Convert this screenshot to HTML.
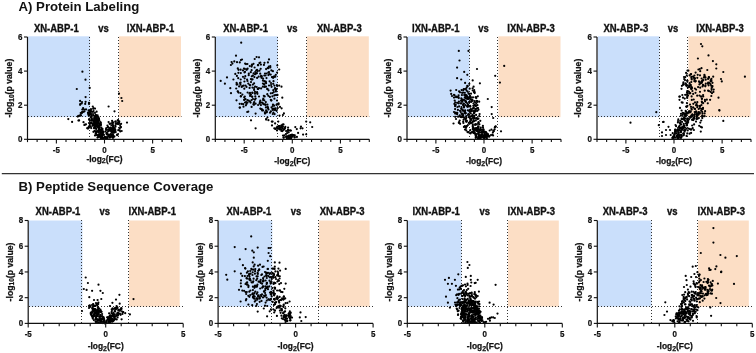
<!DOCTYPE html>
<html><head><meta charset="utf-8"><style>
html,body{margin:0;padding:0;background:#fff;width:756px;height:353px;overflow:hidden}
svg{display:block;will-change:transform}
text{font-family:"Liberation Sans",sans-serif;font-weight:bold;fill:#111}
.tt{font-size:13.2px}
.hd{font-size:9.5px;stroke:#111;stroke-width:0.3px}
.tk{font-size:8px;stroke:#111;stroke-width:0.2px}
.al{font-size:8.7px;stroke:#111;stroke-width:0.25px}
.xl{font-size:8.4px}
circle{fill:#000}
</style></head><body>
<svg width="756" height="353" viewBox="0 0 756 353">
<text x="18.5" y="11.4" class="tt">A) Protein Labeling</text>
<text x="18.5" y="191.2" class="tt">B) Peptide Sequence Coverage</text>
<line x1="1.8" y1="173.6" x2="754" y2="173.6" stroke="#333" stroke-width="1.1"/>
<rect x="28.20" y="36.30" width="61.86" height="80.84" fill="#cadffb"/>
<rect x="118.94" y="36.30" width="62.06" height="80.84" fill="#fcdec5"/>
<line x1="28" y1="116.5" x2="181.50" y2="116.5" stroke="#333" stroke-width="1" stroke-dasharray="1 2"/>
<line x1="89.5" y1="37" x2="89.5" y2="139.30" stroke="#333" stroke-width="1" stroke-dasharray="1 2"/>
<line x1="118.5" y1="37" x2="118.5" y2="139.30" stroke="#333" stroke-width="1" stroke-dasharray="1 2"/>
<circle cx="82.4" cy="71.7" r="1.1"/>
<circle cx="85.5" cy="79.7" r="1.1"/>
<circle cx="76.8" cy="89.0" r="1.1"/>
<circle cx="89.7" cy="87.9" r="1.1"/>
<circle cx="85.6" cy="97.1" r="1.1"/>
<circle cx="80.1" cy="100.9" r="1.1"/>
<circle cx="85.6" cy="101.8" r="1.1"/>
<circle cx="80.1" cy="104.8" r="1.1"/>
<circle cx="85.2" cy="103.9" r="1.1"/>
<circle cx="89.0" cy="103.9" r="1.1"/>
<circle cx="83.1" cy="108.2" r="1.1"/>
<circle cx="86.0" cy="109.4" r="1.1"/>
<circle cx="92.8" cy="106.5" r="1.1"/>
<circle cx="95.0" cy="108.6" r="1.1"/>
<circle cx="81.8" cy="112.4" r="1.1"/>
<circle cx="78.4" cy="115.8" r="1.1"/>
<circle cx="80.1" cy="115.4" r="1.1"/>
<circle cx="78.4" cy="120.5" r="1.1"/>
<circle cx="83.5" cy="122.2" r="1.1"/>
<circle cx="86.0" cy="124.3" r="1.1"/>
<circle cx="68.3" cy="119.1" r="1.1"/>
<circle cx="72.1" cy="121.9" r="1.1"/>
<circle cx="79.1" cy="120.4" r="1.1"/>
<circle cx="77.8" cy="116.6" r="1.1"/>
<circle cx="81.0" cy="115.3" r="1.1"/>
<circle cx="82.3" cy="109.6" r="1.1"/>
<circle cx="108.6" cy="106.5" r="1.1"/>
<circle cx="114.5" cy="111.3" r="1.1"/>
<circle cx="127.0" cy="122.6" r="1.1"/>
<circle cx="108.6" cy="122.0" r="1.1"/>
<circle cx="112.1" cy="120.8" r="1.1"/>
<circle cx="113.3" cy="122.6" r="1.1"/>
<circle cx="118.1" cy="120.2" r="1.1"/>
<circle cx="119.3" cy="121.4" r="1.1"/>
<circle cx="121.1" cy="123.8" r="1.1"/>
<circle cx="120.5" cy="127.4" r="1.1"/>
<circle cx="121.7" cy="131.0" r="1.1"/>
<circle cx="115.7" cy="132.1" r="1.1"/>
<circle cx="107.4" cy="125.6" r="1.1"/>
<circle cx="119.0" cy="93.7" r="1.1"/>
<circle cx="121.4" cy="98.0" r="1.1"/>
<circle cx="122.2" cy="101.0" r="1.1"/>
<circle cx="92.9" cy="111.9" r="1.1"/>
<circle cx="96.7" cy="118.6" r="1.1"/>
<circle cx="89.3" cy="114.1" r="1.1"/>
<circle cx="98.3" cy="137.0" r="1.1"/>
<circle cx="97.4" cy="119.6" r="1.1"/>
<circle cx="89.7" cy="110.8" r="1.1"/>
<circle cx="98.5" cy="118.8" r="1.1"/>
<circle cx="88.2" cy="113.6" r="1.1"/>
<circle cx="99.3" cy="120.6" r="1.1"/>
<circle cx="92.7" cy="125.5" r="1.1"/>
<circle cx="95.2" cy="116.5" r="1.1"/>
<circle cx="101.3" cy="129.1" r="1.1"/>
<circle cx="96.5" cy="134.7" r="1.1"/>
<circle cx="94.6" cy="130.9" r="1.1"/>
<circle cx="100.8" cy="125.2" r="1.1"/>
<circle cx="99.5" cy="125.8" r="1.1"/>
<circle cx="97.5" cy="121.5" r="1.1"/>
<circle cx="102.1" cy="136.9" r="1.1"/>
<circle cx="95.6" cy="128.0" r="1.1"/>
<circle cx="94.0" cy="128.2" r="1.1"/>
<circle cx="90.1" cy="110.8" r="1.1"/>
<circle cx="89.4" cy="114.9" r="1.1"/>
<circle cx="96.9" cy="134.9" r="1.1"/>
<circle cx="101.8" cy="134.3" r="1.1"/>
<circle cx="92.1" cy="120.2" r="1.1"/>
<circle cx="90.3" cy="114.4" r="1.1"/>
<circle cx="91.3" cy="122.4" r="1.1"/>
<circle cx="97.6" cy="115.4" r="1.1"/>
<circle cx="93.7" cy="124.9" r="1.1"/>
<circle cx="96.3" cy="126.6" r="1.1"/>
<circle cx="103.2" cy="131.7" r="1.1"/>
<circle cx="102.8" cy="132.2" r="1.1"/>
<circle cx="94.1" cy="119.7" r="1.1"/>
<circle cx="90.8" cy="112.2" r="1.1"/>
<circle cx="93.2" cy="108.8" r="1.1"/>
<circle cx="91.6" cy="118.0" r="1.1"/>
<circle cx="93.6" cy="111.0" r="1.1"/>
<circle cx="102.3" cy="138.4" r="1.1"/>
<circle cx="95.4" cy="122.3" r="1.1"/>
<circle cx="88.6" cy="110.3" r="1.1"/>
<circle cx="93.2" cy="115.4" r="1.1"/>
<circle cx="96.6" cy="111.7" r="1.1"/>
<circle cx="102.6" cy="129.0" r="1.1"/>
<circle cx="91.8" cy="118.7" r="1.1"/>
<circle cx="96.6" cy="131.6" r="1.1"/>
<circle cx="93.0" cy="114.1" r="1.1"/>
<circle cx="101.6" cy="138.1" r="1.1"/>
<circle cx="102.4" cy="132.5" r="1.1"/>
<circle cx="101.7" cy="130.4" r="1.1"/>
<circle cx="91.2" cy="123.4" r="1.1"/>
<circle cx="93.5" cy="108.0" r="1.1"/>
<circle cx="103.9" cy="138.2" r="1.1"/>
<circle cx="91.0" cy="114.2" r="1.1"/>
<circle cx="90.6" cy="113.5" r="1.1"/>
<circle cx="98.3" cy="135.5" r="1.1"/>
<circle cx="98.8" cy="132.3" r="1.1"/>
<circle cx="103.4" cy="131.7" r="1.1"/>
<circle cx="100.5" cy="122.2" r="1.1"/>
<circle cx="89.4" cy="111.9" r="1.1"/>
<circle cx="103.3" cy="132.5" r="1.1"/>
<circle cx="93.4" cy="124.4" r="1.1"/>
<circle cx="91.6" cy="116.3" r="1.1"/>
<circle cx="91.7" cy="120.3" r="1.1"/>
<circle cx="93.4" cy="121.5" r="1.1"/>
<circle cx="97.5" cy="135.6" r="1.1"/>
<circle cx="96.1" cy="123.9" r="1.1"/>
<circle cx="95.0" cy="112.9" r="1.1"/>
<circle cx="100.1" cy="124.6" r="1.1"/>
<circle cx="92.9" cy="123.4" r="1.1"/>
<circle cx="97.0" cy="131.8" r="1.1"/>
<circle cx="91.5" cy="115.8" r="1.1"/>
<circle cx="100.9" cy="123.1" r="1.1"/>
<circle cx="97.2" cy="131.0" r="1.1"/>
<circle cx="98.1" cy="123.0" r="1.1"/>
<circle cx="96.3" cy="128.9" r="1.1"/>
<circle cx="95.2" cy="123.9" r="1.1"/>
<circle cx="99.6" cy="134.7" r="1.1"/>
<circle cx="88.4" cy="114.7" r="1.1"/>
<circle cx="101.1" cy="135.4" r="1.1"/>
<circle cx="102.9" cy="137.6" r="1.1"/>
<circle cx="94.2" cy="122.4" r="1.1"/>
<circle cx="90.0" cy="120.7" r="1.1"/>
<circle cx="96.3" cy="117.8" r="1.1"/>
<circle cx="90.6" cy="117.1" r="1.1"/>
<circle cx="97.0" cy="121.0" r="1.1"/>
<circle cx="98.3" cy="123.2" r="1.1"/>
<circle cx="101.2" cy="137.7" r="1.1"/>
<circle cx="89.0" cy="115.5" r="1.1"/>
<circle cx="96.2" cy="117.4" r="1.1"/>
<circle cx="99.5" cy="131.3" r="1.1"/>
<circle cx="100.9" cy="124.6" r="1.1"/>
<circle cx="100.3" cy="133.8" r="1.1"/>
<circle cx="98.2" cy="122.5" r="1.1"/>
<circle cx="99.3" cy="136.8" r="1.1"/>
<circle cx="96.1" cy="117.4" r="1.1"/>
<circle cx="99.1" cy="120.1" r="1.1"/>
<circle cx="94.3" cy="118.2" r="1.1"/>
<circle cx="96.6" cy="121.7" r="1.1"/>
<circle cx="98.8" cy="118.6" r="1.1"/>
<circle cx="101.4" cy="127.7" r="1.1"/>
<circle cx="95.2" cy="125.8" r="1.1"/>
<circle cx="98.7" cy="134.6" r="1.1"/>
<circle cx="97.5" cy="126.6" r="1.1"/>
<circle cx="100.9" cy="138.2" r="1.1"/>
<circle cx="101.1" cy="129.8" r="1.1"/>
<circle cx="97.7" cy="122.7" r="1.1"/>
<circle cx="96.0" cy="118.3" r="1.1"/>
<circle cx="96.3" cy="120.2" r="1.1"/>
<circle cx="96.4" cy="125.5" r="1.1"/>
<circle cx="94.9" cy="125.1" r="1.1"/>
<circle cx="96.6" cy="123.0" r="1.1"/>
<circle cx="98.5" cy="126.5" r="1.1"/>
<circle cx="95.4" cy="126.6" r="1.1"/>
<circle cx="94.1" cy="124.0" r="1.1"/>
<circle cx="96.5" cy="120.0" r="1.1"/>
<circle cx="99.7" cy="127.2" r="1.1"/>
<circle cx="101.6" cy="130.3" r="1.1"/>
<circle cx="101.2" cy="135.7" r="1.1"/>
<circle cx="97.5" cy="122.2" r="1.1"/>
<circle cx="101.3" cy="129.9" r="1.1"/>
<circle cx="101.4" cy="134.0" r="1.1"/>
<circle cx="94.7" cy="127.0" r="1.1"/>
<circle cx="98.8" cy="134.6" r="1.1"/>
<circle cx="102.2" cy="134.4" r="1.1"/>
<circle cx="99.7" cy="136.0" r="1.1"/>
<circle cx="100.8" cy="131.1" r="1.1"/>
<circle cx="95.7" cy="115.1" r="1.1"/>
<circle cx="94.6" cy="123.1" r="1.1"/>
<circle cx="99.4" cy="129.6" r="1.1"/>
<circle cx="100.2" cy="130.8" r="1.1"/>
<circle cx="102.1" cy="132.5" r="1.1"/>
<circle cx="98.8" cy="127.3" r="1.1"/>
<circle cx="93.9" cy="120.8" r="1.1"/>
<circle cx="101.5" cy="138.0" r="1.1"/>
<circle cx="98.7" cy="123.6" r="1.1"/>
<circle cx="98.5" cy="130.9" r="1.1"/>
<circle cx="101.8" cy="129.3" r="1.1"/>
<circle cx="94.8" cy="120.5" r="1.1"/>
<circle cx="93.8" cy="120.8" r="1.1"/>
<circle cx="100.7" cy="131.1" r="1.1"/>
<circle cx="98.9" cy="125.6" r="1.1"/>
<circle cx="98.4" cy="117.2" r="1.1"/>
<circle cx="102.4" cy="137.8" r="1.1"/>
<circle cx="98.2" cy="120.8" r="1.1"/>
<circle cx="95.5" cy="128.4" r="1.1"/>
<circle cx="94.7" cy="127.0" r="1.1"/>
<circle cx="98.2" cy="121.6" r="1.1"/>
<circle cx="94.7" cy="122.7" r="1.1"/>
<circle cx="97.3" cy="123.8" r="1.1"/>
<circle cx="97.2" cy="124.7" r="1.1"/>
<circle cx="96.2" cy="115.5" r="1.1"/>
<circle cx="95.9" cy="120.8" r="1.1"/>
<circle cx="98.9" cy="118.9" r="1.1"/>
<circle cx="103.1" cy="134.0" r="1.1"/>
<circle cx="100.2" cy="136.5" r="1.1"/>
<circle cx="101.6" cy="130.0" r="1.1"/>
<circle cx="96.3" cy="115.5" r="1.1"/>
<circle cx="98.4" cy="122.7" r="1.1"/>
<circle cx="96.5" cy="132.3" r="1.1"/>
<circle cx="99.4" cy="123.9" r="1.1"/>
<circle cx="95.0" cy="118.2" r="1.1"/>
<circle cx="98.7" cy="119.6" r="1.1"/>
<circle cx="98.2" cy="117.7" r="1.1"/>
<circle cx="95.3" cy="116.5" r="1.1"/>
<circle cx="97.0" cy="116.5" r="1.1"/>
<circle cx="95.8" cy="120.6" r="1.1"/>
<circle cx="99.5" cy="135.9" r="1.1"/>
<circle cx="97.8" cy="127.0" r="1.1"/>
<circle cx="97.4" cy="122.5" r="1.1"/>
<circle cx="93.8" cy="121.0" r="1.1"/>
<circle cx="98.8" cy="129.6" r="1.1"/>
<circle cx="96.2" cy="120.3" r="1.1"/>
<circle cx="97.6" cy="125.1" r="1.1"/>
<circle cx="103.9" cy="134.9" r="1.1"/>
<circle cx="102.4" cy="135.1" r="1.1"/>
<circle cx="94.3" cy="118.1" r="1.1"/>
<circle cx="99.0" cy="130.9" r="1.1"/>
<circle cx="100.4" cy="132.9" r="1.1"/>
<circle cx="98.3" cy="127.7" r="1.1"/>
<circle cx="94.5" cy="120.4" r="1.1"/>
<circle cx="100.3" cy="131.3" r="1.1"/>
<circle cx="94.4" cy="116.0" r="1.1"/>
<circle cx="99.0" cy="128.5" r="1.1"/>
<circle cx="97.5" cy="119.7" r="1.1"/>
<circle cx="96.5" cy="125.5" r="1.1"/>
<circle cx="95.8" cy="120.3" r="1.1"/>
<circle cx="98.7" cy="130.7" r="1.1"/>
<circle cx="97.8" cy="120.6" r="1.1"/>
<circle cx="100.6" cy="136.8" r="1.1"/>
<circle cx="95.7" cy="115.1" r="1.1"/>
<circle cx="96.9" cy="124.5" r="1.1"/>
<circle cx="102.1" cy="132.3" r="1.1"/>
<circle cx="98.8" cy="119.3" r="1.1"/>
<circle cx="98.7" cy="118.9" r="1.1"/>
<circle cx="95.6" cy="124.4" r="1.1"/>
<circle cx="88.0" cy="128.6" r="1.1"/>
<circle cx="81.8" cy="113.0" r="1.1"/>
<circle cx="81.7" cy="103.5" r="1.1"/>
<circle cx="80.7" cy="113.0" r="1.1"/>
<circle cx="90.8" cy="126.7" r="1.1"/>
<circle cx="91.2" cy="111.2" r="1.1"/>
<circle cx="89.0" cy="102.9" r="1.1"/>
<circle cx="88.0" cy="112.6" r="1.1"/>
<circle cx="84.5" cy="111.3" r="1.1"/>
<circle cx="82.0" cy="102.1" r="1.1"/>
<circle cx="83.4" cy="111.8" r="1.1"/>
<circle cx="84.3" cy="125.0" r="1.1"/>
<circle cx="89.9" cy="114.1" r="1.1"/>
<circle cx="80.6" cy="115.3" r="1.1"/>
<circle cx="82.3" cy="112.2" r="1.1"/>
<circle cx="84.9" cy="124.7" r="1.1"/>
<circle cx="89.2" cy="103.1" r="1.1"/>
<circle cx="80.4" cy="103.8" r="1.1"/>
<circle cx="91.0" cy="109.2" r="1.1"/>
<circle cx="89.0" cy="127.2" r="1.1"/>
<circle cx="84.1" cy="109.6" r="1.1"/>
<circle cx="91.5" cy="119.3" r="1.1"/>
<circle cx="89.8" cy="123.7" r="1.1"/>
<circle cx="88.8" cy="127.7" r="1.1"/>
<circle cx="97.5" cy="137.6" r="1.1"/>
<circle cx="90.6" cy="123.1" r="1.1"/>
<circle cx="91.2" cy="128.1" r="1.1"/>
<circle cx="95.6" cy="133.1" r="1.1"/>
<circle cx="95.9" cy="133.8" r="1.1"/>
<circle cx="93.3" cy="124.7" r="1.1"/>
<circle cx="89.8" cy="125.4" r="1.1"/>
<circle cx="89.0" cy="119.3" r="1.1"/>
<circle cx="89.2" cy="119.7" r="1.1"/>
<circle cx="87.2" cy="128.2" r="1.1"/>
<circle cx="94.5" cy="127.2" r="1.1"/>
<circle cx="88.8" cy="126.5" r="1.1"/>
<circle cx="93.4" cy="131.8" r="1.1"/>
<circle cx="95.0" cy="135.4" r="1.1"/>
<circle cx="92.8" cy="125.6" r="1.1"/>
<circle cx="89.0" cy="123.0" r="1.1"/>
<circle cx="92.9" cy="124.7" r="1.1"/>
<circle cx="95.7" cy="131.4" r="1.1"/>
<circle cx="112.5" cy="135.2" r="1.1"/>
<circle cx="120.7" cy="126.9" r="1.1"/>
<circle cx="119.6" cy="128.4" r="1.1"/>
<circle cx="108.7" cy="134.5" r="1.1"/>
<circle cx="114.7" cy="131.5" r="1.1"/>
<circle cx="107.9" cy="126.9" r="1.1"/>
<circle cx="108.6" cy="131.1" r="1.1"/>
<circle cx="115.7" cy="123.8" r="1.1"/>
<circle cx="116.2" cy="123.4" r="1.1"/>
<circle cx="109.6" cy="123.8" r="1.1"/>
<circle cx="118.3" cy="130.2" r="1.1"/>
<circle cx="111.1" cy="130.2" r="1.1"/>
<circle cx="115.5" cy="121.7" r="1.1"/>
<circle cx="106.9" cy="132.9" r="1.1"/>
<circle cx="111.4" cy="125.3" r="1.1"/>
<circle cx="109.5" cy="137.7" r="1.1"/>
<circle cx="109.6" cy="130.5" r="1.1"/>
<circle cx="110.4" cy="127.7" r="1.1"/>
<circle cx="110.5" cy="123.7" r="1.1"/>
<circle cx="117.1" cy="123.8" r="1.1"/>
<circle cx="111.6" cy="135.3" r="1.1"/>
<circle cx="111.3" cy="136.4" r="1.1"/>
<circle cx="112.3" cy="123.0" r="1.1"/>
<circle cx="105.6" cy="131.6" r="1.1"/>
<circle cx="110.7" cy="129.4" r="1.1"/>
<circle cx="113.4" cy="137.2" r="1.1"/>
<circle cx="106.0" cy="129.1" r="1.1"/>
<circle cx="120.7" cy="127.2" r="1.1"/>
<circle cx="120.3" cy="131.5" r="1.1"/>
<circle cx="118.8" cy="123.0" r="1.1"/>
<circle cx="118.1" cy="124.1" r="1.1"/>
<circle cx="111.3" cy="135.7" r="1.1"/>
<circle cx="118.9" cy="123.4" r="1.1"/>
<circle cx="107.9" cy="127.4" r="1.1"/>
<circle cx="113.3" cy="127.1" r="1.1"/>
<circle cx="117.6" cy="120.7" r="1.1"/>
<circle cx="119.1" cy="122.2" r="1.1"/>
<circle cx="114.8" cy="130.2" r="1.1"/>
<circle cx="115.3" cy="125.7" r="1.1"/>
<circle cx="111.6" cy="130.8" r="1.1"/>
<circle cx="111.7" cy="132.3" r="1.1"/>
<circle cx="112.0" cy="128.2" r="1.1"/>
<circle cx="112.8" cy="124.4" r="1.1"/>
<circle cx="117.7" cy="134.5" r="1.1"/>
<circle cx="112.2" cy="123.3" r="1.1"/>
<circle cx="112.5" cy="122.0" r="1.1"/>
<circle cx="106.3" cy="128.0" r="1.1"/>
<circle cx="115.5" cy="121.5" r="1.1"/>
<circle cx="117.2" cy="134.5" r="1.1"/>
<circle cx="113.1" cy="127.0" r="1.1"/>
<circle cx="117.2" cy="135.2" r="1.1"/>
<circle cx="107.5" cy="138.3" r="1.1"/>
<circle cx="112.9" cy="137.8" r="1.1"/>
<circle cx="117.6" cy="123.0" r="1.1"/>
<circle cx="120.1" cy="125.1" r="1.1"/>
<circle cx="118.7" cy="122.7" r="1.1"/>
<circle cx="113.0" cy="137.1" r="1.1"/>
<circle cx="113.1" cy="125.9" r="1.1"/>
<circle cx="106.9" cy="137.4" r="1.1"/>
<circle cx="107.0" cy="134.6" r="1.1"/>
<circle cx="106.1" cy="129.9" r="1.1"/>
<circle cx="115.5" cy="126.7" r="1.1"/>
<circle cx="119.7" cy="130.3" r="1.1"/>
<circle cx="114.4" cy="136.4" r="1.1"/>
<circle cx="105.9" cy="138.5" r="1.1"/>
<circle cx="112.2" cy="131.0" r="1.1"/>
<circle cx="114.4" cy="129.3" r="1.1"/>
<circle cx="108.7" cy="135.6" r="1.1"/>
<circle cx="109.7" cy="128.2" r="1.1"/>
<circle cx="114.7" cy="129.2" r="1.1"/>
<circle cx="111.6" cy="134.4" r="1.1"/>
<circle cx="112.0" cy="131.4" r="1.1"/>
<circle cx="110.7" cy="137.3" r="1.1"/>
<circle cx="106.9" cy="133.4" r="1.1"/>
<circle cx="111.7" cy="128.6" r="1.1"/>
<circle cx="112.1" cy="132.0" r="1.1"/>
<circle cx="105.8" cy="137.8" r="1.1"/>
<circle cx="109.2" cy="129.3" r="1.1"/>
<circle cx="111.3" cy="130.4" r="1.1"/>
<circle cx="112.4" cy="131.6" r="1.1"/>
<circle cx="107.2" cy="137.4" r="1.1"/>
<circle cx="109.3" cy="129.0" r="1.1"/>
<circle cx="106.6" cy="133.7" r="1.1"/>
<circle cx="110.6" cy="134.1" r="1.1"/>
<circle cx="114.6" cy="128.2" r="1.1"/>
<circle cx="108.0" cy="129.8" r="1.1"/>
<circle cx="104.6" cy="137.2" r="1.1"/>
<circle cx="113.7" cy="131.9" r="1.1"/>
<circle cx="113.6" cy="131.7" r="1.1"/>
<circle cx="108.4" cy="135.4" r="1.1"/>
<circle cx="113.0" cy="136.7" r="1.1"/>
<circle cx="113.3" cy="129.4" r="1.1"/>
<circle cx="111.2" cy="131.5" r="1.1"/>
<circle cx="114.2" cy="132.6" r="1.1"/>
<circle cx="107.4" cy="134.1" r="1.1"/>
<circle cx="113.7" cy="130.1" r="1.1"/>
<circle cx="115.4" cy="130.1" r="1.1"/>
<circle cx="107.1" cy="137.4" r="1.1"/>
<circle cx="112.2" cy="134.7" r="1.1"/>
<circle cx="110.1" cy="136.6" r="1.1"/>
<circle cx="109.7" cy="135.1" r="1.1"/>
<circle cx="111.4" cy="129.9" r="1.1"/>
<circle cx="106.8" cy="133.8" r="1.1"/>
<circle cx="105.0" cy="137.5" r="1.1"/>
<circle cx="105.4" cy="137.7" r="1.1"/>
<circle cx="113.0" cy="134.0" r="1.1"/>
<circle cx="113.1" cy="135.3" r="1.1"/>
<circle cx="108.7" cy="136.3" r="1.1"/>
<circle cx="104.9" cy="136.9" r="1.1"/>
<circle cx="112.2" cy="136.4" r="1.1"/>
<circle cx="112.2" cy="129.6" r="1.1"/>
<circle cx="113.8" cy="128.6" r="1.1"/>
<circle cx="108.1" cy="131.3" r="1.1"/>
<path d="M27.50 37.00V139.30H181.50" fill="none" stroke="#111" stroke-width="1.2"/>
<line x1="24.00" y1="139.30" x2="27.50" y2="139.30" stroke="#111" stroke-width="1.1"/>
<text transform="translate(22.50,142.20) scale(1,1.12)" text-anchor="end" class="tk">0</text>
<line x1="24.00" y1="105.20" x2="27.50" y2="105.20" stroke="#111" stroke-width="1.1"/>
<text transform="translate(22.50,108.10) scale(1,1.12)" text-anchor="end" class="tk">2</text>
<line x1="24.00" y1="71.10" x2="27.50" y2="71.10" stroke="#111" stroke-width="1.1"/>
<text transform="translate(22.50,74.00) scale(1,1.12)" text-anchor="end" class="tk">4</text>
<line x1="24.00" y1="37.00" x2="27.50" y2="37.00" stroke="#111" stroke-width="1.1"/>
<text transform="translate(22.50,39.90) scale(1,1.12)" text-anchor="end" class="tk">6</text>
<line x1="27.50" y1="139.30" x2="27.50" y2="142.10" stroke="#111" stroke-width="1.1"/>
<line x1="37.12" y1="139.30" x2="37.12" y2="142.10" stroke="#111" stroke-width="1.1"/>
<line x1="46.75" y1="139.30" x2="46.75" y2="142.10" stroke="#111" stroke-width="1.1"/>
<line x1="56.38" y1="139.30" x2="56.38" y2="143.50" stroke="#111" stroke-width="1.1"/>
<line x1="66.00" y1="139.30" x2="66.00" y2="142.10" stroke="#111" stroke-width="1.1"/>
<line x1="75.62" y1="139.30" x2="75.62" y2="142.10" stroke="#111" stroke-width="1.1"/>
<line x1="85.25" y1="139.30" x2="85.25" y2="142.10" stroke="#111" stroke-width="1.1"/>
<line x1="94.88" y1="139.30" x2="94.88" y2="142.10" stroke="#111" stroke-width="1.1"/>
<line x1="104.50" y1="139.30" x2="104.50" y2="143.50" stroke="#111" stroke-width="1.1"/>
<line x1="114.12" y1="139.30" x2="114.12" y2="142.10" stroke="#111" stroke-width="1.1"/>
<line x1="123.75" y1="139.30" x2="123.75" y2="142.10" stroke="#111" stroke-width="1.1"/>
<line x1="133.38" y1="139.30" x2="133.38" y2="142.10" stroke="#111" stroke-width="1.1"/>
<line x1="143.00" y1="139.30" x2="143.00" y2="142.10" stroke="#111" stroke-width="1.1"/>
<line x1="152.62" y1="139.30" x2="152.62" y2="143.50" stroke="#111" stroke-width="1.1"/>
<line x1="162.25" y1="139.30" x2="162.25" y2="142.10" stroke="#111" stroke-width="1.1"/>
<line x1="171.88" y1="139.30" x2="171.88" y2="142.10" stroke="#111" stroke-width="1.1"/>
<line x1="181.50" y1="139.30" x2="181.50" y2="142.10" stroke="#111" stroke-width="1.1"/>
<text transform="translate(56.38,152.70) scale(1,1.12)" text-anchor="middle" class="tk">-5</text>
<text transform="translate(104.50,152.70) scale(1,1.12)" text-anchor="middle" class="tk">0</text>
<text transform="translate(152.62,152.70) scale(1,1.12)" text-anchor="middle" class="tk">5</text>
<text x="104.50" y="161.50" text-anchor="middle" class="al xl">-log<tspan font-size="7" dy="1.8">2</tspan><tspan dy="-1.8">(FC)</tspan></text>
<text transform="translate(11.90,88.15) rotate(-90)" text-anchor="middle" class="al">-log<tspan font-size="6.5" dy="1.6">10</tspan><tspan dy="-1.6">(p value)</tspan></text>
<text transform="translate(56.30,31.50) scale(1,1.1)" text-anchor="middle" class="hd">XN-ABP-1</text>
<text transform="translate(103.50,31.50) scale(1,1.1)" text-anchor="middle" class="hd">vs</text>
<text transform="translate(150.50,31.50) scale(1,1.1)" text-anchor="middle" class="hd">IXN-ABP-1</text>
<rect x="28.90" y="220.50" width="53.55" height="86.18" fill="#cadffb"/>
<rect x="128.95" y="220.50" width="50.75" height="86.18" fill="#fcdec5"/>
<line x1="29" y1="306.5" x2="183.20" y2="306.5" stroke="#333" stroke-width="1" stroke-dasharray="1 2"/>
<line x1="81.5" y1="220" x2="81.5" y2="323.40" stroke="#333" stroke-width="1" stroke-dasharray="1 2"/>
<line x1="128.5" y1="220" x2="128.5" y2="323.40" stroke="#333" stroke-width="1" stroke-dasharray="1 2"/>
<circle cx="85.7" cy="277.5" r="1.1"/>
<circle cx="87.9" cy="283.0" r="1.1"/>
<circle cx="98.5" cy="284.7" r="1.1"/>
<circle cx="83.8" cy="289.0" r="1.1"/>
<circle cx="86.6" cy="289.9" r="1.1"/>
<circle cx="92.1" cy="290.8" r="1.1"/>
<circle cx="100.4" cy="290.8" r="1.1"/>
<circle cx="102.8" cy="293.0" r="1.1"/>
<circle cx="89.3" cy="297.2" r="1.1"/>
<circle cx="101.3" cy="299.0" r="1.1"/>
<circle cx="94.0" cy="300.0" r="1.1"/>
<circle cx="97.6" cy="300.0" r="1.1"/>
<circle cx="119.4" cy="294.8" r="1.1"/>
<circle cx="116.0" cy="299.6" r="1.1"/>
<circle cx="119.7" cy="303.7" r="1.1"/>
<circle cx="112.4" cy="302.8" r="1.1"/>
<circle cx="133.5" cy="299.1" r="1.1"/>
<circle cx="82.0" cy="311.0" r="1.1"/>
<circle cx="125.2" cy="313.2" r="1.1"/>
<circle cx="129.9" cy="314.4" r="1.1"/>
<circle cx="121.6" cy="319.3" r="1.1"/>
<circle cx="92.0" cy="305.0" r="1.1"/>
<circle cx="89.0" cy="308.0" r="1.1"/>
<circle cx="96.0" cy="303.0" r="1.1"/>
<circle cx="110.0" cy="306.0" r="1.1"/>
<circle cx="112.0" cy="310.0" r="1.1"/>
<circle cx="97.4" cy="315.4" r="1.1"/>
<circle cx="101.3" cy="319.3" r="1.1"/>
<circle cx="93.2" cy="310.4" r="1.1"/>
<circle cx="93.2" cy="315.9" r="1.1"/>
<circle cx="95.5" cy="310.8" r="1.1"/>
<circle cx="99.9" cy="316.3" r="1.1"/>
<circle cx="102.6" cy="318.6" r="1.1"/>
<circle cx="101.6" cy="311.8" r="1.1"/>
<circle cx="97.4" cy="320.7" r="1.1"/>
<circle cx="104.9" cy="322.2" r="1.1"/>
<circle cx="92.8" cy="318.6" r="1.1"/>
<circle cx="98.8" cy="314.4" r="1.1"/>
<circle cx="92.9" cy="310.4" r="1.1"/>
<circle cx="97.5" cy="315.7" r="1.1"/>
<circle cx="94.4" cy="313.9" r="1.1"/>
<circle cx="98.8" cy="319.8" r="1.1"/>
<circle cx="99.3" cy="310.7" r="1.1"/>
<circle cx="104.9" cy="323.1" r="1.1"/>
<circle cx="92.5" cy="317.1" r="1.1"/>
<circle cx="98.7" cy="313.0" r="1.1"/>
<circle cx="92.3" cy="312.6" r="1.1"/>
<circle cx="99.9" cy="316.8" r="1.1"/>
<circle cx="100.0" cy="316.5" r="1.1"/>
<circle cx="103.4" cy="318.4" r="1.1"/>
<circle cx="95.8" cy="317.4" r="1.1"/>
<circle cx="98.8" cy="311.4" r="1.1"/>
<circle cx="98.1" cy="310.1" r="1.1"/>
<circle cx="103.0" cy="318.4" r="1.1"/>
<circle cx="100.7" cy="322.3" r="1.1"/>
<circle cx="91.1" cy="314.7" r="1.1"/>
<circle cx="99.0" cy="308.4" r="1.1"/>
<circle cx="96.7" cy="321.9" r="1.1"/>
<circle cx="99.3" cy="320.7" r="1.1"/>
<circle cx="98.2" cy="313.2" r="1.1"/>
<circle cx="102.9" cy="323.1" r="1.1"/>
<circle cx="94.5" cy="310.5" r="1.1"/>
<circle cx="95.9" cy="318.3" r="1.1"/>
<circle cx="104.8" cy="323.3" r="1.1"/>
<circle cx="100.3" cy="310.7" r="1.1"/>
<circle cx="101.4" cy="316.6" r="1.1"/>
<circle cx="95.8" cy="321.9" r="1.1"/>
<circle cx="94.3" cy="310.4" r="1.1"/>
<circle cx="92.8" cy="310.6" r="1.1"/>
<circle cx="99.3" cy="320.4" r="1.1"/>
<circle cx="92.8" cy="315.9" r="1.1"/>
<circle cx="99.1" cy="316.8" r="1.1"/>
<circle cx="96.6" cy="316.5" r="1.1"/>
<circle cx="96.8" cy="311.9" r="1.1"/>
<circle cx="91.8" cy="315.5" r="1.1"/>
<circle cx="96.3" cy="313.4" r="1.1"/>
<circle cx="100.5" cy="320.9" r="1.1"/>
<circle cx="97.2" cy="315.9" r="1.1"/>
<circle cx="91.6" cy="313.3" r="1.1"/>
<circle cx="96.8" cy="313.0" r="1.1"/>
<circle cx="98.1" cy="322.4" r="1.1"/>
<circle cx="94.1" cy="310.6" r="1.1"/>
<circle cx="95.0" cy="313.2" r="1.1"/>
<circle cx="104.1" cy="319.0" r="1.1"/>
<circle cx="96.9" cy="310.8" r="1.1"/>
<circle cx="103.2" cy="318.1" r="1.1"/>
<circle cx="92.8" cy="317.7" r="1.1"/>
<circle cx="95.5" cy="309.8" r="1.1"/>
<circle cx="101.6" cy="319.1" r="1.1"/>
<circle cx="98.1" cy="310.8" r="1.1"/>
<circle cx="100.5" cy="314.8" r="1.1"/>
<circle cx="100.4" cy="309.7" r="1.1"/>
<circle cx="93.8" cy="314.3" r="1.1"/>
<circle cx="93.4" cy="309.6" r="1.1"/>
<circle cx="95.5" cy="312.3" r="1.1"/>
<circle cx="100.5" cy="311.7" r="1.1"/>
<circle cx="96.5" cy="318.7" r="1.1"/>
<circle cx="96.9" cy="310.7" r="1.1"/>
<circle cx="91.9" cy="315.9" r="1.1"/>
<circle cx="97.8" cy="311.2" r="1.1"/>
<circle cx="100.5" cy="315.8" r="1.1"/>
<circle cx="104.5" cy="320.6" r="1.1"/>
<circle cx="97.6" cy="310.4" r="1.1"/>
<circle cx="97.7" cy="310.2" r="1.1"/>
<circle cx="100.8" cy="318.8" r="1.1"/>
<circle cx="99.1" cy="323.0" r="1.1"/>
<circle cx="95.3" cy="309.1" r="1.1"/>
<circle cx="99.2" cy="319.2" r="1.1"/>
<circle cx="95.7" cy="318.8" r="1.1"/>
<circle cx="95.9" cy="319.1" r="1.1"/>
<circle cx="103.5" cy="317.9" r="1.1"/>
<circle cx="96.1" cy="318.4" r="1.1"/>
<circle cx="95.7" cy="321.5" r="1.1"/>
<circle cx="104.1" cy="320.2" r="1.1"/>
<circle cx="103.5" cy="317.2" r="1.1"/>
<circle cx="93.4" cy="316.1" r="1.1"/>
<circle cx="97.7" cy="313.4" r="1.1"/>
<circle cx="96.0" cy="316.0" r="1.1"/>
<circle cx="99.3" cy="311.7" r="1.1"/>
<circle cx="94.6" cy="315.9" r="1.1"/>
<circle cx="98.0" cy="314.6" r="1.1"/>
<circle cx="100.4" cy="311.1" r="1.1"/>
<circle cx="98.4" cy="312.5" r="1.1"/>
<circle cx="102.0" cy="318.9" r="1.1"/>
<circle cx="102.2" cy="316.1" r="1.1"/>
<circle cx="98.1" cy="314.0" r="1.1"/>
<circle cx="94.8" cy="314.4" r="1.1"/>
<circle cx="101.1" cy="320.7" r="1.1"/>
<circle cx="97.7" cy="319.3" r="1.1"/>
<circle cx="93.6" cy="315.1" r="1.1"/>
<circle cx="95.8" cy="312.9" r="1.1"/>
<circle cx="95.8" cy="319.7" r="1.1"/>
<circle cx="93.9" cy="320.1" r="1.1"/>
<circle cx="100.3" cy="318.5" r="1.1"/>
<circle cx="100.0" cy="318.8" r="1.1"/>
<circle cx="94.5" cy="309.2" r="1.1"/>
<circle cx="100.5" cy="322.9" r="1.1"/>
<circle cx="95.5" cy="309.9" r="1.1"/>
<circle cx="102.4" cy="319.4" r="1.1"/>
<circle cx="97.8" cy="313.9" r="1.1"/>
<circle cx="94.5" cy="315.7" r="1.1"/>
<circle cx="101.2" cy="321.8" r="1.1"/>
<circle cx="103.2" cy="321.4" r="1.1"/>
<circle cx="97.0" cy="314.7" r="1.1"/>
<circle cx="93.2" cy="310.7" r="1.1"/>
<circle cx="103.3" cy="321.8" r="1.1"/>
<circle cx="96.9" cy="311.2" r="1.1"/>
<circle cx="102.1" cy="314.0" r="1.1"/>
<circle cx="90.8" cy="312.6" r="1.1"/>
<circle cx="95.6" cy="305.6" r="1.1"/>
<circle cx="97.9" cy="303.6" r="1.1"/>
<circle cx="94.6" cy="310.7" r="1.1"/>
<circle cx="94.0" cy="309.5" r="1.1"/>
<circle cx="98.4" cy="302.6" r="1.1"/>
<circle cx="98.2" cy="304.1" r="1.1"/>
<circle cx="92.0" cy="312.0" r="1.1"/>
<circle cx="97.8" cy="308.0" r="1.1"/>
<circle cx="93.9" cy="309.0" r="1.1"/>
<circle cx="98.0" cy="307.1" r="1.1"/>
<circle cx="93.7" cy="305.8" r="1.1"/>
<circle cx="94.4" cy="312.6" r="1.1"/>
<circle cx="90.7" cy="313.8" r="1.1"/>
<circle cx="92.6" cy="312.0" r="1.1"/>
<circle cx="92.7" cy="308.2" r="1.1"/>
<circle cx="100.9" cy="311.3" r="1.1"/>
<circle cx="93.0" cy="310.9" r="1.1"/>
<circle cx="89.8" cy="305.3" r="1.1"/>
<circle cx="92.4" cy="308.7" r="1.1"/>
<circle cx="100.7" cy="311.8" r="1.1"/>
<circle cx="97.2" cy="305.4" r="1.1"/>
<circle cx="92.9" cy="310.5" r="1.1"/>
<circle cx="90.4" cy="306.5" r="1.1"/>
<circle cx="94.5" cy="306.1" r="1.1"/>
<circle cx="96.6" cy="304.1" r="1.1"/>
<circle cx="118.3" cy="314.7" r="1.1"/>
<circle cx="114.7" cy="314.3" r="1.1"/>
<circle cx="112.0" cy="320.9" r="1.1"/>
<circle cx="108.9" cy="321.2" r="1.1"/>
<circle cx="111.7" cy="311.5" r="1.1"/>
<circle cx="116.6" cy="315.6" r="1.1"/>
<circle cx="123.1" cy="312.1" r="1.1"/>
<circle cx="107.1" cy="317.3" r="1.1"/>
<circle cx="115.1" cy="311.4" r="1.1"/>
<circle cx="111.2" cy="320.6" r="1.1"/>
<circle cx="111.4" cy="313.0" r="1.1"/>
<circle cx="123.2" cy="312.0" r="1.1"/>
<circle cx="112.6" cy="308.4" r="1.1"/>
<circle cx="117.6" cy="317.4" r="1.1"/>
<circle cx="113.4" cy="312.8" r="1.1"/>
<circle cx="109.3" cy="319.6" r="1.1"/>
<circle cx="113.6" cy="320.4" r="1.1"/>
<circle cx="112.1" cy="318.6" r="1.1"/>
<circle cx="117.8" cy="314.4" r="1.1"/>
<circle cx="113.9" cy="309.0" r="1.1"/>
<circle cx="108.2" cy="317.0" r="1.1"/>
<circle cx="118.2" cy="310.1" r="1.1"/>
<circle cx="117.2" cy="307.9" r="1.1"/>
<circle cx="116.6" cy="308.6" r="1.1"/>
<circle cx="114.6" cy="311.1" r="1.1"/>
<circle cx="115.4" cy="307.9" r="1.1"/>
<circle cx="114.1" cy="316.5" r="1.1"/>
<circle cx="117.9" cy="315.3" r="1.1"/>
<circle cx="116.7" cy="319.5" r="1.1"/>
<circle cx="115.8" cy="309.5" r="1.1"/>
<circle cx="113.4" cy="320.4" r="1.1"/>
<circle cx="115.7" cy="319.0" r="1.1"/>
<circle cx="111.9" cy="313.5" r="1.1"/>
<circle cx="117.4" cy="307.4" r="1.1"/>
<circle cx="116.6" cy="306.1" r="1.1"/>
<circle cx="118.8" cy="310.3" r="1.1"/>
<circle cx="121.1" cy="308.7" r="1.1"/>
<circle cx="120.7" cy="314.8" r="1.1"/>
<circle cx="113.3" cy="320.4" r="1.1"/>
<circle cx="118.0" cy="315.0" r="1.1"/>
<circle cx="121.4" cy="309.1" r="1.1"/>
<circle cx="122.1" cy="311.6" r="1.1"/>
<circle cx="116.8" cy="307.7" r="1.1"/>
<circle cx="110.2" cy="322.0" r="1.1"/>
<circle cx="120.1" cy="310.5" r="1.1"/>
<circle cx="118.9" cy="309.6" r="1.1"/>
<circle cx="106.6" cy="322.1" r="1.1"/>
<circle cx="115.4" cy="316.5" r="1.1"/>
<circle cx="121.4" cy="308.1" r="1.1"/>
<circle cx="118.3" cy="313.8" r="1.1"/>
<circle cx="119.9" cy="313.7" r="1.1"/>
<circle cx="108.7" cy="322.6" r="1.1"/>
<circle cx="110.3" cy="318.8" r="1.1"/>
<circle cx="120.8" cy="309.9" r="1.1"/>
<circle cx="118.2" cy="312.6" r="1.1"/>
<circle cx="123.1" cy="312.1" r="1.1"/>
<circle cx="114.6" cy="314.5" r="1.1"/>
<circle cx="111.7" cy="309.3" r="1.1"/>
<circle cx="111.5" cy="318.6" r="1.1"/>
<circle cx="117.5" cy="312.8" r="1.1"/>
<circle cx="114.9" cy="308.3" r="1.1"/>
<circle cx="122.4" cy="313.9" r="1.1"/>
<circle cx="114.6" cy="319.6" r="1.1"/>
<circle cx="108.7" cy="318.4" r="1.1"/>
<circle cx="111.6" cy="320.0" r="1.1"/>
<circle cx="117.0" cy="314.1" r="1.1"/>
<circle cx="112.1" cy="315.9" r="1.1"/>
<circle cx="109.1" cy="313.3" r="1.1"/>
<circle cx="109.7" cy="320.4" r="1.1"/>
<circle cx="115.4" cy="316.3" r="1.1"/>
<circle cx="116.9" cy="307.7" r="1.1"/>
<circle cx="119.7" cy="310.7" r="1.1"/>
<circle cx="92.4" cy="307.7" r="1.1"/>
<circle cx="89.0" cy="305.9" r="1.1"/>
<circle cx="93.1" cy="304.0" r="1.1"/>
<circle cx="89.8" cy="307.0" r="1.1"/>
<circle cx="89.9" cy="306.3" r="1.1"/>
<circle cx="93.4" cy="306.1" r="1.1"/>
<circle cx="93.0" cy="308.9" r="1.1"/>
<circle cx="93.4" cy="304.5" r="1.1"/>
<circle cx="113.7" cy="316.2" r="1.1"/>
<circle cx="113.1" cy="315.4" r="1.1"/>
<circle cx="111.5" cy="319.7" r="1.1"/>
<circle cx="109.4" cy="318.0" r="1.1"/>
<circle cx="112.8" cy="314.6" r="1.1"/>
<circle cx="111.3" cy="320.6" r="1.1"/>
<circle cx="106.6" cy="321.7" r="1.1"/>
<circle cx="110.6" cy="315.6" r="1.1"/>
<circle cx="108.7" cy="317.8" r="1.1"/>
<circle cx="109.4" cy="321.2" r="1.1"/>
<circle cx="113.1" cy="314.2" r="1.1"/>
<circle cx="112.8" cy="321.1" r="1.1"/>
<circle cx="109.8" cy="322.7" r="1.1"/>
<circle cx="109.6" cy="316.2" r="1.1"/>
<circle cx="106.3" cy="322.9" r="1.1"/>
<circle cx="110.9" cy="317.6" r="1.1"/>
<circle cx="110.1" cy="321.0" r="1.1"/>
<circle cx="114.2" cy="318.0" r="1.1"/>
<circle cx="112.4" cy="318.8" r="1.1"/>
<circle cx="110.3" cy="319.0" r="1.1"/>
<circle cx="108.1" cy="318.8" r="1.1"/>
<circle cx="109.4" cy="322.2" r="1.1"/>
<circle cx="112.1" cy="319.6" r="1.1"/>
<circle cx="114.4" cy="317.9" r="1.1"/>
<circle cx="113.0" cy="320.6" r="1.1"/>
<circle cx="107.6" cy="319.7" r="1.1"/>
<circle cx="112.4" cy="319.8" r="1.1"/>
<circle cx="108.9" cy="319.2" r="1.1"/>
<circle cx="112.5" cy="316.0" r="1.1"/>
<circle cx="113.8" cy="316.2" r="1.1"/>
<circle cx="111.2" cy="321.4" r="1.1"/>
<circle cx="106.7" cy="320.6" r="1.1"/>
<circle cx="106.2" cy="322.7" r="1.1"/>
<circle cx="109.6" cy="318.2" r="1.1"/>
<circle cx="111.0" cy="316.1" r="1.1"/>
<circle cx="110.1" cy="315.4" r="1.1"/>
<circle cx="112.3" cy="321.7" r="1.1"/>
<path d="M28.20 220.50V323.40H183.20" fill="none" stroke="#111" stroke-width="1.2"/>
<line x1="24.70" y1="323.40" x2="28.20" y2="323.40" stroke="#111" stroke-width="1.1"/>
<text transform="translate(23.20,326.30) scale(1,1.12)" text-anchor="end" class="tk">0</text>
<line x1="24.70" y1="297.67" x2="28.20" y2="297.67" stroke="#111" stroke-width="1.1"/>
<text transform="translate(23.20,300.57) scale(1,1.12)" text-anchor="end" class="tk">2</text>
<line x1="24.70" y1="271.95" x2="28.20" y2="271.95" stroke="#111" stroke-width="1.1"/>
<text transform="translate(23.20,274.85) scale(1,1.12)" text-anchor="end" class="tk">4</text>
<line x1="24.70" y1="246.22" x2="28.20" y2="246.22" stroke="#111" stroke-width="1.1"/>
<text transform="translate(23.20,249.12) scale(1,1.12)" text-anchor="end" class="tk">6</text>
<line x1="24.70" y1="220.50" x2="28.20" y2="220.50" stroke="#111" stroke-width="1.1"/>
<text transform="translate(23.20,223.40) scale(1,1.12)" text-anchor="end" class="tk">8</text>
<line x1="28.20" y1="323.40" x2="28.20" y2="327.60" stroke="#111" stroke-width="1.1"/>
<line x1="43.70" y1="323.40" x2="43.70" y2="326.20" stroke="#111" stroke-width="1.1"/>
<line x1="59.20" y1="323.40" x2="59.20" y2="326.20" stroke="#111" stroke-width="1.1"/>
<line x1="74.70" y1="323.40" x2="74.70" y2="326.20" stroke="#111" stroke-width="1.1"/>
<line x1="90.20" y1="323.40" x2="90.20" y2="326.20" stroke="#111" stroke-width="1.1"/>
<line x1="105.70" y1="323.40" x2="105.70" y2="327.60" stroke="#111" stroke-width="1.1"/>
<line x1="121.20" y1="323.40" x2="121.20" y2="326.20" stroke="#111" stroke-width="1.1"/>
<line x1="136.70" y1="323.40" x2="136.70" y2="326.20" stroke="#111" stroke-width="1.1"/>
<line x1="152.20" y1="323.40" x2="152.20" y2="326.20" stroke="#111" stroke-width="1.1"/>
<line x1="167.70" y1="323.40" x2="167.70" y2="326.20" stroke="#111" stroke-width="1.1"/>
<line x1="183.20" y1="323.40" x2="183.20" y2="327.60" stroke="#111" stroke-width="1.1"/>
<text transform="translate(28.20,337.20) scale(1,1.12)" text-anchor="middle" class="tk">-5</text>
<text transform="translate(105.70,337.20) scale(1,1.12)" text-anchor="middle" class="tk">0</text>
<text transform="translate(183.20,337.20) scale(1,1.12)" text-anchor="middle" class="tk">5</text>
<text x="105.70" y="348.80" text-anchor="middle" class="al xl">-log<tspan font-size="7" dy="1.8">2</tspan><tspan dy="-1.8">(FC)</tspan></text>
<text transform="translate(12.60,271.95) rotate(-90)" text-anchor="middle" class="al">-log<tspan font-size="6.5" dy="1.6">10</tspan><tspan dy="-1.6">(p value)</tspan></text>
<text transform="translate(58.00,215.00) scale(1,1.1)" text-anchor="middle" class="hd">XN-ABP-1</text>
<text transform="translate(104.70,215.00) scale(1,1.1)" text-anchor="middle" class="hd">vs</text>
<text transform="translate(152.20,215.00) scale(1,1.1)" text-anchor="middle" class="hd">IXN-ABP-1</text>
<rect x="216.00" y="36.30" width="61.86" height="80.84" fill="#cadffb"/>
<rect x="306.74" y="36.30" width="62.06" height="80.84" fill="#fcdec5"/>
<line x1="216" y1="116.5" x2="369.30" y2="116.5" stroke="#333" stroke-width="1" stroke-dasharray="1 2"/>
<line x1="277.5" y1="37" x2="277.5" y2="139.30" stroke="#333" stroke-width="1" stroke-dasharray="1 2"/>
<line x1="306.5" y1="37" x2="306.5" y2="139.30" stroke="#333" stroke-width="1" stroke-dasharray="1 2"/>
<circle cx="241.2" cy="42.7" r="1.1"/>
<circle cx="236.0" cy="55.7" r="1.1"/>
<circle cx="237.0" cy="62.2" r="1.1"/>
<circle cx="230.9" cy="65.0" r="1.1"/>
<circle cx="254.7" cy="59.0" r="1.1"/>
<circle cx="260.3" cy="62.5" r="1.1"/>
<circle cx="277.3" cy="65.3" r="1.1"/>
<circle cx="220.7" cy="80.9" r="1.1"/>
<circle cx="224.9" cy="83.7" r="1.1"/>
<circle cx="227.0" cy="77.4" r="1.1"/>
<circle cx="233.4" cy="79.5" r="1.1"/>
<circle cx="251.0" cy="120.3" r="1.1"/>
<circle cx="255.6" cy="128.3" r="1.1"/>
<circle cx="306.2" cy="121.6" r="1.1"/>
<circle cx="310.2" cy="122.3" r="1.1"/>
<circle cx="312.2" cy="127.0" r="1.1"/>
<circle cx="306.2" cy="134.3" r="1.1"/>
<circle cx="274.3" cy="128.3" r="1.1"/>
<circle cx="239.6" cy="107.6" r="1.1"/>
<circle cx="248.3" cy="111.6" r="1.1"/>
<circle cx="255.6" cy="113.6" r="1.1"/>
<circle cx="265.0" cy="113.6" r="1.1"/>
<circle cx="275.6" cy="108.3" r="1.1"/>
<circle cx="281.6" cy="108.3" r="1.1"/>
<circle cx="282.3" cy="97.7" r="1.1"/>
<circle cx="282.9" cy="115.0" r="1.1"/>
<circle cx="278.3" cy="121.6" r="1.1"/>
<circle cx="236.9" cy="75.9" r="1.1"/>
<circle cx="248.7" cy="100.7" r="1.1"/>
<circle cx="252.6" cy="79.3" r="1.1"/>
<circle cx="274.3" cy="95.4" r="1.1"/>
<circle cx="237.4" cy="84.3" r="1.1"/>
<circle cx="255.6" cy="103.7" r="1.1"/>
<circle cx="251.6" cy="100.1" r="1.1"/>
<circle cx="260.2" cy="73.7" r="1.1"/>
<circle cx="272.9" cy="71.2" r="1.1"/>
<circle cx="236.2" cy="88.5" r="1.1"/>
<circle cx="258.1" cy="105.0" r="1.1"/>
<circle cx="244.3" cy="88.7" r="1.1"/>
<circle cx="251.6" cy="106.9" r="1.1"/>
<circle cx="248.8" cy="73.6" r="1.1"/>
<circle cx="267.5" cy="88.9" r="1.1"/>
<circle cx="240.9" cy="96.4" r="1.1"/>
<circle cx="267.4" cy="104.5" r="1.1"/>
<circle cx="264.3" cy="81.2" r="1.1"/>
<circle cx="254.1" cy="83.3" r="1.1"/>
<circle cx="245.3" cy="76.2" r="1.1"/>
<circle cx="276.6" cy="89.1" r="1.1"/>
<circle cx="246.5" cy="86.9" r="1.1"/>
<circle cx="259.9" cy="102.7" r="1.1"/>
<circle cx="269.9" cy="96.9" r="1.1"/>
<circle cx="251.7" cy="79.6" r="1.1"/>
<circle cx="265.8" cy="102.1" r="1.1"/>
<circle cx="243.6" cy="85.7" r="1.1"/>
<circle cx="270.8" cy="93.3" r="1.1"/>
<circle cx="241.7" cy="86.9" r="1.1"/>
<circle cx="275.8" cy="74.8" r="1.1"/>
<circle cx="244.6" cy="78.3" r="1.1"/>
<circle cx="267.6" cy="107.6" r="1.1"/>
<circle cx="243.0" cy="70.4" r="1.1"/>
<circle cx="247.1" cy="79.6" r="1.1"/>
<circle cx="259.5" cy="70.7" r="1.1"/>
<circle cx="250.8" cy="72.2" r="1.1"/>
<circle cx="240.6" cy="82.7" r="1.1"/>
<circle cx="269.0" cy="85.5" r="1.1"/>
<circle cx="244.8" cy="96.5" r="1.1"/>
<circle cx="240.8" cy="73.1" r="1.1"/>
<circle cx="253.5" cy="63.8" r="1.1"/>
<circle cx="254.0" cy="104.7" r="1.1"/>
<circle cx="267.2" cy="89.0" r="1.1"/>
<circle cx="264.5" cy="87.0" r="1.1"/>
<circle cx="242.4" cy="94.6" r="1.1"/>
<circle cx="254.2" cy="102.0" r="1.1"/>
<circle cx="276.9" cy="85.2" r="1.1"/>
<circle cx="261.8" cy="102.5" r="1.1"/>
<circle cx="255.0" cy="74.3" r="1.1"/>
<circle cx="268.5" cy="109.5" r="1.1"/>
<circle cx="270.8" cy="99.8" r="1.1"/>
<circle cx="274.4" cy="98.7" r="1.1"/>
<circle cx="264.9" cy="86.5" r="1.1"/>
<circle cx="250.1" cy="95.9" r="1.1"/>
<circle cx="240.4" cy="84.7" r="1.1"/>
<circle cx="271.2" cy="100.5" r="1.1"/>
<circle cx="264.3" cy="75.5" r="1.1"/>
<circle cx="255.1" cy="86.6" r="1.1"/>
<circle cx="264.0" cy="84.1" r="1.1"/>
<circle cx="266.4" cy="112.2" r="1.1"/>
<circle cx="244.2" cy="97.3" r="1.1"/>
<circle cx="271.0" cy="83.0" r="1.1"/>
<circle cx="237.7" cy="91.3" r="1.1"/>
<circle cx="243.2" cy="104.2" r="1.1"/>
<circle cx="240.5" cy="93.0" r="1.1"/>
<circle cx="260.3" cy="100.7" r="1.1"/>
<circle cx="259.0" cy="96.5" r="1.1"/>
<circle cx="273.3" cy="90.2" r="1.1"/>
<circle cx="245.5" cy="99.0" r="1.1"/>
<circle cx="253.7" cy="103.2" r="1.1"/>
<circle cx="252.0" cy="65.1" r="1.1"/>
<circle cx="248.3" cy="83.6" r="1.1"/>
<circle cx="236.6" cy="84.6" r="1.1"/>
<circle cx="254.9" cy="99.7" r="1.1"/>
<circle cx="251.8" cy="76.3" r="1.1"/>
<circle cx="246.1" cy="102.0" r="1.1"/>
<circle cx="245.9" cy="105.3" r="1.1"/>
<circle cx="253.6" cy="73.4" r="1.1"/>
<circle cx="241.8" cy="103.9" r="1.1"/>
<circle cx="272.4" cy="96.3" r="1.1"/>
<circle cx="257.1" cy="92.4" r="1.1"/>
<circle cx="251.9" cy="96.5" r="1.1"/>
<circle cx="272.8" cy="106.1" r="1.1"/>
<circle cx="257.1" cy="77.9" r="1.1"/>
<circle cx="260.7" cy="68.8" r="1.1"/>
<circle cx="273.5" cy="81.2" r="1.1"/>
<circle cx="274.3" cy="76.4" r="1.1"/>
<circle cx="252.9" cy="75.7" r="1.1"/>
<circle cx="255.2" cy="72.0" r="1.1"/>
<circle cx="248.7" cy="75.2" r="1.1"/>
<circle cx="249.6" cy="87.9" r="1.1"/>
<circle cx="255.3" cy="96.4" r="1.1"/>
<circle cx="265.7" cy="81.6" r="1.1"/>
<circle cx="277.8" cy="108.1" r="1.1"/>
<circle cx="276.8" cy="104.3" r="1.1"/>
<circle cx="264.5" cy="62.8" r="1.1"/>
<circle cx="265.5" cy="75.5" r="1.1"/>
<circle cx="240.6" cy="69.7" r="1.1"/>
<circle cx="246.5" cy="103.9" r="1.1"/>
<circle cx="251.6" cy="70.2" r="1.1"/>
<circle cx="276.7" cy="104.8" r="1.1"/>
<circle cx="263.4" cy="104.2" r="1.1"/>
<circle cx="266.1" cy="110.3" r="1.1"/>
<circle cx="271.5" cy="107.3" r="1.1"/>
<circle cx="244.9" cy="99.4" r="1.1"/>
<circle cx="259.9" cy="102.1" r="1.1"/>
<circle cx="261.0" cy="76.3" r="1.1"/>
<circle cx="246.5" cy="69.5" r="1.1"/>
<circle cx="258.2" cy="65.2" r="1.1"/>
<circle cx="257.0" cy="69.8" r="1.1"/>
<circle cx="258.1" cy="88.9" r="1.1"/>
<circle cx="260.3" cy="108.6" r="1.1"/>
<circle cx="257.1" cy="92.4" r="1.1"/>
<circle cx="265.9" cy="107.4" r="1.1"/>
<circle cx="252.9" cy="84.6" r="1.1"/>
<circle cx="264.7" cy="96.4" r="1.1"/>
<circle cx="266.7" cy="112.3" r="1.1"/>
<circle cx="259.0" cy="88.2" r="1.1"/>
<circle cx="268.3" cy="95.8" r="1.1"/>
<circle cx="252.5" cy="87.6" r="1.1"/>
<circle cx="259.6" cy="103.6" r="1.1"/>
<circle cx="245.5" cy="85.5" r="1.1"/>
<circle cx="255.0" cy="91.9" r="1.1"/>
<circle cx="273.2" cy="77.8" r="1.1"/>
<circle cx="273.2" cy="83.8" r="1.1"/>
<circle cx="258.7" cy="76.7" r="1.1"/>
<circle cx="265.5" cy="104.8" r="1.1"/>
<circle cx="250.9" cy="79.1" r="1.1"/>
<circle cx="249.5" cy="93.7" r="1.1"/>
<circle cx="264.6" cy="104.3" r="1.1"/>
<circle cx="275.9" cy="91.5" r="1.1"/>
<circle cx="238.2" cy="78.2" r="1.1"/>
<circle cx="277.5" cy="94.9" r="1.1"/>
<circle cx="265.6" cy="104.6" r="1.1"/>
<circle cx="276.9" cy="95.0" r="1.1"/>
<circle cx="263.8" cy="95.8" r="1.1"/>
<circle cx="267.3" cy="94.2" r="1.1"/>
<circle cx="266.6" cy="73.5" r="1.1"/>
<circle cx="266.0" cy="86.7" r="1.1"/>
<circle cx="270.3" cy="67.5" r="1.1"/>
<circle cx="270.9" cy="111.4" r="1.1"/>
<circle cx="265.5" cy="81.9" r="1.1"/>
<circle cx="273.0" cy="104.5" r="1.1"/>
<circle cx="261.3" cy="75.9" r="1.1"/>
<circle cx="249.6" cy="84.8" r="1.1"/>
<circle cx="250.3" cy="85.3" r="1.1"/>
<circle cx="264.9" cy="112.4" r="1.1"/>
<circle cx="238.5" cy="92.6" r="1.1"/>
<circle cx="237.8" cy="68.4" r="1.1"/>
<circle cx="272.5" cy="93.1" r="1.1"/>
<circle cx="277.3" cy="86.1" r="1.1"/>
<circle cx="236.6" cy="82.9" r="1.1"/>
<circle cx="254.6" cy="67.5" r="1.1"/>
<circle cx="265.0" cy="73.5" r="1.1"/>
<circle cx="268.4" cy="75.1" r="1.1"/>
<circle cx="269.0" cy="72.1" r="1.1"/>
<circle cx="268.1" cy="108.2" r="1.1"/>
<circle cx="268.8" cy="66.6" r="1.1"/>
<circle cx="264.3" cy="100.3" r="1.1"/>
<circle cx="250.0" cy="101.4" r="1.1"/>
<circle cx="257.9" cy="65.2" r="1.1"/>
<circle cx="252.5" cy="93.0" r="1.1"/>
<circle cx="255.7" cy="98.6" r="1.1"/>
<circle cx="252.3" cy="96.8" r="1.1"/>
<circle cx="264.3" cy="84.6" r="1.1"/>
<circle cx="253.4" cy="104.5" r="1.1"/>
<circle cx="278.5" cy="104.4" r="1.1"/>
<circle cx="261.5" cy="77.8" r="1.1"/>
<circle cx="267.6" cy="106.7" r="1.1"/>
<circle cx="250.9" cy="94.7" r="1.1"/>
<circle cx="280.0" cy="106.9" r="1.1"/>
<circle cx="263.1" cy="78.7" r="1.1"/>
<circle cx="253.0" cy="99.0" r="1.1"/>
<circle cx="263.1" cy="110.4" r="1.1"/>
<circle cx="272.3" cy="77.3" r="1.1"/>
<circle cx="255.0" cy="93.7" r="1.1"/>
<circle cx="272.7" cy="109.9" r="1.1"/>
<circle cx="272.5" cy="108.8" r="1.1"/>
<circle cx="261.7" cy="76.8" r="1.1"/>
<circle cx="274.3" cy="105.6" r="1.1"/>
<circle cx="266.8" cy="111.3" r="1.1"/>
<circle cx="251.6" cy="66.6" r="1.1"/>
<circle cx="260.9" cy="105.1" r="1.1"/>
<circle cx="245.0" cy="102.5" r="1.1"/>
<circle cx="263.3" cy="98.6" r="1.1"/>
<circle cx="256.9" cy="73.2" r="1.1"/>
<circle cx="247.5" cy="102.6" r="1.1"/>
<circle cx="271.6" cy="86.8" r="1.1"/>
<circle cx="270.7" cy="74.6" r="1.1"/>
<circle cx="262.1" cy="110.4" r="1.1"/>
<circle cx="275.8" cy="90.2" r="1.1"/>
<circle cx="257.4" cy="93.8" r="1.1"/>
<circle cx="244.5" cy="72.4" r="1.1"/>
<circle cx="244.1" cy="99.9" r="1.1"/>
<circle cx="252.3" cy="92.5" r="1.1"/>
<circle cx="254.1" cy="89.9" r="1.1"/>
<circle cx="240.8" cy="96.2" r="1.1"/>
<circle cx="271.4" cy="70.4" r="1.1"/>
<circle cx="262.9" cy="80.6" r="1.1"/>
<circle cx="259.4" cy="63.1" r="1.1"/>
<circle cx="275.0" cy="88.3" r="1.1"/>
<circle cx="261.5" cy="76.1" r="1.1"/>
<circle cx="271.1" cy="85.0" r="1.1"/>
<circle cx="278.6" cy="103.4" r="1.1"/>
<circle cx="272.8" cy="114.0" r="1.1"/>
<circle cx="247.4" cy="64.0" r="1.1"/>
<circle cx="245.0" cy="71.8" r="1.1"/>
<circle cx="261.1" cy="109.0" r="1.1"/>
<circle cx="262.9" cy="83.5" r="1.1"/>
<circle cx="247.6" cy="92.5" r="1.1"/>
<circle cx="266.1" cy="83.2" r="1.1"/>
<circle cx="256.2" cy="70.6" r="1.1"/>
<circle cx="279.5" cy="115.6" r="1.1"/>
<circle cx="246.0" cy="64.1" r="1.1"/>
<circle cx="247.5" cy="81.0" r="1.1"/>
<circle cx="276.6" cy="110.8" r="1.1"/>
<circle cx="271.4" cy="100.3" r="1.1"/>
<circle cx="238.5" cy="69.8" r="1.1"/>
<circle cx="270.0" cy="112.7" r="1.1"/>
<circle cx="266.5" cy="78.1" r="1.1"/>
<circle cx="262.6" cy="102.9" r="1.1"/>
<circle cx="240.7" cy="79.5" r="1.1"/>
<circle cx="247.6" cy="68.7" r="1.1"/>
<circle cx="257.7" cy="71.1" r="1.1"/>
<circle cx="246.7" cy="69.7" r="1.1"/>
<circle cx="268.3" cy="72.5" r="1.1"/>
<circle cx="275.0" cy="110.0" r="1.1"/>
<circle cx="242.3" cy="86.2" r="1.1"/>
<circle cx="275.5" cy="95.0" r="1.1"/>
<circle cx="254.4" cy="77.1" r="1.1"/>
<circle cx="274.4" cy="85.6" r="1.1"/>
<circle cx="263.9" cy="64.9" r="1.1"/>
<circle cx="242.0" cy="59.5" r="1.1"/>
<circle cx="268.5" cy="90.3" r="1.1"/>
<circle cx="244.4" cy="81.5" r="1.1"/>
<circle cx="238.4" cy="72.8" r="1.1"/>
<circle cx="275.3" cy="76.7" r="1.1"/>
<circle cx="239.1" cy="86.4" r="1.1"/>
<circle cx="247.2" cy="112.0" r="1.1"/>
<circle cx="266.1" cy="69.1" r="1.1"/>
<circle cx="255.8" cy="73.7" r="1.1"/>
<circle cx="243.9" cy="68.5" r="1.1"/>
<circle cx="283.9" cy="113.4" r="1.1"/>
<circle cx="235.3" cy="73.9" r="1.1"/>
<circle cx="269.2" cy="74.2" r="1.1"/>
<circle cx="273.6" cy="77.1" r="1.1"/>
<circle cx="274.9" cy="88.6" r="1.1"/>
<circle cx="240.0" cy="83.0" r="1.1"/>
<circle cx="279.2" cy="69.5" r="1.1"/>
<circle cx="260.9" cy="64.6" r="1.1"/>
<circle cx="239.7" cy="103.8" r="1.1"/>
<circle cx="268.4" cy="68.2" r="1.1"/>
<circle cx="234.3" cy="61.4" r="1.1"/>
<circle cx="262.9" cy="86.7" r="1.1"/>
<circle cx="244.8" cy="68.8" r="1.1"/>
<circle cx="263.1" cy="99.9" r="1.1"/>
<circle cx="273.8" cy="92.1" r="1.1"/>
<circle cx="240.9" cy="60.1" r="1.1"/>
<circle cx="269.6" cy="81.3" r="1.1"/>
<circle cx="269.0" cy="59.4" r="1.1"/>
<circle cx="273.8" cy="76.8" r="1.1"/>
<circle cx="275.5" cy="109.6" r="1.1"/>
<circle cx="256.6" cy="57.0" r="1.1"/>
<circle cx="279.2" cy="85.6" r="1.1"/>
<circle cx="277.1" cy="72.5" r="1.1"/>
<circle cx="240.0" cy="107.6" r="1.1"/>
<circle cx="249.8" cy="66.1" r="1.1"/>
<circle cx="250.0" cy="92.9" r="1.1"/>
<circle cx="230.3" cy="88.2" r="1.1"/>
<circle cx="254.1" cy="88.0" r="1.1"/>
<circle cx="236.5" cy="100.3" r="1.1"/>
<circle cx="274.1" cy="109.7" r="1.1"/>
<circle cx="247.3" cy="100.1" r="1.1"/>
<circle cx="250.6" cy="102.6" r="1.1"/>
<circle cx="281.5" cy="86.7" r="1.1"/>
<circle cx="257.7" cy="88.9" r="1.1"/>
<circle cx="259.0" cy="57.3" r="1.1"/>
<circle cx="239.8" cy="62.4" r="1.1"/>
<circle cx="243.5" cy="106.7" r="1.1"/>
<circle cx="231.6" cy="62.0" r="1.1"/>
<circle cx="267.7" cy="68.1" r="1.1"/>
<circle cx="231.0" cy="93.2" r="1.1"/>
<circle cx="261.1" cy="88.4" r="1.1"/>
<circle cx="267.9" cy="62.4" r="1.1"/>
<circle cx="277.0" cy="100.5" r="1.1"/>
<circle cx="232.4" cy="63.6" r="1.1"/>
<circle cx="256.7" cy="87.0" r="1.1"/>
<circle cx="245.1" cy="63.6" r="1.1"/>
<circle cx="251.9" cy="64.5" r="1.1"/>
<circle cx="262.0" cy="109.4" r="1.1"/>
<circle cx="237.9" cy="91.5" r="1.1"/>
<circle cx="270.3" cy="66.2" r="1.1"/>
<circle cx="274.6" cy="114.1" r="1.1"/>
<circle cx="251.0" cy="82.1" r="1.1"/>
<circle cx="275.3" cy="88.6" r="1.1"/>
<circle cx="272.0" cy="77.0" r="1.1"/>
<circle cx="243.0" cy="76.8" r="1.1"/>
<circle cx="273.4" cy="112.6" r="1.1"/>
<circle cx="274.0" cy="108.6" r="1.1"/>
<circle cx="294.6" cy="137.5" r="1.1"/>
<circle cx="283.5" cy="124.4" r="1.1"/>
<circle cx="276.7" cy="127.6" r="1.1"/>
<circle cx="289.5" cy="136.3" r="1.1"/>
<circle cx="279.7" cy="126.0" r="1.1"/>
<circle cx="266.2" cy="119.0" r="1.1"/>
<circle cx="272.0" cy="125.4" r="1.1"/>
<circle cx="271.8" cy="121.6" r="1.1"/>
<circle cx="281.4" cy="131.0" r="1.1"/>
<circle cx="277.7" cy="128.6" r="1.1"/>
<circle cx="282.8" cy="126.8" r="1.1"/>
<circle cx="272.6" cy="121.6" r="1.1"/>
<circle cx="280.9" cy="127.3" r="1.1"/>
<circle cx="267.4" cy="117.5" r="1.1"/>
<circle cx="283.0" cy="135.5" r="1.1"/>
<circle cx="287.1" cy="133.1" r="1.1"/>
<circle cx="288.7" cy="132.3" r="1.1"/>
<circle cx="288.0" cy="129.5" r="1.1"/>
<circle cx="281.4" cy="125.6" r="1.1"/>
<circle cx="288.6" cy="136.1" r="1.1"/>
<circle cx="282.6" cy="124.7" r="1.1"/>
<circle cx="277.4" cy="126.5" r="1.1"/>
<circle cx="275.3" cy="128.8" r="1.1"/>
<circle cx="275.1" cy="123.4" r="1.1"/>
<circle cx="288.8" cy="135.5" r="1.1"/>
<circle cx="279.0" cy="126.2" r="1.1"/>
<circle cx="290.7" cy="135.3" r="1.1"/>
<circle cx="281.2" cy="127.4" r="1.1"/>
<circle cx="279.6" cy="127.9" r="1.1"/>
<circle cx="285.0" cy="128.1" r="1.1"/>
<circle cx="275.6" cy="128.9" r="1.1"/>
<circle cx="277.0" cy="130.4" r="1.1"/>
<circle cx="289.9" cy="138.8" r="1.1"/>
<circle cx="279.4" cy="127.6" r="1.1"/>
<circle cx="268.4" cy="120.2" r="1.1"/>
<circle cx="283.4" cy="129.9" r="1.1"/>
<circle cx="278.9" cy="128.7" r="1.1"/>
<circle cx="281.5" cy="125.5" r="1.1"/>
<circle cx="266.1" cy="119.6" r="1.1"/>
<circle cx="279.8" cy="128.2" r="1.1"/>
<circle cx="287.4" cy="136.7" r="1.1"/>
<circle cx="289.0" cy="136.5" r="1.1"/>
<circle cx="279.1" cy="126.2" r="1.1"/>
<circle cx="290.9" cy="130.6" r="1.1"/>
<circle cx="281.0" cy="129.5" r="1.1"/>
<circle cx="288.5" cy="130.5" r="1.1"/>
<circle cx="286.1" cy="131.0" r="1.1"/>
<circle cx="288.5" cy="138.5" r="1.1"/>
<circle cx="285.9" cy="134.1" r="1.1"/>
<circle cx="282.5" cy="126.6" r="1.1"/>
<circle cx="294.8" cy="137.1" r="1.1"/>
<circle cx="283.7" cy="137.7" r="1.1"/>
<circle cx="288.8" cy="138.5" r="1.1"/>
<circle cx="286.9" cy="138.3" r="1.1"/>
<circle cx="282.4" cy="131.1" r="1.1"/>
<circle cx="283.6" cy="137.4" r="1.1"/>
<circle cx="286.7" cy="136.3" r="1.1"/>
<circle cx="282.4" cy="128.3" r="1.1"/>
<circle cx="284.5" cy="128.4" r="1.1"/>
<circle cx="288.1" cy="127.5" r="1.1"/>
<circle cx="287.6" cy="131.0" r="1.1"/>
<circle cx="285.3" cy="126.9" r="1.1"/>
<circle cx="284.3" cy="129.2" r="1.1"/>
<circle cx="281.4" cy="129.7" r="1.1"/>
<circle cx="282.3" cy="126.5" r="1.1"/>
<circle cx="290.0" cy="130.4" r="1.1"/>
<circle cx="279.7" cy="129.5" r="1.1"/>
<circle cx="286.0" cy="136.9" r="1.1"/>
<circle cx="284.4" cy="135.4" r="1.1"/>
<circle cx="291.1" cy="138.8" r="1.1"/>
<circle cx="289.3" cy="138.8" r="1.1"/>
<circle cx="292.6" cy="135.1" r="1.1"/>
<circle cx="292.0" cy="134.7" r="1.1"/>
<circle cx="294.8" cy="135.3" r="1.1"/>
<circle cx="296.9" cy="136.9" r="1.1"/>
<circle cx="291.0" cy="135.2" r="1.1"/>
<circle cx="293.7" cy="135.1" r="1.1"/>
<circle cx="292.6" cy="136.7" r="1.1"/>
<circle cx="290.0" cy="137.9" r="1.1"/>
<circle cx="291.2" cy="137.3" r="1.1"/>
<circle cx="293.2" cy="135.6" r="1.1"/>
<circle cx="288.9" cy="138.3" r="1.1"/>
<circle cx="290.5" cy="137.3" r="1.1"/>
<circle cx="288.2" cy="136.8" r="1.1"/>
<circle cx="291.0" cy="136.5" r="1.1"/>
<circle cx="290.4" cy="135.1" r="1.1"/>
<circle cx="288.4" cy="137.6" r="1.1"/>
<circle cx="296.8" cy="129.1" r="1.1"/>
<circle cx="303.1" cy="134.6" r="1.1"/>
<circle cx="295.3" cy="127.1" r="1.1"/>
<circle cx="300.6" cy="128.3" r="1.1"/>
<circle cx="298.1" cy="132.9" r="1.1"/>
<circle cx="301.0" cy="126.7" r="1.1"/>
<circle cx="302.5" cy="128.3" r="1.1"/>
<path d="M215.30 37.00V139.30H369.30" fill="none" stroke="#111" stroke-width="1.2"/>
<line x1="211.80" y1="139.30" x2="215.30" y2="139.30" stroke="#111" stroke-width="1.1"/>
<text transform="translate(210.30,142.20) scale(1,1.12)" text-anchor="end" class="tk">0</text>
<line x1="211.80" y1="105.20" x2="215.30" y2="105.20" stroke="#111" stroke-width="1.1"/>
<text transform="translate(210.30,108.10) scale(1,1.12)" text-anchor="end" class="tk">2</text>
<line x1="211.80" y1="71.10" x2="215.30" y2="71.10" stroke="#111" stroke-width="1.1"/>
<text transform="translate(210.30,74.00) scale(1,1.12)" text-anchor="end" class="tk">4</text>
<line x1="211.80" y1="37.00" x2="215.30" y2="37.00" stroke="#111" stroke-width="1.1"/>
<text transform="translate(210.30,39.90) scale(1,1.12)" text-anchor="end" class="tk">6</text>
<line x1="215.30" y1="139.30" x2="215.30" y2="142.10" stroke="#111" stroke-width="1.1"/>
<line x1="224.93" y1="139.30" x2="224.93" y2="142.10" stroke="#111" stroke-width="1.1"/>
<line x1="234.55" y1="139.30" x2="234.55" y2="142.10" stroke="#111" stroke-width="1.1"/>
<line x1="244.18" y1="139.30" x2="244.18" y2="143.50" stroke="#111" stroke-width="1.1"/>
<line x1="253.80" y1="139.30" x2="253.80" y2="142.10" stroke="#111" stroke-width="1.1"/>
<line x1="263.43" y1="139.30" x2="263.43" y2="142.10" stroke="#111" stroke-width="1.1"/>
<line x1="273.05" y1="139.30" x2="273.05" y2="142.10" stroke="#111" stroke-width="1.1"/>
<line x1="282.68" y1="139.30" x2="282.68" y2="142.10" stroke="#111" stroke-width="1.1"/>
<line x1="292.30" y1="139.30" x2="292.30" y2="143.50" stroke="#111" stroke-width="1.1"/>
<line x1="301.93" y1="139.30" x2="301.93" y2="142.10" stroke="#111" stroke-width="1.1"/>
<line x1="311.55" y1="139.30" x2="311.55" y2="142.10" stroke="#111" stroke-width="1.1"/>
<line x1="321.18" y1="139.30" x2="321.18" y2="142.10" stroke="#111" stroke-width="1.1"/>
<line x1="330.80" y1="139.30" x2="330.80" y2="142.10" stroke="#111" stroke-width="1.1"/>
<line x1="340.43" y1="139.30" x2="340.43" y2="143.50" stroke="#111" stroke-width="1.1"/>
<line x1="350.05" y1="139.30" x2="350.05" y2="142.10" stroke="#111" stroke-width="1.1"/>
<line x1="359.68" y1="139.30" x2="359.68" y2="142.10" stroke="#111" stroke-width="1.1"/>
<line x1="369.30" y1="139.30" x2="369.30" y2="142.10" stroke="#111" stroke-width="1.1"/>
<text transform="translate(244.18,152.70) scale(1,1.12)" text-anchor="middle" class="tk">-5</text>
<text transform="translate(292.30,152.70) scale(1,1.12)" text-anchor="middle" class="tk">0</text>
<text transform="translate(340.43,152.70) scale(1,1.12)" text-anchor="middle" class="tk">5</text>
<text x="292.30" y="164.00" text-anchor="middle" class="al xl">-log<tspan font-size="7" dy="1.8">2</tspan><tspan dy="-1.8">(FC)</tspan></text>
<text transform="translate(199.70,88.15) rotate(-90)" text-anchor="middle" class="al">-log<tspan font-size="6.5" dy="1.6">10</tspan><tspan dy="-1.6">(p value)</tspan></text>
<text transform="translate(245.60,31.50) scale(1,1.1)" text-anchor="middle" class="hd">XN-ABP-1</text>
<text transform="translate(292.30,31.50) scale(1,1.1)" text-anchor="middle" class="hd">vs</text>
<text transform="translate(339.30,31.50) scale(1,1.1)" text-anchor="middle" class="hd">XN-ABP-3</text>
<rect x="218.80" y="220.50" width="53.55" height="86.18" fill="#cadffb"/>
<rect x="318.85" y="220.50" width="50.75" height="86.18" fill="#fcdec5"/>
<line x1="219" y1="306.5" x2="373.10" y2="306.5" stroke="#333" stroke-width="1" stroke-dasharray="1 2"/>
<line x1="271.5" y1="220" x2="271.5" y2="323.40" stroke="#333" stroke-width="1" stroke-dasharray="1 2"/>
<line x1="318.5" y1="220" x2="318.5" y2="323.40" stroke="#333" stroke-width="1" stroke-dasharray="1 2"/>
<circle cx="251.2" cy="236.4" r="1.1"/>
<circle cx="234.7" cy="247.1" r="1.1"/>
<circle cx="245.6" cy="249.1" r="1.1"/>
<circle cx="257.7" cy="247.6" r="1.1"/>
<circle cx="252.3" cy="250.7" r="1.1"/>
<circle cx="253.8" cy="252.3" r="1.1"/>
<circle cx="268.6" cy="248.0" r="1.1"/>
<circle cx="270.2" cy="248.0" r="1.1"/>
<circle cx="239.8" cy="259.3" r="1.1"/>
<circle cx="253.8" cy="257.7" r="1.1"/>
<circle cx="268.6" cy="253.0" r="1.1"/>
<circle cx="270.2" cy="256.2" r="1.1"/>
<circle cx="267.8" cy="260.8" r="1.1"/>
<circle cx="252.7" cy="262.4" r="1.1"/>
<circle cx="254.6" cy="264.7" r="1.1"/>
<circle cx="242.9" cy="265.2" r="1.1"/>
<circle cx="234.7" cy="271.3" r="1.1"/>
<circle cx="274.8" cy="262.4" r="1.1"/>
<circle cx="279.5" cy="262.7" r="1.1"/>
<circle cx="274.8" cy="266.7" r="1.1"/>
<circle cx="285.7" cy="268.9" r="1.1"/>
<circle cx="260.0" cy="264.7" r="1.1"/>
<circle cx="226.2" cy="274.8" r="1.1"/>
<circle cx="227.3" cy="279.7" r="1.1"/>
<circle cx="239.0" cy="289.8" r="1.1"/>
<circle cx="240.6" cy="301.5" r="1.1"/>
<circle cx="248.4" cy="304.6" r="1.1"/>
<circle cx="257.7" cy="311.6" r="1.1"/>
<circle cx="267.1" cy="316.3" r="1.1"/>
<circle cx="300.5" cy="312.4" r="1.1"/>
<circle cx="299.8" cy="317.4" r="1.1"/>
<circle cx="305.7" cy="317.1" r="1.1"/>
<circle cx="301.3" cy="321.0" r="1.1"/>
<circle cx="289.6" cy="301.5" r="1.1"/>
<circle cx="285.7" cy="283.6" r="1.1"/>
<circle cx="255.1" cy="271.2" r="1.1"/>
<circle cx="242.3" cy="290.6" r="1.1"/>
<circle cx="263.8" cy="308.5" r="1.1"/>
<circle cx="254.9" cy="273.7" r="1.1"/>
<circle cx="268.0" cy="289.2" r="1.1"/>
<circle cx="290.7" cy="316.2" r="1.1"/>
<circle cx="252.9" cy="297.0" r="1.1"/>
<circle cx="262.5" cy="266.9" r="1.1"/>
<circle cx="256.4" cy="298.4" r="1.1"/>
<circle cx="278.4" cy="268.6" r="1.1"/>
<circle cx="256.3" cy="305.8" r="1.1"/>
<circle cx="241.0" cy="286.4" r="1.1"/>
<circle cx="246.8" cy="292.0" r="1.1"/>
<circle cx="240.9" cy="273.6" r="1.1"/>
<circle cx="252.0" cy="269.6" r="1.1"/>
<circle cx="244.9" cy="276.1" r="1.1"/>
<circle cx="268.0" cy="272.8" r="1.1"/>
<circle cx="284.3" cy="288.8" r="1.1"/>
<circle cx="253.6" cy="278.7" r="1.1"/>
<circle cx="280.1" cy="270.6" r="1.1"/>
<circle cx="245.4" cy="268.6" r="1.1"/>
<circle cx="277.5" cy="298.5" r="1.1"/>
<circle cx="278.9" cy="280.8" r="1.1"/>
<circle cx="266.8" cy="275.6" r="1.1"/>
<circle cx="263.6" cy="281.1" r="1.1"/>
<circle cx="271.6" cy="282.0" r="1.1"/>
<circle cx="254.8" cy="301.6" r="1.1"/>
<circle cx="266.8" cy="278.0" r="1.1"/>
<circle cx="246.2" cy="294.0" r="1.1"/>
<circle cx="267.2" cy="306.0" r="1.1"/>
<circle cx="260.2" cy="288.5" r="1.1"/>
<circle cx="273.0" cy="276.6" r="1.1"/>
<circle cx="283.7" cy="296.8" r="1.1"/>
<circle cx="249.5" cy="279.8" r="1.1"/>
<circle cx="273.3" cy="276.1" r="1.1"/>
<circle cx="265.0" cy="305.7" r="1.1"/>
<circle cx="245.6" cy="292.1" r="1.1"/>
<circle cx="275.1" cy="304.2" r="1.1"/>
<circle cx="242.3" cy="275.9" r="1.1"/>
<circle cx="262.9" cy="286.4" r="1.1"/>
<circle cx="277.6" cy="307.2" r="1.1"/>
<circle cx="275.1" cy="287.9" r="1.1"/>
<circle cx="270.8" cy="294.4" r="1.1"/>
<circle cx="280.1" cy="305.8" r="1.1"/>
<circle cx="290.7" cy="312.5" r="1.1"/>
<circle cx="282.5" cy="292.1" r="1.1"/>
<circle cx="256.9" cy="286.0" r="1.1"/>
<circle cx="283.1" cy="313.0" r="1.1"/>
<circle cx="285.6" cy="303.2" r="1.1"/>
<circle cx="249.2" cy="273.9" r="1.1"/>
<circle cx="270.7" cy="277.1" r="1.1"/>
<circle cx="258.2" cy="270.8" r="1.1"/>
<circle cx="256.3" cy="280.2" r="1.1"/>
<circle cx="263.5" cy="286.7" r="1.1"/>
<circle cx="253.7" cy="266.4" r="1.1"/>
<circle cx="271.4" cy="293.7" r="1.1"/>
<circle cx="253.3" cy="281.3" r="1.1"/>
<circle cx="283.7" cy="304.6" r="1.1"/>
<circle cx="269.7" cy="311.3" r="1.1"/>
<circle cx="248.3" cy="295.8" r="1.1"/>
<circle cx="254.4" cy="287.8" r="1.1"/>
<circle cx="270.9" cy="309.4" r="1.1"/>
<circle cx="273.9" cy="299.2" r="1.1"/>
<circle cx="289.8" cy="311.3" r="1.1"/>
<circle cx="270.6" cy="283.6" r="1.1"/>
<circle cx="245.5" cy="284.0" r="1.1"/>
<circle cx="274.9" cy="302.8" r="1.1"/>
<circle cx="264.1" cy="291.3" r="1.1"/>
<circle cx="281.0" cy="283.1" r="1.1"/>
<circle cx="245.9" cy="300.3" r="1.1"/>
<circle cx="276.9" cy="315.9" r="1.1"/>
<circle cx="246.9" cy="272.7" r="1.1"/>
<circle cx="266.6" cy="284.1" r="1.1"/>
<circle cx="274.1" cy="274.9" r="1.1"/>
<circle cx="244.1" cy="290.8" r="1.1"/>
<circle cx="282.1" cy="298.4" r="1.1"/>
<circle cx="252.8" cy="282.4" r="1.1"/>
<circle cx="266.5" cy="287.5" r="1.1"/>
<circle cx="274.9" cy="293.8" r="1.1"/>
<circle cx="257.4" cy="299.6" r="1.1"/>
<circle cx="258.1" cy="265.7" r="1.1"/>
<circle cx="245.1" cy="268.2" r="1.1"/>
<circle cx="285.2" cy="298.4" r="1.1"/>
<circle cx="260.7" cy="279.9" r="1.1"/>
<circle cx="273.5" cy="268.7" r="1.1"/>
<circle cx="269.3" cy="286.4" r="1.1"/>
<circle cx="266.6" cy="288.1" r="1.1"/>
<circle cx="283.2" cy="299.1" r="1.1"/>
<circle cx="246.3" cy="299.2" r="1.1"/>
<circle cx="287.0" cy="321.2" r="1.1"/>
<circle cx="287.4" cy="302.9" r="1.1"/>
<circle cx="284.6" cy="316.0" r="1.1"/>
<circle cx="253.4" cy="297.9" r="1.1"/>
<circle cx="260.5" cy="281.9" r="1.1"/>
<circle cx="281.1" cy="300.1" r="1.1"/>
<circle cx="257.9" cy="296.0" r="1.1"/>
<circle cx="264.8" cy="296.5" r="1.1"/>
<circle cx="273.7" cy="292.2" r="1.1"/>
<circle cx="274.2" cy="295.4" r="1.1"/>
<circle cx="240.8" cy="283.3" r="1.1"/>
<circle cx="275.0" cy="310.6" r="1.1"/>
<circle cx="252.9" cy="286.7" r="1.1"/>
<circle cx="252.2" cy="305.2" r="1.1"/>
<circle cx="268.6" cy="299.5" r="1.1"/>
<circle cx="257.6" cy="298.4" r="1.1"/>
<circle cx="267.9" cy="287.0" r="1.1"/>
<circle cx="249.4" cy="296.8" r="1.1"/>
<circle cx="281.8" cy="318.3" r="1.1"/>
<circle cx="241.0" cy="280.4" r="1.1"/>
<circle cx="261.4" cy="296.2" r="1.1"/>
<circle cx="257.8" cy="273.9" r="1.1"/>
<circle cx="247.2" cy="282.3" r="1.1"/>
<circle cx="277.8" cy="298.1" r="1.1"/>
<circle cx="267.4" cy="273.2" r="1.1"/>
<circle cx="284.3" cy="311.8" r="1.1"/>
<circle cx="281.4" cy="309.1" r="1.1"/>
<circle cx="274.2" cy="312.5" r="1.1"/>
<circle cx="285.0" cy="317.5" r="1.1"/>
<circle cx="256.9" cy="304.0" r="1.1"/>
<circle cx="270.6" cy="299.0" r="1.1"/>
<circle cx="266.4" cy="276.0" r="1.1"/>
<circle cx="255.1" cy="286.7" r="1.1"/>
<circle cx="278.0" cy="274.7" r="1.1"/>
<circle cx="271.1" cy="291.9" r="1.1"/>
<circle cx="273.6" cy="277.3" r="1.1"/>
<circle cx="249.5" cy="276.3" r="1.1"/>
<circle cx="273.8" cy="283.7" r="1.1"/>
<circle cx="275.4" cy="271.4" r="1.1"/>
<circle cx="249.8" cy="279.0" r="1.1"/>
<circle cx="277.7" cy="271.5" r="1.1"/>
<circle cx="249.3" cy="291.7" r="1.1"/>
<circle cx="249.0" cy="274.9" r="1.1"/>
<circle cx="269.9" cy="299.9" r="1.1"/>
<circle cx="260.7" cy="283.0" r="1.1"/>
<circle cx="247.1" cy="278.6" r="1.1"/>
<circle cx="254.7" cy="296.5" r="1.1"/>
<circle cx="271.7" cy="296.4" r="1.1"/>
<circle cx="265.1" cy="293.0" r="1.1"/>
<circle cx="250.6" cy="280.4" r="1.1"/>
<circle cx="256.5" cy="276.3" r="1.1"/>
<circle cx="272.6" cy="273.6" r="1.1"/>
<circle cx="257.7" cy="276.3" r="1.1"/>
<circle cx="277.1" cy="290.5" r="1.1"/>
<circle cx="263.3" cy="280.2" r="1.1"/>
<circle cx="279.2" cy="302.6" r="1.1"/>
<circle cx="262.2" cy="287.7" r="1.1"/>
<circle cx="277.1" cy="275.3" r="1.1"/>
<circle cx="255.3" cy="269.1" r="1.1"/>
<circle cx="264.1" cy="295.7" r="1.1"/>
<circle cx="251.6" cy="282.3" r="1.1"/>
<circle cx="259.8" cy="298.6" r="1.1"/>
<circle cx="278.1" cy="280.0" r="1.1"/>
<circle cx="250.4" cy="290.5" r="1.1"/>
<circle cx="272.7" cy="301.9" r="1.1"/>
<circle cx="269.8" cy="277.3" r="1.1"/>
<circle cx="264.5" cy="276.5" r="1.1"/>
<circle cx="262.1" cy="283.7" r="1.1"/>
<circle cx="278.8" cy="301.2" r="1.1"/>
<circle cx="279.3" cy="284.1" r="1.1"/>
<circle cx="279.2" cy="290.6" r="1.1"/>
<circle cx="277.4" cy="281.5" r="1.1"/>
<circle cx="276.5" cy="297.8" r="1.1"/>
<circle cx="259.5" cy="298.1" r="1.1"/>
<circle cx="253.7" cy="295.1" r="1.1"/>
<circle cx="262.9" cy="281.4" r="1.1"/>
<circle cx="253.1" cy="297.0" r="1.1"/>
<circle cx="272.3" cy="268.6" r="1.1"/>
<circle cx="259.5" cy="281.6" r="1.1"/>
<circle cx="266.8" cy="300.6" r="1.1"/>
<circle cx="280.0" cy="290.3" r="1.1"/>
<circle cx="259.2" cy="269.3" r="1.1"/>
<circle cx="248.5" cy="285.8" r="1.1"/>
<circle cx="267.0" cy="282.9" r="1.1"/>
<circle cx="258.6" cy="281.7" r="1.1"/>
<circle cx="267.3" cy="286.7" r="1.1"/>
<circle cx="261.3" cy="275.0" r="1.1"/>
<circle cx="257.4" cy="284.7" r="1.1"/>
<circle cx="266.3" cy="273.3" r="1.1"/>
<circle cx="247.9" cy="271.4" r="1.1"/>
<circle cx="258.4" cy="296.3" r="1.1"/>
<circle cx="278.0" cy="274.5" r="1.1"/>
<circle cx="274.1" cy="282.7" r="1.1"/>
<circle cx="265.4" cy="286.3" r="1.1"/>
<circle cx="270.0" cy="292.6" r="1.1"/>
<circle cx="259.7" cy="301.8" r="1.1"/>
<circle cx="275.5" cy="277.1" r="1.1"/>
<circle cx="248.4" cy="287.1" r="1.1"/>
<circle cx="269.6" cy="274.0" r="1.1"/>
<circle cx="247.6" cy="284.5" r="1.1"/>
<circle cx="268.5" cy="276.2" r="1.1"/>
<circle cx="262.0" cy="274.3" r="1.1"/>
<circle cx="252.7" cy="272.3" r="1.1"/>
<circle cx="275.4" cy="283.1" r="1.1"/>
<circle cx="271.8" cy="278.9" r="1.1"/>
<circle cx="275.0" cy="288.8" r="1.1"/>
<circle cx="269.5" cy="280.7" r="1.1"/>
<circle cx="266.2" cy="272.6" r="1.1"/>
<circle cx="281.1" cy="291.9" r="1.1"/>
<circle cx="265.2" cy="290.5" r="1.1"/>
<circle cx="249.6" cy="278.4" r="1.1"/>
<circle cx="254.3" cy="298.7" r="1.1"/>
<circle cx="246.5" cy="282.8" r="1.1"/>
<circle cx="277.3" cy="296.3" r="1.1"/>
<circle cx="271.9" cy="277.1" r="1.1"/>
<circle cx="254.4" cy="293.2" r="1.1"/>
<circle cx="256.8" cy="293.9" r="1.1"/>
<circle cx="258.6" cy="295.4" r="1.1"/>
<circle cx="266.6" cy="297.6" r="1.1"/>
<circle cx="265.6" cy="280.5" r="1.1"/>
<circle cx="273.7" cy="277.6" r="1.1"/>
<circle cx="253.5" cy="296.4" r="1.1"/>
<circle cx="265.8" cy="295.2" r="1.1"/>
<circle cx="263.6" cy="266.5" r="1.1"/>
<circle cx="273.8" cy="273.7" r="1.1"/>
<circle cx="255.3" cy="291.6" r="1.1"/>
<circle cx="273.5" cy="290.5" r="1.1"/>
<circle cx="262.0" cy="294.3" r="1.1"/>
<circle cx="270.1" cy="273.2" r="1.1"/>
<circle cx="265.3" cy="288.9" r="1.1"/>
<circle cx="272.2" cy="272.9" r="1.1"/>
<circle cx="257.2" cy="278.7" r="1.1"/>
<circle cx="249.5" cy="278.9" r="1.1"/>
<circle cx="272.3" cy="288.1" r="1.1"/>
<circle cx="252.2" cy="294.3" r="1.1"/>
<circle cx="250.2" cy="295.0" r="1.1"/>
<circle cx="251.3" cy="268.9" r="1.1"/>
<circle cx="255.1" cy="285.6" r="1.1"/>
<circle cx="255.7" cy="300.4" r="1.1"/>
<circle cx="279.8" cy="276.3" r="1.1"/>
<circle cx="273.0" cy="292.8" r="1.1"/>
<circle cx="266.2" cy="275.2" r="1.1"/>
<circle cx="246.5" cy="278.2" r="1.1"/>
<circle cx="257.6" cy="272.9" r="1.1"/>
<circle cx="261.5" cy="300.9" r="1.1"/>
<circle cx="278.4" cy="275.9" r="1.1"/>
<circle cx="253.6" cy="269.7" r="1.1"/>
<circle cx="259.2" cy="269.8" r="1.1"/>
<circle cx="252.5" cy="275.0" r="1.1"/>
<circle cx="266.8" cy="282.8" r="1.1"/>
<circle cx="257.0" cy="286.0" r="1.1"/>
<circle cx="273.9" cy="294.0" r="1.1"/>
<circle cx="274.5" cy="287.5" r="1.1"/>
<circle cx="263.1" cy="278.2" r="1.1"/>
<circle cx="267.9" cy="268.9" r="1.1"/>
<circle cx="279.3" cy="300.5" r="1.1"/>
<circle cx="254.6" cy="286.4" r="1.1"/>
<circle cx="276.0" cy="279.0" r="1.1"/>
<circle cx="263.9" cy="291.6" r="1.1"/>
<circle cx="252.9" cy="290.1" r="1.1"/>
<circle cx="252.8" cy="293.4" r="1.1"/>
<circle cx="247.5" cy="276.0" r="1.1"/>
<circle cx="250.2" cy="271.0" r="1.1"/>
<circle cx="265.0" cy="272.0" r="1.1"/>
<circle cx="274.6" cy="268.9" r="1.1"/>
<circle cx="268.4" cy="299.4" r="1.1"/>
<circle cx="250.6" cy="273.7" r="1.1"/>
<circle cx="273.5" cy="283.8" r="1.1"/>
<circle cx="279.6" cy="278.5" r="1.1"/>
<circle cx="278.1" cy="273.0" r="1.1"/>
<circle cx="265.6" cy="302.6" r="1.1"/>
<circle cx="273.9" cy="295.0" r="1.1"/>
<circle cx="267.6" cy="269.0" r="1.1"/>
<circle cx="274.2" cy="293.9" r="1.1"/>
<circle cx="257.4" cy="292.4" r="1.1"/>
<circle cx="260.8" cy="295.0" r="1.1"/>
<circle cx="259.8" cy="297.1" r="1.1"/>
<circle cx="263.0" cy="297.5" r="1.1"/>
<circle cx="256.8" cy="286.8" r="1.1"/>
<circle cx="246.9" cy="284.6" r="1.1"/>
<circle cx="270.4" cy="282.0" r="1.1"/>
<circle cx="271.3" cy="294.1" r="1.1"/>
<circle cx="283.9" cy="296.4" r="1.1"/>
<circle cx="283.7" cy="317.2" r="1.1"/>
<circle cx="270.9" cy="299.6" r="1.1"/>
<circle cx="274.8" cy="299.8" r="1.1"/>
<circle cx="283.4" cy="299.4" r="1.1"/>
<circle cx="289.3" cy="315.0" r="1.1"/>
<circle cx="281.3" cy="308.8" r="1.1"/>
<circle cx="273.3" cy="309.3" r="1.1"/>
<circle cx="276.1" cy="302.2" r="1.1"/>
<circle cx="280.6" cy="312.8" r="1.1"/>
<circle cx="283.1" cy="319.1" r="1.1"/>
<circle cx="281.8" cy="309.3" r="1.1"/>
<circle cx="277.2" cy="299.2" r="1.1"/>
<circle cx="279.6" cy="296.9" r="1.1"/>
<circle cx="290.2" cy="314.1" r="1.1"/>
<circle cx="286.8" cy="315.7" r="1.1"/>
<circle cx="274.7" cy="310.4" r="1.1"/>
<circle cx="283.7" cy="316.2" r="1.1"/>
<circle cx="273.9" cy="304.9" r="1.1"/>
<circle cx="289.0" cy="316.9" r="1.1"/>
<circle cx="274.8" cy="298.8" r="1.1"/>
<circle cx="286.6" cy="315.4" r="1.1"/>
<circle cx="284.9" cy="316.3" r="1.1"/>
<circle cx="281.9" cy="310.6" r="1.1"/>
<circle cx="285.1" cy="311.3" r="1.1"/>
<circle cx="281.4" cy="315.7" r="1.1"/>
<circle cx="283.2" cy="299.4" r="1.1"/>
<circle cx="279.8" cy="307.0" r="1.1"/>
<circle cx="279.9" cy="310.6" r="1.1"/>
<circle cx="278.3" cy="306.2" r="1.1"/>
<circle cx="279.8" cy="305.7" r="1.1"/>
<circle cx="279.1" cy="307.7" r="1.1"/>
<circle cx="283.6" cy="305.5" r="1.1"/>
<circle cx="290.1" cy="320.4" r="1.1"/>
<circle cx="276.6" cy="308.1" r="1.1"/>
<circle cx="277.4" cy="297.5" r="1.1"/>
<circle cx="290.5" cy="317.7" r="1.1"/>
<circle cx="275.5" cy="302.6" r="1.1"/>
<circle cx="286.1" cy="316.7" r="1.1"/>
<circle cx="280.8" cy="306.1" r="1.1"/>
<circle cx="289.9" cy="318.3" r="1.1"/>
<circle cx="280.6" cy="299.8" r="1.1"/>
<circle cx="285.3" cy="308.3" r="1.1"/>
<circle cx="290.5" cy="320.2" r="1.1"/>
<circle cx="284.2" cy="298.6" r="1.1"/>
<circle cx="283.5" cy="306.9" r="1.1"/>
<circle cx="285.5" cy="322.0" r="1.1"/>
<circle cx="290.3" cy="313.3" r="1.1"/>
<circle cx="285.3" cy="315.7" r="1.1"/>
<circle cx="288.7" cy="315.5" r="1.1"/>
<circle cx="287.4" cy="320.8" r="1.1"/>
<circle cx="284.8" cy="319.8" r="1.1"/>
<circle cx="289.1" cy="313.2" r="1.1"/>
<circle cx="287.1" cy="318.7" r="1.1"/>
<circle cx="289.4" cy="315.7" r="1.1"/>
<circle cx="283.3" cy="313.3" r="1.1"/>
<circle cx="288.6" cy="313.8" r="1.1"/>
<circle cx="286.1" cy="318.7" r="1.1"/>
<circle cx="292.0" cy="317.6" r="1.1"/>
<circle cx="285.5" cy="318.3" r="1.1"/>
<circle cx="285.8" cy="320.4" r="1.1"/>
<circle cx="284.6" cy="314.8" r="1.1"/>
<path d="M218.10 220.50V323.40H373.10" fill="none" stroke="#111" stroke-width="1.2"/>
<line x1="214.60" y1="323.40" x2="218.10" y2="323.40" stroke="#111" stroke-width="1.1"/>
<text transform="translate(213.10,326.30) scale(1,1.12)" text-anchor="end" class="tk">0</text>
<line x1="214.60" y1="297.67" x2="218.10" y2="297.67" stroke="#111" stroke-width="1.1"/>
<text transform="translate(213.10,300.57) scale(1,1.12)" text-anchor="end" class="tk">2</text>
<line x1="214.60" y1="271.95" x2="218.10" y2="271.95" stroke="#111" stroke-width="1.1"/>
<text transform="translate(213.10,274.85) scale(1,1.12)" text-anchor="end" class="tk">4</text>
<line x1="214.60" y1="246.22" x2="218.10" y2="246.22" stroke="#111" stroke-width="1.1"/>
<text transform="translate(213.10,249.12) scale(1,1.12)" text-anchor="end" class="tk">6</text>
<line x1="214.60" y1="220.50" x2="218.10" y2="220.50" stroke="#111" stroke-width="1.1"/>
<text transform="translate(213.10,223.40) scale(1,1.12)" text-anchor="end" class="tk">8</text>
<line x1="218.10" y1="323.40" x2="218.10" y2="327.60" stroke="#111" stroke-width="1.1"/>
<line x1="233.60" y1="323.40" x2="233.60" y2="326.20" stroke="#111" stroke-width="1.1"/>
<line x1="249.10" y1="323.40" x2="249.10" y2="326.20" stroke="#111" stroke-width="1.1"/>
<line x1="264.60" y1="323.40" x2="264.60" y2="326.20" stroke="#111" stroke-width="1.1"/>
<line x1="280.10" y1="323.40" x2="280.10" y2="326.20" stroke="#111" stroke-width="1.1"/>
<line x1="295.60" y1="323.40" x2="295.60" y2="327.60" stroke="#111" stroke-width="1.1"/>
<line x1="311.10" y1="323.40" x2="311.10" y2="326.20" stroke="#111" stroke-width="1.1"/>
<line x1="326.60" y1="323.40" x2="326.60" y2="326.20" stroke="#111" stroke-width="1.1"/>
<line x1="342.10" y1="323.40" x2="342.10" y2="326.20" stroke="#111" stroke-width="1.1"/>
<line x1="357.60" y1="323.40" x2="357.60" y2="326.20" stroke="#111" stroke-width="1.1"/>
<line x1="373.10" y1="323.40" x2="373.10" y2="327.60" stroke="#111" stroke-width="1.1"/>
<text transform="translate(218.10,337.20) scale(1,1.12)" text-anchor="middle" class="tk">-5</text>
<text transform="translate(295.60,337.20) scale(1,1.12)" text-anchor="middle" class="tk">0</text>
<text transform="translate(373.10,337.20) scale(1,1.12)" text-anchor="middle" class="tk">5</text>
<text x="295.60" y="349.00" text-anchor="middle" class="al xl">-log<tspan font-size="7" dy="1.8">2</tspan><tspan dy="-1.8">(FC)</tspan></text>
<text transform="translate(202.50,271.95) rotate(-90)" text-anchor="middle" class="al">-log<tspan font-size="6.5" dy="1.6">10</tspan><tspan dy="-1.6">(p value)</tspan></text>
<text transform="translate(248.90,215.00) scale(1,1.1)" text-anchor="middle" class="hd">XN-ABP-1</text>
<text transform="translate(296.10,215.00) scale(1,1.1)" text-anchor="middle" class="hd">vs</text>
<text transform="translate(342.10,215.00) scale(1,1.1)" text-anchor="middle" class="hd">XN-ABP-3</text>
<rect x="407.70" y="36.30" width="61.86" height="80.84" fill="#cadffb"/>
<rect x="498.44" y="36.30" width="62.06" height="80.84" fill="#fcdec5"/>
<line x1="408" y1="116.5" x2="561.00" y2="116.5" stroke="#333" stroke-width="1" stroke-dasharray="1 2"/>
<line x1="469.5" y1="37" x2="469.5" y2="139.30" stroke="#333" stroke-width="1" stroke-dasharray="1 2"/>
<line x1="497.5" y1="37" x2="497.5" y2="139.30" stroke="#333" stroke-width="1" stroke-dasharray="1 2"/>
<circle cx="458.8" cy="50.9" r="1.1"/>
<circle cx="468.5" cy="50.9" r="1.1"/>
<circle cx="459.5" cy="60.5" r="1.1"/>
<circle cx="457.1" cy="67.6" r="1.1"/>
<circle cx="464.2" cy="71.9" r="1.1"/>
<circle cx="467.3" cy="74.8" r="1.1"/>
<circle cx="457.1" cy="78.2" r="1.1"/>
<circle cx="461.2" cy="79.5" r="1.1"/>
<circle cx="465.1" cy="82.9" r="1.1"/>
<circle cx="477.0" cy="69.0" r="1.1"/>
<circle cx="504.2" cy="65.9" r="1.1"/>
<circle cx="495.2" cy="75.8" r="1.1"/>
<circle cx="499.9" cy="82.6" r="1.1"/>
<circle cx="479.9" cy="83.3" r="1.1"/>
<circle cx="472.7" cy="80.4" r="1.1"/>
<circle cx="469.3" cy="83.8" r="1.1"/>
<circle cx="450.6" cy="90.6" r="1.1"/>
<circle cx="451.2" cy="93.9" r="1.1"/>
<circle cx="487.8" cy="99.0" r="1.1"/>
<circle cx="491.7" cy="107.1" r="1.1"/>
<circle cx="491.7" cy="114.1" r="1.1"/>
<circle cx="501.0" cy="131.3" r="1.1"/>
<circle cx="453.5" cy="123.5" r="1.1"/>
<circle cx="479.2" cy="101.7" r="1.1"/>
<circle cx="493.2" cy="118.0" r="1.1"/>
<circle cx="452.0" cy="96.0" r="1.1"/>
<circle cx="454.0" cy="112.0" r="1.1"/>
<circle cx="456.0" cy="119.0" r="1.1"/>
<circle cx="475.6" cy="97.3" r="1.1"/>
<circle cx="479.4" cy="124.3" r="1.1"/>
<circle cx="458.8" cy="98.1" r="1.1"/>
<circle cx="463.9" cy="107.4" r="1.1"/>
<circle cx="454.4" cy="103.9" r="1.1"/>
<circle cx="476.0" cy="97.2" r="1.1"/>
<circle cx="468.7" cy="122.9" r="1.1"/>
<circle cx="483.0" cy="127.6" r="1.1"/>
<circle cx="463.3" cy="90.2" r="1.1"/>
<circle cx="454.7" cy="100.5" r="1.1"/>
<circle cx="478.0" cy="108.1" r="1.1"/>
<circle cx="479.9" cy="130.3" r="1.1"/>
<circle cx="463.1" cy="92.6" r="1.1"/>
<circle cx="479.6" cy="130.3" r="1.1"/>
<circle cx="475.6" cy="111.1" r="1.1"/>
<circle cx="468.4" cy="114.1" r="1.1"/>
<circle cx="478.3" cy="129.1" r="1.1"/>
<circle cx="462.4" cy="115.9" r="1.1"/>
<circle cx="472.6" cy="100.7" r="1.1"/>
<circle cx="455.1" cy="106.2" r="1.1"/>
<circle cx="467.8" cy="98.3" r="1.1"/>
<circle cx="464.2" cy="95.0" r="1.1"/>
<circle cx="478.5" cy="122.2" r="1.1"/>
<circle cx="461.6" cy="100.3" r="1.1"/>
<circle cx="471.6" cy="110.7" r="1.1"/>
<circle cx="458.1" cy="116.7" r="1.1"/>
<circle cx="465.0" cy="129.6" r="1.1"/>
<circle cx="472.7" cy="126.8" r="1.1"/>
<circle cx="459.1" cy="122.0" r="1.1"/>
<circle cx="474.6" cy="111.5" r="1.1"/>
<circle cx="480.6" cy="130.4" r="1.1"/>
<circle cx="457.1" cy="102.8" r="1.1"/>
<circle cx="466.0" cy="98.5" r="1.1"/>
<circle cx="455.2" cy="102.3" r="1.1"/>
<circle cx="460.1" cy="123.8" r="1.1"/>
<circle cx="469.1" cy="93.8" r="1.1"/>
<circle cx="464.7" cy="111.9" r="1.1"/>
<circle cx="466.1" cy="96.6" r="1.1"/>
<circle cx="456.9" cy="112.9" r="1.1"/>
<circle cx="468.6" cy="97.7" r="1.1"/>
<circle cx="472.6" cy="88.4" r="1.1"/>
<circle cx="475.6" cy="135.7" r="1.1"/>
<circle cx="476.5" cy="100.8" r="1.1"/>
<circle cx="461.9" cy="95.1" r="1.1"/>
<circle cx="459.7" cy="120.5" r="1.1"/>
<circle cx="483.4" cy="135.3" r="1.1"/>
<circle cx="482.9" cy="125.9" r="1.1"/>
<circle cx="464.8" cy="97.4" r="1.1"/>
<circle cx="466.3" cy="116.1" r="1.1"/>
<circle cx="466.3" cy="130.4" r="1.1"/>
<circle cx="461.6" cy="90.1" r="1.1"/>
<circle cx="473.4" cy="120.0" r="1.1"/>
<circle cx="485.6" cy="136.2" r="1.1"/>
<circle cx="470.8" cy="113.5" r="1.1"/>
<circle cx="458.7" cy="103.3" r="1.1"/>
<circle cx="473.9" cy="92.1" r="1.1"/>
<circle cx="477.8" cy="96.3" r="1.1"/>
<circle cx="456.2" cy="90.0" r="1.1"/>
<circle cx="468.8" cy="97.7" r="1.1"/>
<circle cx="483.3" cy="131.6" r="1.1"/>
<circle cx="463.2" cy="121.7" r="1.1"/>
<circle cx="471.5" cy="109.5" r="1.1"/>
<circle cx="465.2" cy="110.4" r="1.1"/>
<circle cx="477.0" cy="130.1" r="1.1"/>
<circle cx="463.6" cy="110.6" r="1.1"/>
<circle cx="473.3" cy="105.8" r="1.1"/>
<circle cx="460.0" cy="92.3" r="1.1"/>
<circle cx="464.7" cy="111.5" r="1.1"/>
<circle cx="488.0" cy="134.3" r="1.1"/>
<circle cx="484.2" cy="137.7" r="1.1"/>
<circle cx="477.4" cy="119.1" r="1.1"/>
<circle cx="463.7" cy="117.1" r="1.1"/>
<circle cx="476.3" cy="103.3" r="1.1"/>
<circle cx="454.0" cy="97.6" r="1.1"/>
<circle cx="477.4" cy="110.8" r="1.1"/>
<circle cx="466.4" cy="117.6" r="1.1"/>
<circle cx="468.0" cy="115.0" r="1.1"/>
<circle cx="473.3" cy="108.2" r="1.1"/>
<circle cx="457.1" cy="97.2" r="1.1"/>
<circle cx="462.1" cy="92.8" r="1.1"/>
<circle cx="472.1" cy="100.8" r="1.1"/>
<circle cx="470.6" cy="116.3" r="1.1"/>
<circle cx="461.2" cy="117.2" r="1.1"/>
<circle cx="457.1" cy="114.2" r="1.1"/>
<circle cx="474.2" cy="92.1" r="1.1"/>
<circle cx="467.7" cy="91.7" r="1.1"/>
<circle cx="468.8" cy="132.0" r="1.1"/>
<circle cx="472.8" cy="124.4" r="1.1"/>
<circle cx="467.1" cy="96.7" r="1.1"/>
<circle cx="461.5" cy="107.0" r="1.1"/>
<circle cx="460.7" cy="103.3" r="1.1"/>
<circle cx="478.5" cy="109.7" r="1.1"/>
<circle cx="486.0" cy="132.4" r="1.1"/>
<circle cx="465.3" cy="126.9" r="1.1"/>
<circle cx="477.5" cy="130.1" r="1.1"/>
<circle cx="457.4" cy="107.0" r="1.1"/>
<circle cx="479.5" cy="136.3" r="1.1"/>
<circle cx="474.7" cy="93.1" r="1.1"/>
<circle cx="472.8" cy="129.0" r="1.1"/>
<circle cx="477.3" cy="101.0" r="1.1"/>
<circle cx="460.0" cy="110.8" r="1.1"/>
<circle cx="459.7" cy="116.3" r="1.1"/>
<circle cx="463.4" cy="123.0" r="1.1"/>
<circle cx="466.7" cy="95.4" r="1.1"/>
<circle cx="477.8" cy="129.2" r="1.1"/>
<circle cx="465.3" cy="95.7" r="1.1"/>
<circle cx="471.1" cy="132.5" r="1.1"/>
<circle cx="477.5" cy="108.0" r="1.1"/>
<circle cx="470.1" cy="96.1" r="1.1"/>
<circle cx="455.7" cy="104.8" r="1.1"/>
<circle cx="474.2" cy="90.2" r="1.1"/>
<circle cx="459.1" cy="106.4" r="1.1"/>
<circle cx="469.8" cy="117.4" r="1.1"/>
<circle cx="467.0" cy="106.0" r="1.1"/>
<circle cx="465.0" cy="89.0" r="1.1"/>
<circle cx="454.6" cy="95.4" r="1.1"/>
<circle cx="477.2" cy="101.9" r="1.1"/>
<circle cx="462.8" cy="113.5" r="1.1"/>
<circle cx="462.4" cy="117.0" r="1.1"/>
<circle cx="473.2" cy="127.3" r="1.1"/>
<circle cx="475.8" cy="120.4" r="1.1"/>
<circle cx="466.1" cy="102.4" r="1.1"/>
<circle cx="481.6" cy="132.5" r="1.1"/>
<circle cx="463.9" cy="126.9" r="1.1"/>
<circle cx="479.6" cy="114.0" r="1.1"/>
<circle cx="475.9" cy="105.9" r="1.1"/>
<circle cx="472.8" cy="108.7" r="1.1"/>
<circle cx="455.2" cy="105.2" r="1.1"/>
<circle cx="470.3" cy="106.7" r="1.1"/>
<circle cx="461.8" cy="100.0" r="1.1"/>
<circle cx="465.6" cy="94.9" r="1.1"/>
<circle cx="469.3" cy="110.7" r="1.1"/>
<circle cx="473.5" cy="103.4" r="1.1"/>
<circle cx="459.1" cy="91.4" r="1.1"/>
<circle cx="463.9" cy="103.7" r="1.1"/>
<circle cx="479.2" cy="116.1" r="1.1"/>
<circle cx="455.9" cy="97.1" r="1.1"/>
<circle cx="465.9" cy="127.5" r="1.1"/>
<circle cx="468.4" cy="132.3" r="1.1"/>
<circle cx="455.4" cy="112.7" r="1.1"/>
<circle cx="458.9" cy="101.7" r="1.1"/>
<circle cx="467.4" cy="98.2" r="1.1"/>
<circle cx="474.7" cy="132.1" r="1.1"/>
<circle cx="476.3" cy="98.0" r="1.1"/>
<circle cx="479.4" cy="137.1" r="1.1"/>
<circle cx="474.6" cy="92.0" r="1.1"/>
<circle cx="482.1" cy="132.7" r="1.1"/>
<circle cx="465.3" cy="95.0" r="1.1"/>
<circle cx="459.8" cy="115.4" r="1.1"/>
<circle cx="464.8" cy="126.2" r="1.1"/>
<circle cx="476.4" cy="108.7" r="1.1"/>
<circle cx="477.4" cy="105.2" r="1.1"/>
<circle cx="455.1" cy="109.1" r="1.1"/>
<circle cx="465.0" cy="113.2" r="1.1"/>
<circle cx="474.5" cy="101.1" r="1.1"/>
<circle cx="469.7" cy="88.7" r="1.1"/>
<circle cx="475.1" cy="124.9" r="1.1"/>
<circle cx="464.8" cy="92.8" r="1.1"/>
<circle cx="458.6" cy="95.3" r="1.1"/>
<circle cx="472.4" cy="118.0" r="1.1"/>
<circle cx="473.0" cy="121.5" r="1.1"/>
<circle cx="474.7" cy="104.9" r="1.1"/>
<circle cx="478.6" cy="126.9" r="1.1"/>
<circle cx="480.8" cy="137.8" r="1.1"/>
<circle cx="469.3" cy="102.2" r="1.1"/>
<circle cx="470.1" cy="121.4" r="1.1"/>
<circle cx="454.0" cy="94.8" r="1.1"/>
<circle cx="455.2" cy="113.6" r="1.1"/>
<circle cx="473.0" cy="97.3" r="1.1"/>
<circle cx="458.4" cy="97.0" r="1.1"/>
<circle cx="479.6" cy="135.0" r="1.1"/>
<circle cx="475.9" cy="105.6" r="1.1"/>
<circle cx="467.5" cy="132.1" r="1.1"/>
<circle cx="455.2" cy="116.8" r="1.1"/>
<circle cx="461.1" cy="100.8" r="1.1"/>
<circle cx="462.4" cy="110.1" r="1.1"/>
<circle cx="461.3" cy="98.4" r="1.1"/>
<circle cx="480.3" cy="120.8" r="1.1"/>
<circle cx="460.8" cy="117.0" r="1.1"/>
<circle cx="480.1" cy="130.0" r="1.1"/>
<circle cx="463.2" cy="104.9" r="1.1"/>
<circle cx="470.5" cy="133.4" r="1.1"/>
<circle cx="458.8" cy="122.8" r="1.1"/>
<circle cx="474.5" cy="111.1" r="1.1"/>
<circle cx="473.9" cy="133.0" r="1.1"/>
<circle cx="466.0" cy="127.8" r="1.1"/>
<circle cx="484.1" cy="138.7" r="1.1"/>
<circle cx="463.7" cy="89.2" r="1.1"/>
<circle cx="456.5" cy="96.6" r="1.1"/>
<circle cx="478.8" cy="133.0" r="1.1"/>
<circle cx="471.2" cy="99.8" r="1.1"/>
<circle cx="468.5" cy="93.3" r="1.1"/>
<circle cx="457.3" cy="112.9" r="1.1"/>
<circle cx="457.9" cy="109.9" r="1.1"/>
<circle cx="459.4" cy="123.0" r="1.1"/>
<circle cx="471.0" cy="93.7" r="1.1"/>
<circle cx="465.7" cy="113.3" r="1.1"/>
<circle cx="467.4" cy="103.3" r="1.1"/>
<circle cx="467.1" cy="98.8" r="1.1"/>
<circle cx="471.0" cy="118.8" r="1.1"/>
<circle cx="469.8" cy="96.4" r="1.1"/>
<circle cx="478.6" cy="122.8" r="1.1"/>
<circle cx="474.7" cy="118.5" r="1.1"/>
<circle cx="478.6" cy="136.3" r="1.1"/>
<circle cx="470.8" cy="109.0" r="1.1"/>
<circle cx="470.5" cy="111.8" r="1.1"/>
<circle cx="471.1" cy="101.9" r="1.1"/>
<circle cx="476.4" cy="134.0" r="1.1"/>
<circle cx="466.9" cy="121.0" r="1.1"/>
<circle cx="470.2" cy="105.9" r="1.1"/>
<circle cx="465.4" cy="100.8" r="1.1"/>
<circle cx="477.4" cy="118.5" r="1.1"/>
<circle cx="476.0" cy="136.8" r="1.1"/>
<circle cx="466.3" cy="121.8" r="1.1"/>
<circle cx="474.2" cy="121.1" r="1.1"/>
<circle cx="477.0" cy="118.3" r="1.1"/>
<circle cx="466.0" cy="121.1" r="1.1"/>
<circle cx="472.8" cy="125.6" r="1.1"/>
<circle cx="474.1" cy="115.5" r="1.1"/>
<circle cx="466.0" cy="101.8" r="1.1"/>
<circle cx="474.1" cy="117.6" r="1.1"/>
<circle cx="472.4" cy="122.3" r="1.1"/>
<circle cx="482.3" cy="132.7" r="1.1"/>
<circle cx="470.3" cy="130.1" r="1.1"/>
<circle cx="464.2" cy="106.3" r="1.1"/>
<circle cx="462.8" cy="110.6" r="1.1"/>
<circle cx="472.2" cy="99.6" r="1.1"/>
<circle cx="472.9" cy="128.7" r="1.1"/>
<circle cx="474.1" cy="105.7" r="1.1"/>
<circle cx="470.0" cy="109.9" r="1.1"/>
<circle cx="470.3" cy="96.7" r="1.1"/>
<circle cx="465.4" cy="119.4" r="1.1"/>
<circle cx="461.6" cy="103.3" r="1.1"/>
<circle cx="468.7" cy="105.9" r="1.1"/>
<circle cx="477.2" cy="131.2" r="1.1"/>
<circle cx="465.4" cy="113.3" r="1.1"/>
<circle cx="470.0" cy="97.8" r="1.1"/>
<circle cx="471.9" cy="111.1" r="1.1"/>
<circle cx="471.0" cy="122.6" r="1.1"/>
<circle cx="470.4" cy="119.7" r="1.1"/>
<circle cx="470.1" cy="123.3" r="1.1"/>
<circle cx="468.9" cy="98.9" r="1.1"/>
<circle cx="474.2" cy="116.4" r="1.1"/>
<circle cx="472.5" cy="114.9" r="1.1"/>
<circle cx="472.8" cy="132.5" r="1.1"/>
<circle cx="471.9" cy="116.1" r="1.1"/>
<circle cx="473.8" cy="129.8" r="1.1"/>
<circle cx="478.1" cy="126.4" r="1.1"/>
<circle cx="470.8" cy="97.7" r="1.1"/>
<circle cx="478.4" cy="118.7" r="1.1"/>
<circle cx="480.8" cy="127.6" r="1.1"/>
<circle cx="463.2" cy="105.0" r="1.1"/>
<circle cx="462.7" cy="99.6" r="1.1"/>
<circle cx="471.3" cy="119.9" r="1.1"/>
<circle cx="469.0" cy="117.2" r="1.1"/>
<circle cx="467.4" cy="106.8" r="1.1"/>
<circle cx="468.5" cy="106.5" r="1.1"/>
<circle cx="473.8" cy="113.2" r="1.1"/>
<circle cx="461.4" cy="108.5" r="1.1"/>
<circle cx="465.5" cy="98.1" r="1.1"/>
<circle cx="474.5" cy="111.3" r="1.1"/>
<circle cx="472.5" cy="116.0" r="1.1"/>
<circle cx="475.8" cy="111.0" r="1.1"/>
<circle cx="461.4" cy="108.9" r="1.1"/>
<circle cx="474.4" cy="112.8" r="1.1"/>
<circle cx="475.3" cy="109.3" r="1.1"/>
<circle cx="467.9" cy="125.1" r="1.1"/>
<circle cx="472.0" cy="132.0" r="1.1"/>
<circle cx="461.6" cy="113.8" r="1.1"/>
<circle cx="478.2" cy="123.7" r="1.1"/>
<circle cx="468.0" cy="104.7" r="1.1"/>
<circle cx="462.7" cy="99.9" r="1.1"/>
<circle cx="481.2" cy="135.0" r="1.1"/>
<circle cx="471.2" cy="123.0" r="1.1"/>
<circle cx="467.9" cy="105.5" r="1.1"/>
<circle cx="475.7" cy="109.1" r="1.1"/>
<circle cx="475.1" cy="102.3" r="1.1"/>
<circle cx="481.6" cy="136.2" r="1.1"/>
<circle cx="470.6" cy="97.4" r="1.1"/>
<circle cx="470.3" cy="122.3" r="1.1"/>
<circle cx="466.0" cy="118.4" r="1.1"/>
<circle cx="462.5" cy="115.0" r="1.1"/>
<circle cx="484.9" cy="136.8" r="1.1"/>
<circle cx="467.9" cy="110.3" r="1.1"/>
<circle cx="473.1" cy="131.4" r="1.1"/>
<circle cx="476.1" cy="118.2" r="1.1"/>
<circle cx="462.4" cy="101.7" r="1.1"/>
<circle cx="476.2" cy="135.7" r="1.1"/>
<circle cx="469.0" cy="114.4" r="1.1"/>
<circle cx="466.7" cy="126.4" r="1.1"/>
<circle cx="468.1" cy="98.8" r="1.1"/>
<circle cx="474.9" cy="128.3" r="1.1"/>
<circle cx="476.1" cy="114.9" r="1.1"/>
<circle cx="463.6" cy="119.7" r="1.1"/>
<circle cx="469.5" cy="111.4" r="1.1"/>
<circle cx="464.0" cy="99.9" r="1.1"/>
<circle cx="473.4" cy="118.0" r="1.1"/>
<circle cx="463.2" cy="115.2" r="1.1"/>
<circle cx="464.4" cy="118.0" r="1.1"/>
<circle cx="473.7" cy="111.0" r="1.1"/>
<circle cx="465.3" cy="112.6" r="1.1"/>
<circle cx="465.5" cy="101.2" r="1.1"/>
<circle cx="473.5" cy="132.5" r="1.1"/>
<circle cx="473.2" cy="128.4" r="1.1"/>
<circle cx="475.4" cy="124.2" r="1.1"/>
<circle cx="464.1" cy="106.8" r="1.1"/>
<circle cx="460.8" cy="112.1" r="1.1"/>
<circle cx="474.0" cy="108.0" r="1.1"/>
<circle cx="475.6" cy="105.6" r="1.1"/>
<circle cx="476.1" cy="128.1" r="1.1"/>
<circle cx="466.6" cy="120.6" r="1.1"/>
<circle cx="476.7" cy="124.4" r="1.1"/>
<circle cx="471.0" cy="99.6" r="1.1"/>
<circle cx="466.6" cy="126.1" r="1.1"/>
<circle cx="469.3" cy="101.8" r="1.1"/>
<circle cx="465.4" cy="105.0" r="1.1"/>
<circle cx="478.0" cy="138.7" r="1.1"/>
<circle cx="480.6" cy="132.5" r="1.1"/>
<circle cx="486.0" cy="137.8" r="1.1"/>
<circle cx="485.5" cy="134.3" r="1.1"/>
<circle cx="475.6" cy="134.1" r="1.1"/>
<circle cx="487.2" cy="136.2" r="1.1"/>
<circle cx="478.3" cy="128.1" r="1.1"/>
<circle cx="486.9" cy="138.2" r="1.1"/>
<circle cx="488.3" cy="135.7" r="1.1"/>
<circle cx="487.0" cy="136.4" r="1.1"/>
<circle cx="482.6" cy="131.7" r="1.1"/>
<circle cx="486.9" cy="136.2" r="1.1"/>
<circle cx="489.4" cy="136.2" r="1.1"/>
<circle cx="476.5" cy="136.9" r="1.1"/>
<circle cx="476.2" cy="128.6" r="1.1"/>
<circle cx="480.2" cy="129.1" r="1.1"/>
<circle cx="480.9" cy="137.8" r="1.1"/>
<circle cx="484.3" cy="135.2" r="1.1"/>
<circle cx="479.1" cy="136.2" r="1.1"/>
<circle cx="486.3" cy="134.9" r="1.1"/>
<circle cx="489.0" cy="136.7" r="1.1"/>
<circle cx="483.7" cy="136.9" r="1.1"/>
<circle cx="478.1" cy="133.7" r="1.1"/>
<circle cx="487.1" cy="136.3" r="1.1"/>
<circle cx="482.9" cy="131.9" r="1.1"/>
<circle cx="478.0" cy="128.8" r="1.1"/>
<circle cx="478.4" cy="137.0" r="1.1"/>
<circle cx="483.1" cy="129.8" r="1.1"/>
<circle cx="473.6" cy="129.5" r="1.1"/>
<circle cx="484.6" cy="131.7" r="1.1"/>
<circle cx="483.9" cy="136.5" r="1.1"/>
<circle cx="475.3" cy="129.5" r="1.1"/>
<circle cx="476.0" cy="137.6" r="1.1"/>
<circle cx="483.0" cy="137.6" r="1.1"/>
<circle cx="479.1" cy="132.5" r="1.1"/>
<circle cx="480.2" cy="136.5" r="1.1"/>
<circle cx="476.5" cy="130.6" r="1.1"/>
<circle cx="478.8" cy="138.1" r="1.1"/>
<circle cx="488.1" cy="134.7" r="1.1"/>
<circle cx="480.0" cy="138.5" r="1.1"/>
<circle cx="478.5" cy="134.6" r="1.1"/>
<circle cx="483.4" cy="130.9" r="1.1"/>
<circle cx="481.4" cy="134.8" r="1.1"/>
<circle cx="478.5" cy="138.7" r="1.1"/>
<circle cx="484.3" cy="133.2" r="1.1"/>
<circle cx="480.1" cy="135.8" r="1.1"/>
<circle cx="488.0" cy="135.5" r="1.1"/>
<circle cx="477.9" cy="127.8" r="1.1"/>
<circle cx="474.6" cy="133.6" r="1.1"/>
<circle cx="479.1" cy="135.7" r="1.1"/>
<circle cx="483.5" cy="129.7" r="1.1"/>
<circle cx="481.8" cy="131.5" r="1.1"/>
<circle cx="486.5" cy="134.8" r="1.1"/>
<circle cx="478.8" cy="138.5" r="1.1"/>
<circle cx="484.8" cy="135.0" r="1.1"/>
<circle cx="477.0" cy="128.1" r="1.1"/>
<circle cx="482.4" cy="136.7" r="1.1"/>
<circle cx="474.5" cy="132.7" r="1.1"/>
<circle cx="477.4" cy="131.0" r="1.1"/>
<circle cx="475.4" cy="130.0" r="1.1"/>
<circle cx="477.8" cy="131.7" r="1.1"/>
<circle cx="474.0" cy="129.4" r="1.1"/>
<circle cx="479.1" cy="131.0" r="1.1"/>
<circle cx="475.7" cy="137.8" r="1.1"/>
<circle cx="480.1" cy="136.9" r="1.1"/>
<circle cx="483.5" cy="136.1" r="1.1"/>
<circle cx="477.7" cy="128.0" r="1.1"/>
<circle cx="485.6" cy="132.1" r="1.1"/>
<circle cx="482.1" cy="134.7" r="1.1"/>
<circle cx="478.5" cy="137.9" r="1.1"/>
<circle cx="481.5" cy="129.7" r="1.1"/>
<circle cx="483.3" cy="129.4" r="1.1"/>
<circle cx="486.9" cy="133.4" r="1.1"/>
<circle cx="478.4" cy="138.2" r="1.1"/>
<circle cx="476.8" cy="129.2" r="1.1"/>
<circle cx="485.6" cy="134.8" r="1.1"/>
<circle cx="479.4" cy="136.5" r="1.1"/>
<circle cx="474.0" cy="130.0" r="1.1"/>
<circle cx="492.9" cy="132.4" r="1.1"/>
<circle cx="494.8" cy="127.5" r="1.1"/>
<circle cx="495.3" cy="126.8" r="1.1"/>
<circle cx="486.6" cy="135.4" r="1.1"/>
<circle cx="491.4" cy="129.6" r="1.1"/>
<circle cx="491.0" cy="135.1" r="1.1"/>
<circle cx="493.3" cy="130.5" r="1.1"/>
<circle cx="489.7" cy="130.5" r="1.1"/>
<circle cx="487.8" cy="134.9" r="1.1"/>
<circle cx="494.6" cy="129.3" r="1.1"/>
<circle cx="493.1" cy="135.5" r="1.1"/>
<circle cx="485.8" cy="132.6" r="1.1"/>
<circle cx="493.9" cy="131.1" r="1.1"/>
<circle cx="492.4" cy="134.6" r="1.1"/>
<circle cx="495.2" cy="126.9" r="1.1"/>
<circle cx="495.7" cy="126.4" r="1.1"/>
<circle cx="466.0" cy="89.0" r="1.1"/>
<circle cx="467.7" cy="86.2" r="1.1"/>
<circle cx="466.7" cy="87.6" r="1.1"/>
<circle cx="472.7" cy="90.5" r="1.1"/>
<circle cx="466.5" cy="90.6" r="1.1"/>
<circle cx="467.3" cy="85.8" r="1.1"/>
<circle cx="473.6" cy="86.7" r="1.1"/>
<path d="M407.00 37.00V139.30H561.00" fill="none" stroke="#111" stroke-width="1.2"/>
<line x1="403.50" y1="139.30" x2="407.00" y2="139.30" stroke="#111" stroke-width="1.1"/>
<text transform="translate(402.00,142.20) scale(1,1.12)" text-anchor="end" class="tk">0</text>
<line x1="403.50" y1="105.20" x2="407.00" y2="105.20" stroke="#111" stroke-width="1.1"/>
<text transform="translate(402.00,108.10) scale(1,1.12)" text-anchor="end" class="tk">2</text>
<line x1="403.50" y1="71.10" x2="407.00" y2="71.10" stroke="#111" stroke-width="1.1"/>
<text transform="translate(402.00,74.00) scale(1,1.12)" text-anchor="end" class="tk">4</text>
<line x1="403.50" y1="37.00" x2="407.00" y2="37.00" stroke="#111" stroke-width="1.1"/>
<text transform="translate(402.00,39.90) scale(1,1.12)" text-anchor="end" class="tk">6</text>
<line x1="407.00" y1="139.30" x2="407.00" y2="142.10" stroke="#111" stroke-width="1.1"/>
<line x1="416.62" y1="139.30" x2="416.62" y2="142.10" stroke="#111" stroke-width="1.1"/>
<line x1="426.25" y1="139.30" x2="426.25" y2="142.10" stroke="#111" stroke-width="1.1"/>
<line x1="435.88" y1="139.30" x2="435.88" y2="143.50" stroke="#111" stroke-width="1.1"/>
<line x1="445.50" y1="139.30" x2="445.50" y2="142.10" stroke="#111" stroke-width="1.1"/>
<line x1="455.12" y1="139.30" x2="455.12" y2="142.10" stroke="#111" stroke-width="1.1"/>
<line x1="464.75" y1="139.30" x2="464.75" y2="142.10" stroke="#111" stroke-width="1.1"/>
<line x1="474.38" y1="139.30" x2="474.38" y2="142.10" stroke="#111" stroke-width="1.1"/>
<line x1="484.00" y1="139.30" x2="484.00" y2="143.50" stroke="#111" stroke-width="1.1"/>
<line x1="493.62" y1="139.30" x2="493.62" y2="142.10" stroke="#111" stroke-width="1.1"/>
<line x1="503.25" y1="139.30" x2="503.25" y2="142.10" stroke="#111" stroke-width="1.1"/>
<line x1="512.88" y1="139.30" x2="512.88" y2="142.10" stroke="#111" stroke-width="1.1"/>
<line x1="522.50" y1="139.30" x2="522.50" y2="142.10" stroke="#111" stroke-width="1.1"/>
<line x1="532.12" y1="139.30" x2="532.12" y2="143.50" stroke="#111" stroke-width="1.1"/>
<line x1="541.75" y1="139.30" x2="541.75" y2="142.10" stroke="#111" stroke-width="1.1"/>
<line x1="551.38" y1="139.30" x2="551.38" y2="142.10" stroke="#111" stroke-width="1.1"/>
<line x1="561.00" y1="139.30" x2="561.00" y2="142.10" stroke="#111" stroke-width="1.1"/>
<text transform="translate(435.88,152.70) scale(1,1.12)" text-anchor="middle" class="tk">-5</text>
<text transform="translate(484.00,152.70) scale(1,1.12)" text-anchor="middle" class="tk">0</text>
<text transform="translate(532.12,152.70) scale(1,1.12)" text-anchor="middle" class="tk">5</text>
<text x="484.00" y="164.00" text-anchor="middle" class="al xl">-log<tspan font-size="7" dy="1.8">2</tspan><tspan dy="-1.8">(FC)</tspan></text>
<text transform="translate(391.40,88.15) rotate(-90)" text-anchor="middle" class="al">-log<tspan font-size="6.5" dy="1.6">10</tspan><tspan dy="-1.6">(p value)</tspan></text>
<text transform="translate(435.80,31.50) scale(1,1.1)" text-anchor="middle" class="hd">IXN-ABP-1</text>
<text transform="translate(483.50,31.50) scale(1,1.1)" text-anchor="middle" class="hd">vs</text>
<text transform="translate(531.00,31.50) scale(1,1.1)" text-anchor="middle" class="hd">IXN-ABP-3</text>
<rect x="408.00" y="220.50" width="53.55" height="86.18" fill="#cadffb"/>
<rect x="508.05" y="220.50" width="50.75" height="86.18" fill="#fcdec5"/>
<line x1="408" y1="306.5" x2="562.30" y2="306.5" stroke="#333" stroke-width="1" stroke-dasharray="1 2"/>
<line x1="461.5" y1="220" x2="461.5" y2="323.40" stroke="#333" stroke-width="1" stroke-dasharray="1 2"/>
<line x1="507.5" y1="220" x2="507.5" y2="323.40" stroke="#333" stroke-width="1" stroke-dasharray="1 2"/>
<circle cx="467.4" cy="262.0" r="1.1"/>
<circle cx="469.4" cy="265.0" r="1.1"/>
<circle cx="467.8" cy="267.9" r="1.1"/>
<circle cx="458.3" cy="274.3" r="1.1"/>
<circle cx="448.9" cy="277.9" r="1.1"/>
<circle cx="445.0" cy="279.8" r="1.1"/>
<circle cx="454.9" cy="279.8" r="1.1"/>
<circle cx="447.9" cy="283.8" r="1.1"/>
<circle cx="451.9" cy="283.8" r="1.1"/>
<circle cx="455.9" cy="285.8" r="1.1"/>
<circle cx="449.9" cy="289.8" r="1.1"/>
<circle cx="446.0" cy="296.7" r="1.1"/>
<circle cx="447.9" cy="302.7" r="1.1"/>
<circle cx="449.9" cy="307.6" r="1.1"/>
<circle cx="495.6" cy="284.8" r="1.1"/>
<circle cx="489.6" cy="302.7" r="1.1"/>
<circle cx="493.6" cy="304.6" r="1.1"/>
<circle cx="497.5" cy="313.6" r="1.1"/>
<circle cx="465.8" cy="276.9" r="1.1"/>
<circle cx="470.8" cy="275.9" r="1.1"/>
<circle cx="470.8" cy="279.8" r="1.1"/>
<circle cx="477.7" cy="279.8" r="1.1"/>
<circle cx="461.8" cy="285.8" r="1.1"/>
<circle cx="468.5" cy="318.4" r="1.1"/>
<circle cx="460.6" cy="286.6" r="1.1"/>
<circle cx="459.7" cy="287.5" r="1.1"/>
<circle cx="465.4" cy="295.6" r="1.1"/>
<circle cx="477.7" cy="296.0" r="1.1"/>
<circle cx="469.5" cy="295.6" r="1.1"/>
<circle cx="478.1" cy="318.2" r="1.1"/>
<circle cx="471.0" cy="308.3" r="1.1"/>
<circle cx="466.8" cy="290.1" r="1.1"/>
<circle cx="466.2" cy="309.1" r="1.1"/>
<circle cx="469.1" cy="301.4" r="1.1"/>
<circle cx="461.8" cy="285.9" r="1.1"/>
<circle cx="465.6" cy="308.3" r="1.1"/>
<circle cx="476.3" cy="297.3" r="1.1"/>
<circle cx="457.9" cy="289.6" r="1.1"/>
<circle cx="462.0" cy="314.6" r="1.1"/>
<circle cx="471.7" cy="292.5" r="1.1"/>
<circle cx="463.0" cy="291.0" r="1.1"/>
<circle cx="463.9" cy="293.4" r="1.1"/>
<circle cx="478.6" cy="313.1" r="1.1"/>
<circle cx="475.9" cy="317.4" r="1.1"/>
<circle cx="474.7" cy="283.1" r="1.1"/>
<circle cx="463.3" cy="301.5" r="1.1"/>
<circle cx="479.5" cy="304.1" r="1.1"/>
<circle cx="468.2" cy="288.8" r="1.1"/>
<circle cx="474.6" cy="293.9" r="1.1"/>
<circle cx="479.0" cy="321.5" r="1.1"/>
<circle cx="474.4" cy="308.3" r="1.1"/>
<circle cx="464.0" cy="290.1" r="1.1"/>
<circle cx="457.1" cy="305.3" r="1.1"/>
<circle cx="465.9" cy="286.3" r="1.1"/>
<circle cx="463.0" cy="285.3" r="1.1"/>
<circle cx="474.0" cy="307.2" r="1.1"/>
<circle cx="470.6" cy="286.0" r="1.1"/>
<circle cx="460.9" cy="288.8" r="1.1"/>
<circle cx="470.6" cy="299.2" r="1.1"/>
<circle cx="471.8" cy="310.4" r="1.1"/>
<circle cx="460.0" cy="304.8" r="1.1"/>
<circle cx="464.3" cy="315.9" r="1.1"/>
<circle cx="475.7" cy="282.8" r="1.1"/>
<circle cx="475.6" cy="313.3" r="1.1"/>
<circle cx="467.6" cy="284.9" r="1.1"/>
<circle cx="474.8" cy="292.2" r="1.1"/>
<circle cx="467.5" cy="283.6" r="1.1"/>
<circle cx="467.0" cy="302.5" r="1.1"/>
<circle cx="471.7" cy="296.0" r="1.1"/>
<circle cx="480.7" cy="319.0" r="1.1"/>
<circle cx="477.9" cy="301.8" r="1.1"/>
<circle cx="478.5" cy="303.5" r="1.1"/>
<circle cx="459.3" cy="289.4" r="1.1"/>
<circle cx="465.1" cy="296.1" r="1.1"/>
<circle cx="471.3" cy="282.5" r="1.1"/>
<circle cx="476.2" cy="313.4" r="1.1"/>
<circle cx="478.7" cy="317.2" r="1.1"/>
<circle cx="465.0" cy="284.5" r="1.1"/>
<circle cx="477.8" cy="308.8" r="1.1"/>
<circle cx="466.6" cy="293.3" r="1.1"/>
<circle cx="469.1" cy="314.1" r="1.1"/>
<circle cx="465.7" cy="292.3" r="1.1"/>
<circle cx="470.6" cy="311.2" r="1.1"/>
<circle cx="475.8" cy="296.0" r="1.1"/>
<circle cx="480.6" cy="311.8" r="1.1"/>
<circle cx="471.8" cy="294.1" r="1.1"/>
<circle cx="463.8" cy="317.4" r="1.1"/>
<circle cx="478.9" cy="291.6" r="1.1"/>
<circle cx="479.1" cy="301.5" r="1.1"/>
<circle cx="471.8" cy="302.0" r="1.1"/>
<circle cx="467.7" cy="302.8" r="1.1"/>
<circle cx="475.2" cy="306.5" r="1.1"/>
<circle cx="479.1" cy="308.8" r="1.1"/>
<circle cx="471.1" cy="312.3" r="1.1"/>
<circle cx="459.5" cy="308.0" r="1.1"/>
<circle cx="466.7" cy="306.5" r="1.1"/>
<circle cx="463.1" cy="321.8" r="1.1"/>
<circle cx="478.3" cy="312.9" r="1.1"/>
<circle cx="463.9" cy="314.5" r="1.1"/>
<circle cx="469.4" cy="316.6" r="1.1"/>
<circle cx="465.7" cy="319.2" r="1.1"/>
<circle cx="475.3" cy="305.6" r="1.1"/>
<circle cx="471.7" cy="316.8" r="1.1"/>
<circle cx="470.7" cy="321.7" r="1.1"/>
<circle cx="476.2" cy="306.8" r="1.1"/>
<circle cx="464.9" cy="313.9" r="1.1"/>
<circle cx="456.2" cy="295.2" r="1.1"/>
<circle cx="457.1" cy="309.4" r="1.1"/>
<circle cx="464.5" cy="299.6" r="1.1"/>
<circle cx="468.2" cy="293.8" r="1.1"/>
<circle cx="482.1" cy="317.9" r="1.1"/>
<circle cx="471.6" cy="305.4" r="1.1"/>
<circle cx="464.1" cy="310.4" r="1.1"/>
<circle cx="465.2" cy="322.2" r="1.1"/>
<circle cx="458.5" cy="302.3" r="1.1"/>
<circle cx="458.6" cy="304.7" r="1.1"/>
<circle cx="463.0" cy="293.1" r="1.1"/>
<circle cx="470.6" cy="300.8" r="1.1"/>
<circle cx="475.0" cy="309.1" r="1.1"/>
<circle cx="472.7" cy="300.8" r="1.1"/>
<circle cx="476.8" cy="313.1" r="1.1"/>
<circle cx="476.2" cy="306.2" r="1.1"/>
<circle cx="468.7" cy="300.4" r="1.1"/>
<circle cx="456.0" cy="306.1" r="1.1"/>
<circle cx="473.3" cy="297.2" r="1.1"/>
<circle cx="480.6" cy="319.2" r="1.1"/>
<circle cx="480.4" cy="317.2" r="1.1"/>
<circle cx="469.5" cy="296.9" r="1.1"/>
<circle cx="462.9" cy="314.7" r="1.1"/>
<circle cx="455.0" cy="302.5" r="1.1"/>
<circle cx="465.3" cy="310.2" r="1.1"/>
<circle cx="464.9" cy="320.1" r="1.1"/>
<circle cx="464.7" cy="301.0" r="1.1"/>
<circle cx="472.5" cy="317.5" r="1.1"/>
<circle cx="456.7" cy="308.5" r="1.1"/>
<circle cx="476.8" cy="322.5" r="1.1"/>
<circle cx="466.0" cy="323.0" r="1.1"/>
<circle cx="470.8" cy="321.6" r="1.1"/>
<circle cx="462.4" cy="292.1" r="1.1"/>
<circle cx="471.6" cy="302.7" r="1.1"/>
<circle cx="472.1" cy="320.9" r="1.1"/>
<circle cx="462.5" cy="317.3" r="1.1"/>
<circle cx="455.4" cy="304.5" r="1.1"/>
<circle cx="465.8" cy="309.7" r="1.1"/>
<circle cx="461.9" cy="313.8" r="1.1"/>
<circle cx="474.4" cy="294.3" r="1.1"/>
<circle cx="475.7" cy="302.3" r="1.1"/>
<circle cx="459.1" cy="293.8" r="1.1"/>
<circle cx="468.6" cy="316.5" r="1.1"/>
<circle cx="470.8" cy="300.0" r="1.1"/>
<circle cx="470.4" cy="322.4" r="1.1"/>
<circle cx="476.7" cy="312.5" r="1.1"/>
<circle cx="471.6" cy="318.2" r="1.1"/>
<circle cx="460.8" cy="318.5" r="1.1"/>
<circle cx="472.0" cy="295.9" r="1.1"/>
<circle cx="460.4" cy="304.3" r="1.1"/>
<circle cx="472.5" cy="304.9" r="1.1"/>
<circle cx="476.2" cy="295.5" r="1.1"/>
<circle cx="462.5" cy="316.9" r="1.1"/>
<circle cx="480.6" cy="319.2" r="1.1"/>
<circle cx="477.4" cy="310.3" r="1.1"/>
<circle cx="465.7" cy="291.9" r="1.1"/>
<circle cx="467.7" cy="298.8" r="1.1"/>
<circle cx="472.4" cy="322.4" r="1.1"/>
<circle cx="461.1" cy="293.7" r="1.1"/>
<circle cx="475.6" cy="294.7" r="1.1"/>
<circle cx="461.5" cy="305.2" r="1.1"/>
<circle cx="464.3" cy="306.4" r="1.1"/>
<circle cx="459.7" cy="304.1" r="1.1"/>
<circle cx="475.8" cy="301.6" r="1.1"/>
<circle cx="457.8" cy="311.2" r="1.1"/>
<circle cx="468.4" cy="320.4" r="1.1"/>
<circle cx="458.0" cy="315.0" r="1.1"/>
<circle cx="474.9" cy="303.0" r="1.1"/>
<circle cx="458.6" cy="310.7" r="1.1"/>
<circle cx="477.5" cy="306.3" r="1.1"/>
<circle cx="469.0" cy="313.0" r="1.1"/>
<circle cx="473.1" cy="304.7" r="1.1"/>
<circle cx="460.4" cy="306.0" r="1.1"/>
<circle cx="471.3" cy="319.7" r="1.1"/>
<circle cx="464.7" cy="298.4" r="1.1"/>
<circle cx="473.7" cy="314.7" r="1.1"/>
<circle cx="462.2" cy="313.2" r="1.1"/>
<circle cx="474.4" cy="318.8" r="1.1"/>
<circle cx="460.9" cy="302.3" r="1.1"/>
<circle cx="464.0" cy="306.4" r="1.1"/>
<circle cx="477.1" cy="311.3" r="1.1"/>
<circle cx="455.9" cy="305.0" r="1.1"/>
<circle cx="473.8" cy="297.7" r="1.1"/>
<circle cx="473.4" cy="308.5" r="1.1"/>
<circle cx="462.7" cy="316.0" r="1.1"/>
<circle cx="464.4" cy="319.3" r="1.1"/>
<circle cx="463.8" cy="310.6" r="1.1"/>
<circle cx="478.2" cy="303.7" r="1.1"/>
<circle cx="470.5" cy="304.7" r="1.1"/>
<circle cx="468.0" cy="322.7" r="1.1"/>
<circle cx="482.4" cy="320.4" r="1.1"/>
<circle cx="476.9" cy="313.5" r="1.1"/>
<circle cx="479.7" cy="312.6" r="1.1"/>
<circle cx="473.7" cy="301.2" r="1.1"/>
<circle cx="462.8" cy="320.5" r="1.1"/>
<circle cx="465.0" cy="302.4" r="1.1"/>
<circle cx="481.9" cy="317.1" r="1.1"/>
<circle cx="458.1" cy="314.3" r="1.1"/>
<circle cx="479.1" cy="316.3" r="1.1"/>
<circle cx="480.1" cy="317.6" r="1.1"/>
<circle cx="470.3" cy="298.7" r="1.1"/>
<circle cx="477.9" cy="316.7" r="1.1"/>
<circle cx="472.2" cy="322.6" r="1.1"/>
<circle cx="478.0" cy="320.7" r="1.1"/>
<circle cx="464.5" cy="302.1" r="1.1"/>
<circle cx="467.8" cy="295.4" r="1.1"/>
<circle cx="475.9" cy="307.8" r="1.1"/>
<circle cx="477.8" cy="302.0" r="1.1"/>
<circle cx="467.2" cy="314.9" r="1.1"/>
<circle cx="475.9" cy="319.4" r="1.1"/>
<circle cx="464.1" cy="318.2" r="1.1"/>
<circle cx="476.9" cy="309.5" r="1.1"/>
<circle cx="467.0" cy="309.3" r="1.1"/>
<circle cx="457.1" cy="294.4" r="1.1"/>
<circle cx="464.1" cy="295.2" r="1.1"/>
<circle cx="476.7" cy="310.8" r="1.1"/>
<circle cx="461.0" cy="314.2" r="1.1"/>
<circle cx="479.6" cy="310.9" r="1.1"/>
<circle cx="461.6" cy="309.2" r="1.1"/>
<circle cx="466.6" cy="299.8" r="1.1"/>
<circle cx="473.8" cy="320.9" r="1.1"/>
<circle cx="460.0" cy="299.7" r="1.1"/>
<circle cx="470.1" cy="293.2" r="1.1"/>
<circle cx="463.9" cy="308.4" r="1.1"/>
<circle cx="469.3" cy="320.1" r="1.1"/>
<circle cx="472.1" cy="311.5" r="1.1"/>
<circle cx="472.4" cy="316.2" r="1.1"/>
<circle cx="458.6" cy="294.8" r="1.1"/>
<circle cx="461.5" cy="312.2" r="1.1"/>
<circle cx="462.6" cy="303.4" r="1.1"/>
<circle cx="462.6" cy="299.0" r="1.1"/>
<circle cx="464.5" cy="304.4" r="1.1"/>
<circle cx="465.6" cy="301.6" r="1.1"/>
<circle cx="476.9" cy="306.9" r="1.1"/>
<circle cx="461.0" cy="317.3" r="1.1"/>
<circle cx="469.8" cy="309.1" r="1.1"/>
<circle cx="458.3" cy="301.4" r="1.1"/>
<circle cx="473.3" cy="312.7" r="1.1"/>
<circle cx="473.7" cy="311.0" r="1.1"/>
<circle cx="466.1" cy="293.5" r="1.1"/>
<circle cx="480.7" cy="320.0" r="1.1"/>
<circle cx="460.0" cy="302.3" r="1.1"/>
<circle cx="460.8" cy="318.6" r="1.1"/>
<circle cx="479.4" cy="317.7" r="1.1"/>
<circle cx="466.2" cy="321.0" r="1.1"/>
<circle cx="462.6" cy="309.5" r="1.1"/>
<circle cx="475.0" cy="298.7" r="1.1"/>
<circle cx="466.3" cy="294.5" r="1.1"/>
<circle cx="458.9" cy="300.1" r="1.1"/>
<circle cx="474.0" cy="311.5" r="1.1"/>
<circle cx="470.5" cy="318.4" r="1.1"/>
<circle cx="470.8" cy="296.7" r="1.1"/>
<circle cx="462.1" cy="296.0" r="1.1"/>
<circle cx="457.1" cy="302.4" r="1.1"/>
<circle cx="457.4" cy="298.2" r="1.1"/>
<circle cx="472.5" cy="308.1" r="1.1"/>
<circle cx="471.8" cy="310.4" r="1.1"/>
<circle cx="462.0" cy="310.0" r="1.1"/>
<circle cx="470.7" cy="302.1" r="1.1"/>
<circle cx="467.5" cy="308.4" r="1.1"/>
<circle cx="480.0" cy="322.6" r="1.1"/>
<circle cx="477.9" cy="308.4" r="1.1"/>
<circle cx="476.3" cy="311.5" r="1.1"/>
<circle cx="483.6" cy="322.1" r="1.1"/>
<circle cx="471.9" cy="305.2" r="1.1"/>
<circle cx="461.7" cy="316.1" r="1.1"/>
<circle cx="461.4" cy="313.8" r="1.1"/>
<circle cx="469.5" cy="304.8" r="1.1"/>
<circle cx="476.0" cy="314.3" r="1.1"/>
<circle cx="484.5" cy="323.0" r="1.1"/>
<circle cx="474.9" cy="307.0" r="1.1"/>
<circle cx="465.5" cy="292.1" r="1.1"/>
<circle cx="468.9" cy="308.2" r="1.1"/>
<circle cx="464.0" cy="294.6" r="1.1"/>
<circle cx="469.3" cy="293.5" r="1.1"/>
<circle cx="460.0" cy="305.4" r="1.1"/>
<circle cx="465.2" cy="307.2" r="1.1"/>
<circle cx="470.7" cy="303.6" r="1.1"/>
<circle cx="471.6" cy="322.1" r="1.1"/>
<circle cx="463.2" cy="302.5" r="1.1"/>
<circle cx="464.4" cy="314.8" r="1.1"/>
<circle cx="469.6" cy="316.5" r="1.1"/>
<circle cx="461.0" cy="303.0" r="1.1"/>
<circle cx="466.8" cy="303.5" r="1.1"/>
<circle cx="472.1" cy="321.8" r="1.1"/>
<circle cx="474.1" cy="310.2" r="1.1"/>
<circle cx="470.8" cy="309.8" r="1.1"/>
<circle cx="466.0" cy="311.7" r="1.1"/>
<circle cx="463.3" cy="320.4" r="1.1"/>
<circle cx="465.9" cy="300.0" r="1.1"/>
<circle cx="462.9" cy="306.7" r="1.1"/>
<circle cx="461.1" cy="316.5" r="1.1"/>
<circle cx="457.1" cy="304.4" r="1.1"/>
<circle cx="478.3" cy="313.9" r="1.1"/>
<circle cx="479.2" cy="306.3" r="1.1"/>
<circle cx="462.5" cy="296.1" r="1.1"/>
<circle cx="472.4" cy="301.1" r="1.1"/>
<circle cx="474.1" cy="319.7" r="1.1"/>
<circle cx="465.2" cy="311.0" r="1.1"/>
<circle cx="471.8" cy="302.5" r="1.1"/>
<circle cx="467.5" cy="321.0" r="1.1"/>
<circle cx="477.2" cy="311.6" r="1.1"/>
<circle cx="474.8" cy="319.6" r="1.1"/>
<circle cx="465.5" cy="305.5" r="1.1"/>
<circle cx="464.9" cy="311.7" r="1.1"/>
<circle cx="474.2" cy="310.5" r="1.1"/>
<circle cx="471.9" cy="303.2" r="1.1"/>
<circle cx="477.1" cy="312.3" r="1.1"/>
<circle cx="468.5" cy="319.0" r="1.1"/>
<circle cx="481.7" cy="321.0" r="1.1"/>
<circle cx="470.2" cy="310.3" r="1.1"/>
<circle cx="467.4" cy="317.0" r="1.1"/>
<circle cx="472.6" cy="322.1" r="1.1"/>
<circle cx="464.2" cy="310.4" r="1.1"/>
<circle cx="472.9" cy="317.9" r="1.1"/>
<circle cx="465.9" cy="306.4" r="1.1"/>
<circle cx="474.8" cy="302.2" r="1.1"/>
<circle cx="477.8" cy="309.7" r="1.1"/>
<circle cx="463.0" cy="302.0" r="1.1"/>
<circle cx="463.6" cy="308.9" r="1.1"/>
<circle cx="472.8" cy="312.3" r="1.1"/>
<circle cx="464.1" cy="313.2" r="1.1"/>
<circle cx="471.4" cy="307.5" r="1.1"/>
<circle cx="479.4" cy="315.8" r="1.1"/>
<circle cx="464.5" cy="302.4" r="1.1"/>
<circle cx="463.1" cy="306.0" r="1.1"/>
<circle cx="475.4" cy="322.1" r="1.1"/>
<circle cx="478.0" cy="310.8" r="1.1"/>
<circle cx="464.5" cy="304.9" r="1.1"/>
<circle cx="464.7" cy="313.9" r="1.1"/>
<circle cx="475.1" cy="319.6" r="1.1"/>
<circle cx="467.5" cy="319.8" r="1.1"/>
<circle cx="474.7" cy="314.0" r="1.1"/>
<circle cx="478.2" cy="311.8" r="1.1"/>
<circle cx="464.4" cy="305.1" r="1.1"/>
<circle cx="464.2" cy="305.7" r="1.1"/>
<circle cx="478.7" cy="312.5" r="1.1"/>
<circle cx="469.5" cy="322.0" r="1.1"/>
<circle cx="474.2" cy="305.4" r="1.1"/>
<circle cx="473.9" cy="319.5" r="1.1"/>
<circle cx="469.7" cy="309.9" r="1.1"/>
<circle cx="474.1" cy="322.5" r="1.1"/>
<circle cx="475.4" cy="304.1" r="1.1"/>
<circle cx="474.2" cy="307.3" r="1.1"/>
<circle cx="471.9" cy="316.3" r="1.1"/>
<circle cx="462.4" cy="311.6" r="1.1"/>
<circle cx="468.6" cy="313.7" r="1.1"/>
<circle cx="475.2" cy="306.6" r="1.1"/>
<circle cx="467.4" cy="311.6" r="1.1"/>
<circle cx="473.2" cy="305.1" r="1.1"/>
<circle cx="478.1" cy="311.4" r="1.1"/>
<circle cx="469.5" cy="305.8" r="1.1"/>
<circle cx="479.6" cy="320.6" r="1.1"/>
<circle cx="463.5" cy="314.4" r="1.1"/>
<circle cx="476.3" cy="307.7" r="1.1"/>
<circle cx="471.3" cy="315.6" r="1.1"/>
<circle cx="465.4" cy="308.3" r="1.1"/>
<circle cx="478.5" cy="315.5" r="1.1"/>
<circle cx="474.3" cy="302.4" r="1.1"/>
<circle cx="466.6" cy="305.8" r="1.1"/>
<circle cx="462.7" cy="314.6" r="1.1"/>
<circle cx="474.0" cy="321.1" r="1.1"/>
<circle cx="473.6" cy="320.9" r="1.1"/>
<circle cx="471.8" cy="311.8" r="1.1"/>
<circle cx="467.9" cy="310.6" r="1.1"/>
<circle cx="462.0" cy="308.1" r="1.1"/>
<circle cx="466.2" cy="314.2" r="1.1"/>
<circle cx="472.7" cy="310.8" r="1.1"/>
<circle cx="476.7" cy="313.6" r="1.1"/>
<circle cx="475.7" cy="311.4" r="1.1"/>
<circle cx="462.8" cy="310.3" r="1.1"/>
<circle cx="479.5" cy="313.7" r="1.1"/>
<circle cx="462.9" cy="302.8" r="1.1"/>
<circle cx="465.5" cy="316.1" r="1.1"/>
<circle cx="481.4" cy="319.7" r="1.1"/>
<circle cx="475.6" cy="318.4" r="1.1"/>
<circle cx="463.8" cy="310.6" r="1.1"/>
<circle cx="463.3" cy="312.7" r="1.1"/>
<circle cx="474.1" cy="304.1" r="1.1"/>
<circle cx="469.0" cy="303.4" r="1.1"/>
<circle cx="471.7" cy="301.1" r="1.1"/>
<circle cx="475.8" cy="314.7" r="1.1"/>
<circle cx="481.0" cy="317.5" r="1.1"/>
<circle cx="473.4" cy="321.3" r="1.1"/>
<circle cx="472.3" cy="301.9" r="1.1"/>
<circle cx="468.9" cy="315.1" r="1.1"/>
<circle cx="476.9" cy="310.5" r="1.1"/>
<circle cx="467.8" cy="309.6" r="1.1"/>
<circle cx="465.3" cy="311.0" r="1.1"/>
<circle cx="467.7" cy="322.2" r="1.1"/>
<circle cx="467.6" cy="317.6" r="1.1"/>
<circle cx="468.4" cy="302.0" r="1.1"/>
<circle cx="472.2" cy="319.8" r="1.1"/>
<circle cx="476.8" cy="314.2" r="1.1"/>
<circle cx="472.1" cy="315.2" r="1.1"/>
<circle cx="473.0" cy="304.2" r="1.1"/>
<circle cx="468.5" cy="319.4" r="1.1"/>
<circle cx="473.9" cy="311.7" r="1.1"/>
<circle cx="476.9" cy="311.2" r="1.1"/>
<circle cx="470.1" cy="312.6" r="1.1"/>
<circle cx="462.5" cy="308.0" r="1.1"/>
<circle cx="467.9" cy="318.3" r="1.1"/>
<circle cx="475.7" cy="313.8" r="1.1"/>
<circle cx="477.9" cy="319.1" r="1.1"/>
<circle cx="467.3" cy="309.4" r="1.1"/>
<circle cx="469.6" cy="301.8" r="1.1"/>
<circle cx="480.4" cy="315.6" r="1.1"/>
<circle cx="472.3" cy="312.4" r="1.1"/>
<circle cx="469.5" cy="315.6" r="1.1"/>
<circle cx="473.2" cy="311.3" r="1.1"/>
<circle cx="467.4" cy="305.1" r="1.1"/>
<circle cx="476.1" cy="307.8" r="1.1"/>
<circle cx="481.7" cy="320.6" r="1.1"/>
<circle cx="472.8" cy="302.4" r="1.1"/>
<circle cx="469.5" cy="301.7" r="1.1"/>
<circle cx="472.5" cy="321.8" r="1.1"/>
<circle cx="467.8" cy="321.2" r="1.1"/>
<circle cx="470.2" cy="309.7" r="1.1"/>
<circle cx="474.8" cy="312.0" r="1.1"/>
<circle cx="480.2" cy="320.4" r="1.1"/>
<circle cx="478.4" cy="314.8" r="1.1"/>
<circle cx="469.6" cy="310.8" r="1.1"/>
<circle cx="473.8" cy="316.8" r="1.1"/>
<circle cx="465.3" cy="317.3" r="1.1"/>
<circle cx="478.6" cy="321.6" r="1.1"/>
<circle cx="477.1" cy="312.5" r="1.1"/>
<circle cx="479.3" cy="318.4" r="1.1"/>
<circle cx="475.2" cy="315.3" r="1.1"/>
<circle cx="465.7" cy="307.7" r="1.1"/>
<circle cx="468.8" cy="319.6" r="1.1"/>
<circle cx="463.3" cy="307.5" r="1.1"/>
<circle cx="469.5" cy="308.9" r="1.1"/>
<circle cx="475.2" cy="310.0" r="1.1"/>
<circle cx="488.0" cy="318.8" r="1.1"/>
<circle cx="494.8" cy="318.0" r="1.1"/>
<circle cx="485.1" cy="322.2" r="1.1"/>
<circle cx="486.1" cy="321.8" r="1.1"/>
<circle cx="489.9" cy="320.7" r="1.1"/>
<circle cx="490.0" cy="317.9" r="1.1"/>
<circle cx="489.6" cy="318.7" r="1.1"/>
<circle cx="491.5" cy="317.3" r="1.1"/>
<circle cx="493.2" cy="317.4" r="1.1"/>
<path d="M407.30 220.50V323.40H562.30" fill="none" stroke="#111" stroke-width="1.2"/>
<line x1="403.80" y1="323.40" x2="407.30" y2="323.40" stroke="#111" stroke-width="1.1"/>
<text transform="translate(402.30,326.30) scale(1,1.12)" text-anchor="end" class="tk">0</text>
<line x1="403.80" y1="297.67" x2="407.30" y2="297.67" stroke="#111" stroke-width="1.1"/>
<text transform="translate(402.30,300.57) scale(1,1.12)" text-anchor="end" class="tk">2</text>
<line x1="403.80" y1="271.95" x2="407.30" y2="271.95" stroke="#111" stroke-width="1.1"/>
<text transform="translate(402.30,274.85) scale(1,1.12)" text-anchor="end" class="tk">4</text>
<line x1="403.80" y1="246.22" x2="407.30" y2="246.22" stroke="#111" stroke-width="1.1"/>
<text transform="translate(402.30,249.12) scale(1,1.12)" text-anchor="end" class="tk">6</text>
<line x1="403.80" y1="220.50" x2="407.30" y2="220.50" stroke="#111" stroke-width="1.1"/>
<text transform="translate(402.30,223.40) scale(1,1.12)" text-anchor="end" class="tk">8</text>
<line x1="407.30" y1="323.40" x2="407.30" y2="327.60" stroke="#111" stroke-width="1.1"/>
<line x1="422.80" y1="323.40" x2="422.80" y2="326.20" stroke="#111" stroke-width="1.1"/>
<line x1="438.30" y1="323.40" x2="438.30" y2="326.20" stroke="#111" stroke-width="1.1"/>
<line x1="453.80" y1="323.40" x2="453.80" y2="326.20" stroke="#111" stroke-width="1.1"/>
<line x1="469.30" y1="323.40" x2="469.30" y2="326.20" stroke="#111" stroke-width="1.1"/>
<line x1="484.80" y1="323.40" x2="484.80" y2="327.60" stroke="#111" stroke-width="1.1"/>
<line x1="500.30" y1="323.40" x2="500.30" y2="326.20" stroke="#111" stroke-width="1.1"/>
<line x1="515.80" y1="323.40" x2="515.80" y2="326.20" stroke="#111" stroke-width="1.1"/>
<line x1="531.30" y1="323.40" x2="531.30" y2="326.20" stroke="#111" stroke-width="1.1"/>
<line x1="546.80" y1="323.40" x2="546.80" y2="326.20" stroke="#111" stroke-width="1.1"/>
<line x1="562.30" y1="323.40" x2="562.30" y2="327.60" stroke="#111" stroke-width="1.1"/>
<text transform="translate(407.30,337.20) scale(1,1.12)" text-anchor="middle" class="tk">-5</text>
<text transform="translate(484.80,337.20) scale(1,1.12)" text-anchor="middle" class="tk">0</text>
<text transform="translate(562.30,337.20) scale(1,1.12)" text-anchor="middle" class="tk">5</text>
<text x="484.80" y="348.80" text-anchor="middle" class="al xl">-log<tspan font-size="7" dy="1.8">2</tspan><tspan dy="-1.8">(FC)</tspan></text>
<text transform="translate(391.70,271.95) rotate(-90)" text-anchor="middle" class="al">-log<tspan font-size="6.5" dy="1.6">10</tspan><tspan dy="-1.6">(p value)</tspan></text>
<text transform="translate(436.10,215.00) scale(1,1.1)" text-anchor="middle" class="hd">IXN-ABP-1</text>
<text transform="translate(484.80,215.00) scale(1,1.1)" text-anchor="middle" class="hd">vs</text>
<text transform="translate(531.30,215.00) scale(1,1.1)" text-anchor="middle" class="hd">IXN-ABP-3</text>
<rect x="597.70" y="36.30" width="61.86" height="80.84" fill="#cadffb"/>
<rect x="688.44" y="36.30" width="62.06" height="80.84" fill="#fcdec5"/>
<line x1="598" y1="116.5" x2="751.00" y2="116.5" stroke="#333" stroke-width="1" stroke-dasharray="1 2"/>
<line x1="659.5" y1="37" x2="659.5" y2="139.30" stroke="#333" stroke-width="1" stroke-dasharray="1 2"/>
<line x1="687.5" y1="37" x2="687.5" y2="139.30" stroke="#333" stroke-width="1" stroke-dasharray="1 2"/>
<circle cx="701.0" cy="44.0" r="1.1"/>
<circle cx="702.3" cy="46.3" r="1.1"/>
<circle cx="708.5" cy="55.4" r="1.1"/>
<circle cx="697.9" cy="58.5" r="1.1"/>
<circle cx="712.9" cy="61.1" r="1.1"/>
<circle cx="716.3" cy="64.3" r="1.1"/>
<circle cx="716.3" cy="68.5" r="1.1"/>
<circle cx="723.3" cy="72.0" r="1.1"/>
<circle cx="721.0" cy="79.0" r="1.1"/>
<circle cx="721.8" cy="81.4" r="1.1"/>
<circle cx="713.2" cy="76.7" r="1.1"/>
<circle cx="701.5" cy="68.2" r="1.1"/>
<circle cx="707.3" cy="70.0" r="1.1"/>
<circle cx="656.3" cy="112.2" r="1.1"/>
<circle cx="630.5" cy="122.7" r="1.1"/>
<circle cx="663.6" cy="121.9" r="1.1"/>
<circle cx="668.5" cy="126.8" r="1.1"/>
<circle cx="662.0" cy="132.4" r="1.1"/>
<circle cx="700.8" cy="126.8" r="1.1"/>
<circle cx="700.8" cy="131.6" r="1.1"/>
<circle cx="658.8" cy="125.2" r="1.1"/>
<circle cx="713.7" cy="89.6" r="1.1"/>
<circle cx="718.5" cy="97.7" r="1.1"/>
<circle cx="719.4" cy="110.6" r="1.1"/>
<circle cx="666.0" cy="135.0" r="1.1"/>
<circle cx="670.0" cy="130.0" r="1.1"/>
<circle cx="744.9" cy="76.7" r="1.1"/>
<circle cx="719.3" cy="110.0" r="1.1"/>
<circle cx="723.3" cy="120.9" r="1.1"/>
<circle cx="701.9" cy="127.4" r="1.1"/>
<circle cx="663.0" cy="122.0" r="1.1"/>
<circle cx="666.0" cy="130.0" r="1.1"/>
<circle cx="662.0" cy="136.0" r="1.1"/>
<circle cx="695.3" cy="81.6" r="1.1"/>
<circle cx="691.4" cy="87.0" r="1.1"/>
<circle cx="691.1" cy="88.1" r="1.1"/>
<circle cx="711.5" cy="80.9" r="1.1"/>
<circle cx="685.0" cy="80.1" r="1.1"/>
<circle cx="698.4" cy="69.5" r="1.1"/>
<circle cx="705.4" cy="85.4" r="1.1"/>
<circle cx="703.9" cy="77.6" r="1.1"/>
<circle cx="701.4" cy="82.1" r="1.1"/>
<circle cx="691.7" cy="88.8" r="1.1"/>
<circle cx="700.2" cy="71.2" r="1.1"/>
<circle cx="699.4" cy="84.4" r="1.1"/>
<circle cx="708.1" cy="78.9" r="1.1"/>
<circle cx="695.6" cy="72.6" r="1.1"/>
<circle cx="697.7" cy="74.8" r="1.1"/>
<circle cx="690.6" cy="85.7" r="1.1"/>
<circle cx="701.6" cy="78.5" r="1.1"/>
<circle cx="690.7" cy="84.9" r="1.1"/>
<circle cx="690.7" cy="74.4" r="1.1"/>
<circle cx="703.0" cy="84.8" r="1.1"/>
<circle cx="708.6" cy="85.3" r="1.1"/>
<circle cx="686.1" cy="72.9" r="1.1"/>
<circle cx="708.5" cy="83.1" r="1.1"/>
<circle cx="693.0" cy="76.5" r="1.1"/>
<circle cx="689.6" cy="83.2" r="1.1"/>
<circle cx="696.1" cy="89.6" r="1.1"/>
<circle cx="711.4" cy="78.9" r="1.1"/>
<circle cx="687.5" cy="70.6" r="1.1"/>
<circle cx="689.2" cy="86.7" r="1.1"/>
<circle cx="700.0" cy="91.8" r="1.1"/>
<circle cx="700.2" cy="87.7" r="1.1"/>
<circle cx="688.4" cy="70.6" r="1.1"/>
<circle cx="703.2" cy="80.2" r="1.1"/>
<circle cx="691.1" cy="74.0" r="1.1"/>
<circle cx="708.1" cy="90.7" r="1.1"/>
<circle cx="708.9" cy="77.2" r="1.1"/>
<circle cx="711.6" cy="88.2" r="1.1"/>
<circle cx="691.3" cy="82.0" r="1.1"/>
<circle cx="712.2" cy="86.9" r="1.1"/>
<circle cx="699.8" cy="69.0" r="1.1"/>
<circle cx="710.1" cy="99.8" r="1.1"/>
<circle cx="681.5" cy="88.8" r="1.1"/>
<circle cx="696.0" cy="105.3" r="1.1"/>
<circle cx="686.2" cy="84.7" r="1.1"/>
<circle cx="710.7" cy="91.9" r="1.1"/>
<circle cx="682.6" cy="102.7" r="1.1"/>
<circle cx="683.4" cy="82.4" r="1.1"/>
<circle cx="695.0" cy="102.4" r="1.1"/>
<circle cx="701.3" cy="108.8" r="1.1"/>
<circle cx="694.4" cy="75.5" r="1.1"/>
<circle cx="704.4" cy="74.8" r="1.1"/>
<circle cx="695.5" cy="92.8" r="1.1"/>
<circle cx="702.6" cy="109.1" r="1.1"/>
<circle cx="687.4" cy="105.8" r="1.1"/>
<circle cx="703.2" cy="96.5" r="1.1"/>
<circle cx="684.0" cy="119.3" r="1.1"/>
<circle cx="700.0" cy="75.3" r="1.1"/>
<circle cx="687.4" cy="123.3" r="1.1"/>
<circle cx="687.0" cy="92.4" r="1.1"/>
<circle cx="701.2" cy="110.6" r="1.1"/>
<circle cx="687.4" cy="120.4" r="1.1"/>
<circle cx="686.7" cy="106.9" r="1.1"/>
<circle cx="711.2" cy="85.7" r="1.1"/>
<circle cx="705.5" cy="77.4" r="1.1"/>
<circle cx="685.5" cy="114.0" r="1.1"/>
<circle cx="684.7" cy="98.6" r="1.1"/>
<circle cx="682.7" cy="112.9" r="1.1"/>
<circle cx="698.5" cy="114.7" r="1.1"/>
<circle cx="696.6" cy="104.2" r="1.1"/>
<circle cx="699.8" cy="113.6" r="1.1"/>
<circle cx="698.1" cy="87.1" r="1.1"/>
<circle cx="695.0" cy="78.4" r="1.1"/>
<circle cx="701.8" cy="82.8" r="1.1"/>
<circle cx="694.0" cy="77.7" r="1.1"/>
<circle cx="691.3" cy="76.9" r="1.1"/>
<circle cx="704.6" cy="116.2" r="1.1"/>
<circle cx="708.7" cy="77.3" r="1.1"/>
<circle cx="691.9" cy="87.7" r="1.1"/>
<circle cx="705.7" cy="79.7" r="1.1"/>
<circle cx="703.2" cy="103.1" r="1.1"/>
<circle cx="697.2" cy="95.7" r="1.1"/>
<circle cx="693.3" cy="103.8" r="1.1"/>
<circle cx="704.6" cy="113.4" r="1.1"/>
<circle cx="702.8" cy="116.2" r="1.1"/>
<circle cx="694.1" cy="117.7" r="1.1"/>
<circle cx="685.3" cy="121.0" r="1.1"/>
<circle cx="694.5" cy="108.7" r="1.1"/>
<circle cx="687.8" cy="87.6" r="1.1"/>
<circle cx="691.2" cy="88.9" r="1.1"/>
<circle cx="682.3" cy="95.0" r="1.1"/>
<circle cx="705.3" cy="86.3" r="1.1"/>
<circle cx="687.7" cy="93.4" r="1.1"/>
<circle cx="690.5" cy="112.1" r="1.1"/>
<circle cx="706.8" cy="99.7" r="1.1"/>
<circle cx="682.7" cy="114.9" r="1.1"/>
<circle cx="690.0" cy="104.6" r="1.1"/>
<circle cx="691.8" cy="99.9" r="1.1"/>
<circle cx="697.6" cy="105.8" r="1.1"/>
<circle cx="693.3" cy="119.5" r="1.1"/>
<circle cx="689.1" cy="119.1" r="1.1"/>
<circle cx="685.2" cy="94.8" r="1.1"/>
<circle cx="703.0" cy="107.9" r="1.1"/>
<circle cx="705.1" cy="111.2" r="1.1"/>
<circle cx="687.7" cy="85.4" r="1.1"/>
<circle cx="680.0" cy="107.9" r="1.1"/>
<circle cx="686.3" cy="85.5" r="1.1"/>
<circle cx="699.7" cy="106.1" r="1.1"/>
<circle cx="699.9" cy="108.1" r="1.1"/>
<circle cx="689.6" cy="75.3" r="1.1"/>
<circle cx="691.7" cy="79.4" r="1.1"/>
<circle cx="683.0" cy="97.7" r="1.1"/>
<circle cx="688.6" cy="112.0" r="1.1"/>
<circle cx="685.2" cy="77.2" r="1.1"/>
<circle cx="689.6" cy="93.3" r="1.1"/>
<circle cx="703.1" cy="95.1" r="1.1"/>
<circle cx="704.5" cy="76.9" r="1.1"/>
<circle cx="711.6" cy="89.8" r="1.1"/>
<circle cx="708.0" cy="83.8" r="1.1"/>
<circle cx="702.5" cy="86.4" r="1.1"/>
<circle cx="710.7" cy="80.2" r="1.1"/>
<circle cx="702.1" cy="102.5" r="1.1"/>
<circle cx="702.1" cy="81.4" r="1.1"/>
<circle cx="684.0" cy="77.0" r="1.1"/>
<circle cx="713.4" cy="91.9" r="1.1"/>
<circle cx="701.8" cy="101.6" r="1.1"/>
<circle cx="686.8" cy="75.4" r="1.1"/>
<circle cx="691.7" cy="109.6" r="1.1"/>
<circle cx="683.8" cy="113.0" r="1.1"/>
<circle cx="687.8" cy="91.0" r="1.1"/>
<circle cx="697.3" cy="77.8" r="1.1"/>
<circle cx="687.7" cy="113.4" r="1.1"/>
<circle cx="689.0" cy="91.8" r="1.1"/>
<circle cx="705.8" cy="83.6" r="1.1"/>
<circle cx="685.8" cy="83.4" r="1.1"/>
<circle cx="692.4" cy="91.0" r="1.1"/>
<circle cx="701.4" cy="96.5" r="1.1"/>
<circle cx="702.2" cy="115.5" r="1.1"/>
<circle cx="694.3" cy="78.0" r="1.1"/>
<circle cx="695.1" cy="109.0" r="1.1"/>
<circle cx="695.8" cy="81.0" r="1.1"/>
<circle cx="687.1" cy="94.9" r="1.1"/>
<circle cx="691.6" cy="96.4" r="1.1"/>
<circle cx="705.0" cy="101.3" r="1.1"/>
<circle cx="709.0" cy="77.7" r="1.1"/>
<circle cx="687.4" cy="80.9" r="1.1"/>
<circle cx="709.3" cy="83.0" r="1.1"/>
<circle cx="681.9" cy="85.8" r="1.1"/>
<circle cx="711.3" cy="96.0" r="1.1"/>
<circle cx="704.6" cy="75.9" r="1.1"/>
<circle cx="694.9" cy="88.5" r="1.1"/>
<circle cx="686.2" cy="106.5" r="1.1"/>
<circle cx="691.6" cy="78.2" r="1.1"/>
<circle cx="701.9" cy="98.8" r="1.1"/>
<circle cx="679.9" cy="96.5" r="1.1"/>
<circle cx="704.9" cy="99.9" r="1.1"/>
<circle cx="687.2" cy="97.9" r="1.1"/>
<circle cx="700.2" cy="105.9" r="1.1"/>
<circle cx="684.1" cy="113.8" r="1.1"/>
<circle cx="709.0" cy="91.1" r="1.1"/>
<circle cx="710.6" cy="81.4" r="1.1"/>
<circle cx="686.9" cy="103.1" r="1.1"/>
<circle cx="694.4" cy="79.3" r="1.1"/>
<circle cx="685.7" cy="110.9" r="1.1"/>
<circle cx="693.1" cy="107.3" r="1.1"/>
<circle cx="687.2" cy="96.8" r="1.1"/>
<circle cx="700.7" cy="83.3" r="1.1"/>
<circle cx="708.2" cy="82.5" r="1.1"/>
<circle cx="686.9" cy="122.0" r="1.1"/>
<circle cx="690.3" cy="93.2" r="1.1"/>
<circle cx="691.0" cy="106.8" r="1.1"/>
<circle cx="684.7" cy="115.1" r="1.1"/>
<circle cx="688.0" cy="95.6" r="1.1"/>
<circle cx="698.7" cy="109.0" r="1.1"/>
<circle cx="683.8" cy="84.5" r="1.1"/>
<circle cx="684.2" cy="79.1" r="1.1"/>
<circle cx="697.3" cy="102.2" r="1.1"/>
<circle cx="687.2" cy="80.7" r="1.1"/>
<circle cx="699.5" cy="95.5" r="1.1"/>
<circle cx="693.3" cy="118.2" r="1.1"/>
<circle cx="702.2" cy="116.7" r="1.1"/>
<circle cx="712.5" cy="86.0" r="1.1"/>
<circle cx="712.0" cy="93.2" r="1.1"/>
<circle cx="689.1" cy="87.0" r="1.1"/>
<circle cx="693.7" cy="99.5" r="1.1"/>
<circle cx="701.9" cy="98.7" r="1.1"/>
<circle cx="683.1" cy="84.7" r="1.1"/>
<circle cx="702.0" cy="102.5" r="1.1"/>
<circle cx="681.7" cy="118.7" r="1.1"/>
<circle cx="699.0" cy="81.4" r="1.1"/>
<circle cx="703.2" cy="85.3" r="1.1"/>
<circle cx="687.3" cy="91.0" r="1.1"/>
<circle cx="697.3" cy="107.2" r="1.1"/>
<circle cx="681.6" cy="110.5" r="1.1"/>
<circle cx="700.8" cy="96.5" r="1.1"/>
<circle cx="702.5" cy="113.6" r="1.1"/>
<circle cx="679.3" cy="96.7" r="1.1"/>
<circle cx="702.7" cy="108.9" r="1.1"/>
<circle cx="701.7" cy="81.4" r="1.1"/>
<circle cx="687.2" cy="94.4" r="1.1"/>
<circle cx="712.5" cy="82.8" r="1.1"/>
<circle cx="710.5" cy="84.1" r="1.1"/>
<circle cx="704.7" cy="90.7" r="1.1"/>
<circle cx="702.2" cy="111.9" r="1.1"/>
<circle cx="683.5" cy="83.6" r="1.1"/>
<circle cx="686.5" cy="85.8" r="1.1"/>
<circle cx="693.2" cy="93.9" r="1.1"/>
<circle cx="681.7" cy="102.3" r="1.1"/>
<circle cx="691.4" cy="108.6" r="1.1"/>
<circle cx="694.3" cy="81.1" r="1.1"/>
<circle cx="702.7" cy="80.4" r="1.1"/>
<circle cx="701.5" cy="105.0" r="1.1"/>
<circle cx="685.9" cy="111.8" r="1.1"/>
<circle cx="689.5" cy="85.3" r="1.1"/>
<circle cx="707.8" cy="103.3" r="1.1"/>
<circle cx="699.6" cy="82.3" r="1.1"/>
<circle cx="679.5" cy="99.8" r="1.1"/>
<circle cx="694.4" cy="116.4" r="1.1"/>
<circle cx="675.1" cy="129.6" r="1.1"/>
<circle cx="678.3" cy="130.0" r="1.1"/>
<circle cx="673.0" cy="137.0" r="1.1"/>
<circle cx="680.7" cy="124.2" r="1.1"/>
<circle cx="680.2" cy="120.9" r="1.1"/>
<circle cx="685.8" cy="116.0" r="1.1"/>
<circle cx="690.8" cy="129.6" r="1.1"/>
<circle cx="678.2" cy="132.5" r="1.1"/>
<circle cx="694.5" cy="118.6" r="1.1"/>
<circle cx="686.2" cy="113.8" r="1.1"/>
<circle cx="693.2" cy="119.9" r="1.1"/>
<circle cx="694.1" cy="115.1" r="1.1"/>
<circle cx="675.7" cy="129.9" r="1.1"/>
<circle cx="692.2" cy="125.5" r="1.1"/>
<circle cx="689.4" cy="111.3" r="1.1"/>
<circle cx="691.2" cy="115.5" r="1.1"/>
<circle cx="678.0" cy="121.1" r="1.1"/>
<circle cx="687.7" cy="130.5" r="1.1"/>
<circle cx="691.4" cy="129.4" r="1.1"/>
<circle cx="692.2" cy="116.1" r="1.1"/>
<circle cx="696.8" cy="117.6" r="1.1"/>
<circle cx="680.0" cy="130.4" r="1.1"/>
<circle cx="687.0" cy="112.7" r="1.1"/>
<circle cx="685.2" cy="114.1" r="1.1"/>
<circle cx="687.2" cy="119.2" r="1.1"/>
<circle cx="694.1" cy="124.4" r="1.1"/>
<circle cx="696.1" cy="111.3" r="1.1"/>
<circle cx="685.9" cy="115.8" r="1.1"/>
<circle cx="692.4" cy="114.9" r="1.1"/>
<circle cx="680.1" cy="122.8" r="1.1"/>
<circle cx="682.0" cy="121.9" r="1.1"/>
<circle cx="690.7" cy="111.3" r="1.1"/>
<circle cx="685.0" cy="127.7" r="1.1"/>
<circle cx="690.7" cy="117.3" r="1.1"/>
<circle cx="696.0" cy="121.6" r="1.1"/>
<circle cx="672.3" cy="137.9" r="1.1"/>
<circle cx="695.9" cy="112.2" r="1.1"/>
<circle cx="698.2" cy="113.2" r="1.1"/>
<circle cx="675.1" cy="131.7" r="1.1"/>
<circle cx="683.9" cy="118.5" r="1.1"/>
<circle cx="678.1" cy="131.0" r="1.1"/>
<circle cx="690.1" cy="116.9" r="1.1"/>
<circle cx="685.3" cy="130.2" r="1.1"/>
<circle cx="694.7" cy="112.0" r="1.1"/>
<circle cx="675.8" cy="137.7" r="1.1"/>
<circle cx="672.7" cy="133.2" r="1.1"/>
<circle cx="680.9" cy="115.7" r="1.1"/>
<circle cx="677.9" cy="122.5" r="1.1"/>
<circle cx="698.9" cy="118.0" r="1.1"/>
<circle cx="675.0" cy="131.1" r="1.1"/>
<circle cx="681.0" cy="113.8" r="1.1"/>
<circle cx="683.6" cy="133.5" r="1.1"/>
<circle cx="699.2" cy="125.8" r="1.1"/>
<circle cx="702.3" cy="118.1" r="1.1"/>
<circle cx="678.3" cy="119.3" r="1.1"/>
<circle cx="682.1" cy="118.9" r="1.1"/>
<circle cx="677.0" cy="136.2" r="1.1"/>
<circle cx="683.4" cy="127.7" r="1.1"/>
<circle cx="677.6" cy="136.5" r="1.1"/>
<circle cx="697.5" cy="115.8" r="1.1"/>
<circle cx="692.0" cy="119.8" r="1.1"/>
<circle cx="698.4" cy="112.1" r="1.1"/>
<circle cx="687.9" cy="118.4" r="1.1"/>
<circle cx="697.7" cy="118.7" r="1.1"/>
<circle cx="699.8" cy="112.3" r="1.1"/>
<circle cx="692.7" cy="128.2" r="1.1"/>
<circle cx="670.7" cy="135.0" r="1.1"/>
<circle cx="688.2" cy="122.1" r="1.1"/>
<circle cx="680.9" cy="132.3" r="1.1"/>
<circle cx="696.9" cy="115.0" r="1.1"/>
<circle cx="694.9" cy="114.2" r="1.1"/>
<circle cx="685.2" cy="120.5" r="1.1"/>
<circle cx="679.8" cy="127.6" r="1.1"/>
<circle cx="700.3" cy="122.6" r="1.1"/>
<circle cx="679.9" cy="135.1" r="1.1"/>
<circle cx="689.1" cy="111.3" r="1.1"/>
<circle cx="689.6" cy="133.7" r="1.1"/>
<circle cx="687.1" cy="123.0" r="1.1"/>
<circle cx="683.6" cy="135.3" r="1.1"/>
<circle cx="692.3" cy="114.4" r="1.1"/>
<circle cx="681.7" cy="119.3" r="1.1"/>
<circle cx="673.4" cy="136.3" r="1.1"/>
<circle cx="684.1" cy="130.2" r="1.1"/>
<circle cx="687.3" cy="133.4" r="1.1"/>
<circle cx="696.6" cy="119.1" r="1.1"/>
<circle cx="676.8" cy="131.1" r="1.1"/>
<circle cx="697.1" cy="114.8" r="1.1"/>
<circle cx="684.2" cy="119.8" r="1.1"/>
<circle cx="680.5" cy="130.7" r="1.1"/>
<circle cx="675.5" cy="125.0" r="1.1"/>
<circle cx="686.5" cy="128.7" r="1.1"/>
<circle cx="674.0" cy="137.7" r="1.1"/>
<circle cx="696.8" cy="113.7" r="1.1"/>
<circle cx="681.7" cy="136.6" r="1.1"/>
<circle cx="686.6" cy="135.9" r="1.1"/>
<circle cx="688.6" cy="112.5" r="1.1"/>
<circle cx="691.1" cy="132.9" r="1.1"/>
<circle cx="683.8" cy="126.7" r="1.1"/>
<circle cx="683.7" cy="123.9" r="1.1"/>
<circle cx="687.1" cy="113.4" r="1.1"/>
<circle cx="676.1" cy="126.2" r="1.1"/>
<circle cx="693.9" cy="130.0" r="1.1"/>
<circle cx="678.5" cy="134.0" r="1.1"/>
<circle cx="680.8" cy="131.8" r="1.1"/>
<circle cx="690.6" cy="117.4" r="1.1"/>
<circle cx="680.1" cy="123.6" r="1.1"/>
<circle cx="685.5" cy="114.1" r="1.1"/>
<circle cx="689.7" cy="112.5" r="1.1"/>
<circle cx="683.1" cy="119.0" r="1.1"/>
<circle cx="683.9" cy="118.9" r="1.1"/>
<circle cx="693.2" cy="120.1" r="1.1"/>
<circle cx="674.3" cy="134.8" r="1.1"/>
<circle cx="681.4" cy="127.5" r="1.1"/>
<circle cx="701.2" cy="120.5" r="1.1"/>
<circle cx="684.1" cy="117.2" r="1.1"/>
<circle cx="688.4" cy="128.5" r="1.1"/>
<circle cx="689.7" cy="129.0" r="1.1"/>
<circle cx="680.9" cy="137.3" r="1.1"/>
<circle cx="688.2" cy="120.5" r="1.1"/>
<circle cx="685.8" cy="123.4" r="1.1"/>
<circle cx="681.7" cy="135.7" r="1.1"/>
<circle cx="681.2" cy="124.5" r="1.1"/>
<circle cx="685.7" cy="118.3" r="1.1"/>
<circle cx="682.5" cy="126.9" r="1.1"/>
<circle cx="696.5" cy="116.1" r="1.1"/>
<circle cx="677.9" cy="129.8" r="1.1"/>
<circle cx="677.8" cy="137.7" r="1.1"/>
<circle cx="680.6" cy="128.1" r="1.1"/>
<circle cx="677.3" cy="136.3" r="1.1"/>
<circle cx="674.6" cy="134.3" r="1.1"/>
<circle cx="683.7" cy="134.8" r="1.1"/>
<circle cx="680.8" cy="137.8" r="1.1"/>
<circle cx="673.4" cy="137.9" r="1.1"/>
<circle cx="678.9" cy="126.9" r="1.1"/>
<circle cx="683.3" cy="133.5" r="1.1"/>
<circle cx="674.9" cy="133.1" r="1.1"/>
<circle cx="677.8" cy="138.7" r="1.1"/>
<circle cx="679.0" cy="129.9" r="1.1"/>
<circle cx="683.3" cy="126.6" r="1.1"/>
<circle cx="677.6" cy="135.1" r="1.1"/>
<circle cx="679.0" cy="135.9" r="1.1"/>
<circle cx="681.2" cy="130.8" r="1.1"/>
<circle cx="677.4" cy="129.9" r="1.1"/>
<circle cx="678.1" cy="134.4" r="1.1"/>
<circle cx="684.6" cy="131.7" r="1.1"/>
<circle cx="678.6" cy="134.0" r="1.1"/>
<circle cx="681.1" cy="134.9" r="1.1"/>
<circle cx="678.5" cy="138.4" r="1.1"/>
<circle cx="681.8" cy="128.7" r="1.1"/>
<circle cx="678.0" cy="128.0" r="1.1"/>
<circle cx="677.1" cy="135.4" r="1.1"/>
<circle cx="676.2" cy="133.2" r="1.1"/>
<circle cx="674.5" cy="136.9" r="1.1"/>
<circle cx="679.8" cy="128.1" r="1.1"/>
<circle cx="686.8" cy="125.2" r="1.1"/>
<circle cx="674.4" cy="135.4" r="1.1"/>
<circle cx="681.2" cy="137.6" r="1.1"/>
<circle cx="681.4" cy="130.4" r="1.1"/>
<circle cx="686.9" cy="125.3" r="1.1"/>
<circle cx="684.4" cy="125.5" r="1.1"/>
<circle cx="683.6" cy="127.8" r="1.1"/>
<circle cx="683.7" cy="133.7" r="1.1"/>
<circle cx="683.5" cy="127.2" r="1.1"/>
<circle cx="682.5" cy="128.2" r="1.1"/>
<circle cx="677.9" cy="137.8" r="1.1"/>
<circle cx="678.8" cy="132.6" r="1.1"/>
<circle cx="679.3" cy="137.0" r="1.1"/>
<circle cx="678.4" cy="138.3" r="1.1"/>
<circle cx="679.6" cy="125.8" r="1.1"/>
<circle cx="684.0" cy="126.2" r="1.1"/>
<circle cx="683.8" cy="126.0" r="1.1"/>
<circle cx="682.2" cy="129.6" r="1.1"/>
<path d="M597.00 37.00V139.30H751.00" fill="none" stroke="#111" stroke-width="1.2"/>
<line x1="593.50" y1="139.30" x2="597.00" y2="139.30" stroke="#111" stroke-width="1.1"/>
<text transform="translate(592.00,142.20) scale(1,1.12)" text-anchor="end" class="tk">0</text>
<line x1="593.50" y1="105.20" x2="597.00" y2="105.20" stroke="#111" stroke-width="1.1"/>
<text transform="translate(592.00,108.10) scale(1,1.12)" text-anchor="end" class="tk">2</text>
<line x1="593.50" y1="71.10" x2="597.00" y2="71.10" stroke="#111" stroke-width="1.1"/>
<text transform="translate(592.00,74.00) scale(1,1.12)" text-anchor="end" class="tk">4</text>
<line x1="593.50" y1="37.00" x2="597.00" y2="37.00" stroke="#111" stroke-width="1.1"/>
<text transform="translate(592.00,39.90) scale(1,1.12)" text-anchor="end" class="tk">6</text>
<line x1="597.00" y1="139.30" x2="597.00" y2="142.10" stroke="#111" stroke-width="1.1"/>
<line x1="606.62" y1="139.30" x2="606.62" y2="142.10" stroke="#111" stroke-width="1.1"/>
<line x1="616.25" y1="139.30" x2="616.25" y2="142.10" stroke="#111" stroke-width="1.1"/>
<line x1="625.88" y1="139.30" x2="625.88" y2="143.50" stroke="#111" stroke-width="1.1"/>
<line x1="635.50" y1="139.30" x2="635.50" y2="142.10" stroke="#111" stroke-width="1.1"/>
<line x1="645.12" y1="139.30" x2="645.12" y2="142.10" stroke="#111" stroke-width="1.1"/>
<line x1="654.75" y1="139.30" x2="654.75" y2="142.10" stroke="#111" stroke-width="1.1"/>
<line x1="664.38" y1="139.30" x2="664.38" y2="142.10" stroke="#111" stroke-width="1.1"/>
<line x1="674.00" y1="139.30" x2="674.00" y2="143.50" stroke="#111" stroke-width="1.1"/>
<line x1="683.62" y1="139.30" x2="683.62" y2="142.10" stroke="#111" stroke-width="1.1"/>
<line x1="693.25" y1="139.30" x2="693.25" y2="142.10" stroke="#111" stroke-width="1.1"/>
<line x1="702.88" y1="139.30" x2="702.88" y2="142.10" stroke="#111" stroke-width="1.1"/>
<line x1="712.50" y1="139.30" x2="712.50" y2="142.10" stroke="#111" stroke-width="1.1"/>
<line x1="722.12" y1="139.30" x2="722.12" y2="143.50" stroke="#111" stroke-width="1.1"/>
<line x1="731.75" y1="139.30" x2="731.75" y2="142.10" stroke="#111" stroke-width="1.1"/>
<line x1="741.38" y1="139.30" x2="741.38" y2="142.10" stroke="#111" stroke-width="1.1"/>
<line x1="751.00" y1="139.30" x2="751.00" y2="142.10" stroke="#111" stroke-width="1.1"/>
<text transform="translate(625.88,152.70) scale(1,1.12)" text-anchor="middle" class="tk">-5</text>
<text transform="translate(674.00,152.70) scale(1,1.12)" text-anchor="middle" class="tk">0</text>
<text transform="translate(722.12,152.70) scale(1,1.12)" text-anchor="middle" class="tk">5</text>
<text x="674.00" y="164.00" text-anchor="middle" class="al xl">-log<tspan font-size="7" dy="1.8">2</tspan><tspan dy="-1.8">(FC)</tspan></text>
<text transform="translate(581.40,88.15) rotate(-90)" text-anchor="middle" class="al">-log<tspan font-size="6.5" dy="1.6">10</tspan><tspan dy="-1.6">(p value)</tspan></text>
<text transform="translate(625.80,31.50) scale(1,1.1)" text-anchor="middle" class="hd">XN-ABP-3</text>
<text transform="translate(673.00,31.50) scale(1,1.1)" text-anchor="middle" class="hd">vs</text>
<text transform="translate(720.00,31.50) scale(1,1.1)" text-anchor="middle" class="hd">IXN-ABP-3</text>
<rect x="598.00" y="220.50" width="53.55" height="86.18" fill="#cadffb"/>
<rect x="698.05" y="220.50" width="50.75" height="86.18" fill="#fcdec5"/>
<line x1="598" y1="306.5" x2="752.30" y2="306.5" stroke="#333" stroke-width="1" stroke-dasharray="1 2"/>
<line x1="651.5" y1="220" x2="651.5" y2="323.40" stroke="#333" stroke-width="1" stroke-dasharray="1 2"/>
<line x1="697.5" y1="220" x2="697.5" y2="323.40" stroke="#333" stroke-width="1" stroke-dasharray="1 2"/>
<circle cx="713.4" cy="228.1" r="1.1"/>
<circle cx="713.4" cy="242.6" r="1.1"/>
<circle cx="700.8" cy="253.0" r="1.1"/>
<circle cx="720.4" cy="255.0" r="1.1"/>
<circle cx="725.4" cy="257.7" r="1.1"/>
<circle cx="736.8" cy="256.1" r="1.1"/>
<circle cx="692.7" cy="266.7" r="1.1"/>
<circle cx="695.8" cy="266.0" r="1.1"/>
<circle cx="709.1" cy="268.3" r="1.1"/>
<circle cx="710.6" cy="269.8" r="1.1"/>
<circle cx="715.3" cy="269.1" r="1.1"/>
<circle cx="716.4" cy="266.4" r="1.1"/>
<circle cx="721.1" cy="272.2" r="1.1"/>
<circle cx="697.4" cy="272.2" r="1.1"/>
<circle cx="685.7" cy="275.9" r="1.1"/>
<circle cx="686.5" cy="280.2" r="1.1"/>
<circle cx="684.0" cy="287.0" r="1.1"/>
<circle cx="665.3" cy="302.3" r="1.1"/>
<circle cx="667.0" cy="311.6" r="1.1"/>
<circle cx="664.4" cy="315.0" r="1.1"/>
<circle cx="670.4" cy="320.1" r="1.1"/>
<circle cx="721.3" cy="271.7" r="1.1"/>
<circle cx="734.0" cy="283.9" r="1.1"/>
<circle cx="717.9" cy="283.6" r="1.1"/>
<circle cx="716.2" cy="298.0" r="1.1"/>
<circle cx="720.5" cy="303.1" r="1.1"/>
<circle cx="710.3" cy="307.4" r="1.1"/>
<circle cx="711.1" cy="315.8" r="1.1"/>
<circle cx="696.7" cy="317.5" r="1.1"/>
<circle cx="709.4" cy="270.0" r="1.1"/>
<circle cx="711.4" cy="285.8" r="1.1"/>
<circle cx="690.5" cy="286.7" r="1.1"/>
<circle cx="694.7" cy="284.8" r="1.1"/>
<circle cx="700.5" cy="291.7" r="1.1"/>
<circle cx="702.1" cy="285.3" r="1.1"/>
<circle cx="691.5" cy="299.3" r="1.1"/>
<circle cx="700.2" cy="287.9" r="1.1"/>
<circle cx="710.6" cy="282.3" r="1.1"/>
<circle cx="696.6" cy="283.2" r="1.1"/>
<circle cx="690.3" cy="302.0" r="1.1"/>
<circle cx="699.9" cy="293.2" r="1.1"/>
<circle cx="712.2" cy="289.6" r="1.1"/>
<circle cx="699.2" cy="274.6" r="1.1"/>
<circle cx="687.9" cy="289.6" r="1.1"/>
<circle cx="693.8" cy="283.3" r="1.1"/>
<circle cx="701.2" cy="296.8" r="1.1"/>
<circle cx="677.6" cy="321.3" r="1.1"/>
<circle cx="698.4" cy="293.0" r="1.1"/>
<circle cx="695.3" cy="284.5" r="1.1"/>
<circle cx="677.3" cy="315.8" r="1.1"/>
<circle cx="696.5" cy="316.1" r="1.1"/>
<circle cx="684.6" cy="300.3" r="1.1"/>
<circle cx="683.8" cy="313.7" r="1.1"/>
<circle cx="681.0" cy="304.1" r="1.1"/>
<circle cx="695.6" cy="287.1" r="1.1"/>
<circle cx="694.3" cy="313.0" r="1.1"/>
<circle cx="685.1" cy="312.2" r="1.1"/>
<circle cx="681.9" cy="303.3" r="1.1"/>
<circle cx="702.1" cy="296.1" r="1.1"/>
<circle cx="712.0" cy="290.6" r="1.1"/>
<circle cx="695.7" cy="292.1" r="1.1"/>
<circle cx="686.8" cy="285.0" r="1.1"/>
<circle cx="680.0" cy="319.1" r="1.1"/>
<circle cx="707.8" cy="289.9" r="1.1"/>
<circle cx="697.7" cy="299.1" r="1.1"/>
<circle cx="699.8" cy="302.2" r="1.1"/>
<circle cx="707.5" cy="295.0" r="1.1"/>
<circle cx="681.4" cy="306.9" r="1.1"/>
<circle cx="679.5" cy="306.3" r="1.1"/>
<circle cx="698.3" cy="307.4" r="1.1"/>
<circle cx="712.4" cy="285.5" r="1.1"/>
<circle cx="701.1" cy="290.9" r="1.1"/>
<circle cx="683.2" cy="317.8" r="1.1"/>
<circle cx="686.4" cy="313.2" r="1.1"/>
<circle cx="706.1" cy="293.9" r="1.1"/>
<circle cx="688.9" cy="311.8" r="1.1"/>
<circle cx="699.9" cy="298.4" r="1.1"/>
<circle cx="676.2" cy="314.3" r="1.1"/>
<circle cx="675.8" cy="316.4" r="1.1"/>
<circle cx="689.5" cy="301.4" r="1.1"/>
<circle cx="693.6" cy="298.4" r="1.1"/>
<circle cx="691.7" cy="291.7" r="1.1"/>
<circle cx="704.4" cy="298.6" r="1.1"/>
<circle cx="679.9" cy="309.4" r="1.1"/>
<circle cx="706.3" cy="295.2" r="1.1"/>
<circle cx="708.5" cy="279.8" r="1.1"/>
<circle cx="686.3" cy="297.0" r="1.1"/>
<circle cx="702.9" cy="293.6" r="1.1"/>
<circle cx="684.9" cy="315.6" r="1.1"/>
<circle cx="688.7" cy="292.1" r="1.1"/>
<circle cx="702.0" cy="289.0" r="1.1"/>
<circle cx="700.2" cy="295.9" r="1.1"/>
<circle cx="672.6" cy="320.6" r="1.1"/>
<circle cx="684.3" cy="298.7" r="1.1"/>
<circle cx="712.8" cy="280.9" r="1.1"/>
<circle cx="678.6" cy="314.8" r="1.1"/>
<circle cx="683.6" cy="296.9" r="1.1"/>
<circle cx="710.5" cy="293.4" r="1.1"/>
<circle cx="682.0" cy="301.4" r="1.1"/>
<circle cx="699.6" cy="274.7" r="1.1"/>
<circle cx="695.4" cy="286.3" r="1.1"/>
<circle cx="684.1" cy="294.6" r="1.1"/>
<circle cx="683.9" cy="302.5" r="1.1"/>
<circle cx="688.0" cy="294.9" r="1.1"/>
<circle cx="694.6" cy="305.1" r="1.1"/>
<circle cx="679.2" cy="314.1" r="1.1"/>
<circle cx="687.7" cy="320.1" r="1.1"/>
<circle cx="673.7" cy="320.2" r="1.1"/>
<circle cx="704.4" cy="278.5" r="1.1"/>
<circle cx="686.8" cy="308.8" r="1.1"/>
<circle cx="693.0" cy="320.8" r="1.1"/>
<circle cx="707.9" cy="279.0" r="1.1"/>
<circle cx="696.1" cy="297.7" r="1.1"/>
<circle cx="698.1" cy="287.1" r="1.1"/>
<circle cx="698.9" cy="282.5" r="1.1"/>
<circle cx="701.6" cy="291.4" r="1.1"/>
<circle cx="702.7" cy="300.7" r="1.1"/>
<circle cx="698.9" cy="298.7" r="1.1"/>
<circle cx="702.4" cy="287.3" r="1.1"/>
<circle cx="692.3" cy="295.1" r="1.1"/>
<circle cx="693.7" cy="283.7" r="1.1"/>
<circle cx="697.1" cy="283.6" r="1.1"/>
<circle cx="710.0" cy="289.1" r="1.1"/>
<circle cx="683.5" cy="299.1" r="1.1"/>
<circle cx="698.9" cy="275.9" r="1.1"/>
<circle cx="694.1" cy="296.0" r="1.1"/>
<circle cx="700.5" cy="285.2" r="1.1"/>
<circle cx="709.6" cy="286.0" r="1.1"/>
<circle cx="707.6" cy="283.1" r="1.1"/>
<circle cx="691.8" cy="317.4" r="1.1"/>
<circle cx="689.1" cy="296.2" r="1.1"/>
<circle cx="693.6" cy="281.3" r="1.1"/>
<circle cx="683.2" cy="314.4" r="1.1"/>
<circle cx="701.3" cy="296.8" r="1.1"/>
<circle cx="696.4" cy="305.1" r="1.1"/>
<circle cx="682.9" cy="313.3" r="1.1"/>
<circle cx="683.0" cy="319.0" r="1.1"/>
<circle cx="687.9" cy="293.7" r="1.1"/>
<circle cx="676.6" cy="313.3" r="1.1"/>
<circle cx="682.7" cy="320.4" r="1.1"/>
<circle cx="700.9" cy="280.1" r="1.1"/>
<circle cx="702.2" cy="286.7" r="1.1"/>
<circle cx="694.4" cy="274.0" r="1.1"/>
<circle cx="696.7" cy="306.3" r="1.1"/>
<circle cx="685.9" cy="308.9" r="1.1"/>
<circle cx="696.0" cy="277.1" r="1.1"/>
<circle cx="682.3" cy="295.0" r="1.1"/>
<circle cx="691.2" cy="277.0" r="1.1"/>
<circle cx="685.5" cy="298.5" r="1.1"/>
<circle cx="688.5" cy="321.3" r="1.1"/>
<circle cx="683.1" cy="320.3" r="1.1"/>
<circle cx="685.2" cy="292.2" r="1.1"/>
<circle cx="685.5" cy="304.3" r="1.1"/>
<circle cx="702.7" cy="296.6" r="1.1"/>
<circle cx="695.6" cy="293.7" r="1.1"/>
<circle cx="689.7" cy="314.4" r="1.1"/>
<circle cx="693.9" cy="310.9" r="1.1"/>
<circle cx="681.9" cy="308.9" r="1.1"/>
<circle cx="684.9" cy="304.3" r="1.1"/>
<circle cx="688.2" cy="308.3" r="1.1"/>
<circle cx="696.6" cy="299.0" r="1.1"/>
<circle cx="678.2" cy="316.3" r="1.1"/>
<circle cx="697.3" cy="294.2" r="1.1"/>
<circle cx="684.0" cy="318.0" r="1.1"/>
<circle cx="681.5" cy="304.8" r="1.1"/>
<circle cx="691.7" cy="295.1" r="1.1"/>
<circle cx="677.9" cy="314.8" r="1.1"/>
<circle cx="690.9" cy="299.5" r="1.1"/>
<circle cx="694.9" cy="292.9" r="1.1"/>
<circle cx="680.7" cy="318.3" r="1.1"/>
<circle cx="693.4" cy="291.8" r="1.1"/>
<circle cx="679.0" cy="310.7" r="1.1"/>
<circle cx="691.4" cy="297.5" r="1.1"/>
<circle cx="686.8" cy="296.9" r="1.1"/>
<circle cx="696.1" cy="309.6" r="1.1"/>
<circle cx="691.9" cy="309.4" r="1.1"/>
<circle cx="676.9" cy="317.4" r="1.1"/>
<circle cx="694.0" cy="306.1" r="1.1"/>
<circle cx="689.5" cy="305.4" r="1.1"/>
<circle cx="693.4" cy="306.7" r="1.1"/>
<circle cx="682.1" cy="306.1" r="1.1"/>
<circle cx="687.8" cy="316.9" r="1.1"/>
<circle cx="692.5" cy="296.8" r="1.1"/>
<circle cx="687.5" cy="308.2" r="1.1"/>
<circle cx="689.2" cy="304.4" r="1.1"/>
<circle cx="687.6" cy="311.4" r="1.1"/>
<circle cx="696.4" cy="306.1" r="1.1"/>
<circle cx="694.1" cy="311.1" r="1.1"/>
<circle cx="682.9" cy="301.2" r="1.1"/>
<circle cx="687.1" cy="299.4" r="1.1"/>
<circle cx="684.3" cy="311.7" r="1.1"/>
<circle cx="697.4" cy="295.3" r="1.1"/>
<circle cx="690.4" cy="319.6" r="1.1"/>
<circle cx="684.4" cy="317.2" r="1.1"/>
<circle cx="694.5" cy="300.2" r="1.1"/>
<circle cx="678.9" cy="315.0" r="1.1"/>
<circle cx="685.3" cy="301.1" r="1.1"/>
<circle cx="686.5" cy="312.6" r="1.1"/>
<circle cx="693.7" cy="295.8" r="1.1"/>
<circle cx="685.2" cy="297.9" r="1.1"/>
<circle cx="691.8" cy="300.4" r="1.1"/>
<circle cx="692.0" cy="294.9" r="1.1"/>
<circle cx="682.2" cy="303.3" r="1.1"/>
<circle cx="698.7" cy="294.8" r="1.1"/>
<circle cx="689.5" cy="292.8" r="1.1"/>
<circle cx="694.8" cy="313.3" r="1.1"/>
<circle cx="679.6" cy="318.5" r="1.1"/>
<circle cx="694.2" cy="299.1" r="1.1"/>
<circle cx="698.5" cy="295.3" r="1.1"/>
<circle cx="694.6" cy="293.4" r="1.1"/>
<circle cx="694.2" cy="307.0" r="1.1"/>
<circle cx="694.4" cy="300.7" r="1.1"/>
<circle cx="692.6" cy="305.9" r="1.1"/>
<circle cx="693.6" cy="296.5" r="1.1"/>
<circle cx="695.7" cy="311.8" r="1.1"/>
<circle cx="679.2" cy="312.5" r="1.1"/>
<circle cx="681.6" cy="313.7" r="1.1"/>
<circle cx="692.5" cy="311.3" r="1.1"/>
<circle cx="690.7" cy="311.6" r="1.1"/>
<circle cx="696.8" cy="301.4" r="1.1"/>
<circle cx="687.8" cy="310.3" r="1.1"/>
<circle cx="697.4" cy="310.2" r="1.1"/>
<circle cx="683.9" cy="318.0" r="1.1"/>
<circle cx="684.7" cy="310.6" r="1.1"/>
<circle cx="682.4" cy="319.6" r="1.1"/>
<circle cx="689.6" cy="318.2" r="1.1"/>
<circle cx="687.3" cy="309.2" r="1.1"/>
<circle cx="681.1" cy="320.5" r="1.1"/>
<circle cx="687.6" cy="317.7" r="1.1"/>
<circle cx="685.2" cy="317.7" r="1.1"/>
<circle cx="674.3" cy="322.7" r="1.1"/>
<circle cx="685.5" cy="314.4" r="1.1"/>
<circle cx="688.6" cy="317.1" r="1.1"/>
<circle cx="687.7" cy="307.3" r="1.1"/>
<circle cx="683.2" cy="318.0" r="1.1"/>
<circle cx="687.0" cy="320.9" r="1.1"/>
<circle cx="681.5" cy="315.9" r="1.1"/>
<circle cx="683.7" cy="318.5" r="1.1"/>
<circle cx="673.9" cy="320.6" r="1.1"/>
<circle cx="694.5" cy="309.1" r="1.1"/>
<circle cx="685.0" cy="321.8" r="1.1"/>
<circle cx="681.7" cy="315.7" r="1.1"/>
<circle cx="691.2" cy="304.4" r="1.1"/>
<circle cx="678.5" cy="312.9" r="1.1"/>
<circle cx="683.0" cy="309.7" r="1.1"/>
<circle cx="684.8" cy="322.0" r="1.1"/>
<circle cx="690.4" cy="304.3" r="1.1"/>
<circle cx="684.5" cy="309.4" r="1.1"/>
<circle cx="686.1" cy="307.3" r="1.1"/>
<circle cx="681.9" cy="313.0" r="1.1"/>
<circle cx="680.5" cy="313.7" r="1.1"/>
<circle cx="683.6" cy="317.7" r="1.1"/>
<circle cx="691.3" cy="317.3" r="1.1"/>
<circle cx="680.5" cy="316.8" r="1.1"/>
<circle cx="686.4" cy="319.5" r="1.1"/>
<circle cx="694.5" cy="311.3" r="1.1"/>
<circle cx="690.5" cy="315.5" r="1.1"/>
<circle cx="690.4" cy="305.1" r="1.1"/>
<circle cx="686.2" cy="316.3" r="1.1"/>
<circle cx="695.2" cy="307.3" r="1.1"/>
<circle cx="687.8" cy="311.2" r="1.1"/>
<circle cx="681.5" cy="311.7" r="1.1"/>
<circle cx="693.5" cy="309.5" r="1.1"/>
<circle cx="692.9" cy="313.7" r="1.1"/>
<circle cx="688.8" cy="311.3" r="1.1"/>
<circle cx="677.1" cy="313.7" r="1.1"/>
<circle cx="678.8" cy="319.2" r="1.1"/>
<circle cx="684.6" cy="322.4" r="1.1"/>
<circle cx="684.2" cy="313.7" r="1.1"/>
<circle cx="675.9" cy="318.4" r="1.1"/>
<circle cx="683.1" cy="317.9" r="1.1"/>
<circle cx="688.4" cy="313.4" r="1.1"/>
<circle cx="685.6" cy="312.1" r="1.1"/>
<circle cx="679.8" cy="312.9" r="1.1"/>
<circle cx="679.4" cy="322.7" r="1.1"/>
<circle cx="679.5" cy="319.6" r="1.1"/>
<circle cx="683.3" cy="312.4" r="1.1"/>
<circle cx="692.1" cy="304.4" r="1.1"/>
<circle cx="683.3" cy="311.4" r="1.1"/>
<circle cx="681.1" cy="312.3" r="1.1"/>
<circle cx="677.7" cy="318.5" r="1.1"/>
<circle cx="679.4" cy="321.3" r="1.1"/>
<circle cx="678.7" cy="319.6" r="1.1"/>
<circle cx="689.4" cy="314.0" r="1.1"/>
<circle cx="672.6" cy="321.3" r="1.1"/>
<circle cx="689.9" cy="311.8" r="1.1"/>
<circle cx="685.9" cy="312.8" r="1.1"/>
<circle cx="690.3" cy="313.0" r="1.1"/>
<circle cx="678.9" cy="315.9" r="1.1"/>
<circle cx="689.7" cy="311.0" r="1.1"/>
<circle cx="692.0" cy="315.9" r="1.1"/>
<circle cx="691.1" cy="309.0" r="1.1"/>
<circle cx="673.6" cy="321.2" r="1.1"/>
<circle cx="672.6" cy="321.2" r="1.1"/>
<circle cx="689.6" cy="314.4" r="1.1"/>
<circle cx="689.6" cy="311.4" r="1.1"/>
<circle cx="692.9" cy="314.9" r="1.1"/>
<circle cx="689.7" cy="319.0" r="1.1"/>
<circle cx="681.9" cy="311.4" r="1.1"/>
<circle cx="681.8" cy="309.4" r="1.1"/>
<circle cx="678.5" cy="316.8" r="1.1"/>
<circle cx="688.1" cy="318.1" r="1.1"/>
<circle cx="679.2" cy="322.7" r="1.1"/>
<circle cx="689.0" cy="308.7" r="1.1"/>
<circle cx="711.9" cy="293.7" r="1.1"/>
<circle cx="706.4" cy="281.8" r="1.1"/>
<circle cx="705.4" cy="287.1" r="1.1"/>
<circle cx="708.0" cy="282.2" r="1.1"/>
<circle cx="700.0" cy="289.2" r="1.1"/>
<circle cx="711.2" cy="290.6" r="1.1"/>
<circle cx="705.7" cy="294.0" r="1.1"/>
<circle cx="699.3" cy="278.7" r="1.1"/>
<circle cx="699.3" cy="287.6" r="1.1"/>
<circle cx="707.9" cy="280.8" r="1.1"/>
<circle cx="710.1" cy="286.7" r="1.1"/>
<circle cx="708.2" cy="293.7" r="1.1"/>
<circle cx="701.0" cy="293.3" r="1.1"/>
<circle cx="704.4" cy="295.3" r="1.1"/>
<circle cx="711.8" cy="284.2" r="1.1"/>
<circle cx="707.9" cy="292.4" r="1.1"/>
<circle cx="700.0" cy="287.3" r="1.1"/>
<circle cx="708.7" cy="291.1" r="1.1"/>
<circle cx="704.8" cy="288.7" r="1.1"/>
<circle cx="711.5" cy="284.0" r="1.1"/>
<circle cx="705.3" cy="287.0" r="1.1"/>
<circle cx="707.2" cy="293.6" r="1.1"/>
<circle cx="703.6" cy="282.0" r="1.1"/>
<circle cx="705.7" cy="289.7" r="1.1"/>
<circle cx="707.6" cy="291.3" r="1.1"/>
<circle cx="705.6" cy="288.0" r="1.1"/>
<circle cx="709.0" cy="285.6" r="1.1"/>
<circle cx="699.5" cy="281.2" r="1.1"/>
<circle cx="704.7" cy="289.6" r="1.1"/>
<circle cx="702.0" cy="286.2" r="1.1"/>
<circle cx="703.6" cy="287.9" r="1.1"/>
<path d="M597.30 220.50V323.40H752.30" fill="none" stroke="#111" stroke-width="1.2"/>
<line x1="593.80" y1="323.40" x2="597.30" y2="323.40" stroke="#111" stroke-width="1.1"/>
<text transform="translate(592.30,326.30) scale(1,1.12)" text-anchor="end" class="tk">0</text>
<line x1="593.80" y1="297.67" x2="597.30" y2="297.67" stroke="#111" stroke-width="1.1"/>
<text transform="translate(592.30,300.57) scale(1,1.12)" text-anchor="end" class="tk">2</text>
<line x1="593.80" y1="271.95" x2="597.30" y2="271.95" stroke="#111" stroke-width="1.1"/>
<text transform="translate(592.30,274.85) scale(1,1.12)" text-anchor="end" class="tk">4</text>
<line x1="593.80" y1="246.22" x2="597.30" y2="246.22" stroke="#111" stroke-width="1.1"/>
<text transform="translate(592.30,249.12) scale(1,1.12)" text-anchor="end" class="tk">6</text>
<line x1="593.80" y1="220.50" x2="597.30" y2="220.50" stroke="#111" stroke-width="1.1"/>
<text transform="translate(592.30,223.40) scale(1,1.12)" text-anchor="end" class="tk">8</text>
<line x1="597.30" y1="323.40" x2="597.30" y2="327.60" stroke="#111" stroke-width="1.1"/>
<line x1="612.80" y1="323.40" x2="612.80" y2="326.20" stroke="#111" stroke-width="1.1"/>
<line x1="628.30" y1="323.40" x2="628.30" y2="326.20" stroke="#111" stroke-width="1.1"/>
<line x1="643.80" y1="323.40" x2="643.80" y2="326.20" stroke="#111" stroke-width="1.1"/>
<line x1="659.30" y1="323.40" x2="659.30" y2="326.20" stroke="#111" stroke-width="1.1"/>
<line x1="674.80" y1="323.40" x2="674.80" y2="327.60" stroke="#111" stroke-width="1.1"/>
<line x1="690.30" y1="323.40" x2="690.30" y2="326.20" stroke="#111" stroke-width="1.1"/>
<line x1="705.80" y1="323.40" x2="705.80" y2="326.20" stroke="#111" stroke-width="1.1"/>
<line x1="721.30" y1="323.40" x2="721.30" y2="326.20" stroke="#111" stroke-width="1.1"/>
<line x1="736.80" y1="323.40" x2="736.80" y2="326.20" stroke="#111" stroke-width="1.1"/>
<line x1="752.30" y1="323.40" x2="752.30" y2="327.60" stroke="#111" stroke-width="1.1"/>
<text transform="translate(597.30,337.20) scale(1,1.12)" text-anchor="middle" class="tk">-5</text>
<text transform="translate(674.80,337.20) scale(1,1.12)" text-anchor="middle" class="tk">0</text>
<text transform="translate(752.30,337.20) scale(1,1.12)" text-anchor="middle" class="tk">5</text>
<text x="674.80" y="348.80" text-anchor="middle" class="al xl">-log<tspan font-size="7" dy="1.8">2</tspan><tspan dy="-1.8">(FC)</tspan></text>
<text transform="translate(581.70,271.95) rotate(-90)" text-anchor="middle" class="al">-log<tspan font-size="6.5" dy="1.6">10</tspan><tspan dy="-1.6">(p value)</tspan></text>
<text transform="translate(625.10,215.00) scale(1,1.1)" text-anchor="middle" class="hd">XN-ABP-3</text>
<text transform="translate(672.30,215.00) scale(1,1.1)" text-anchor="middle" class="hd">vs</text>
<text transform="translate(721.30,215.00) scale(1,1.1)" text-anchor="middle" class="hd">IXN-ABP-3</text>
</svg></body></html>
